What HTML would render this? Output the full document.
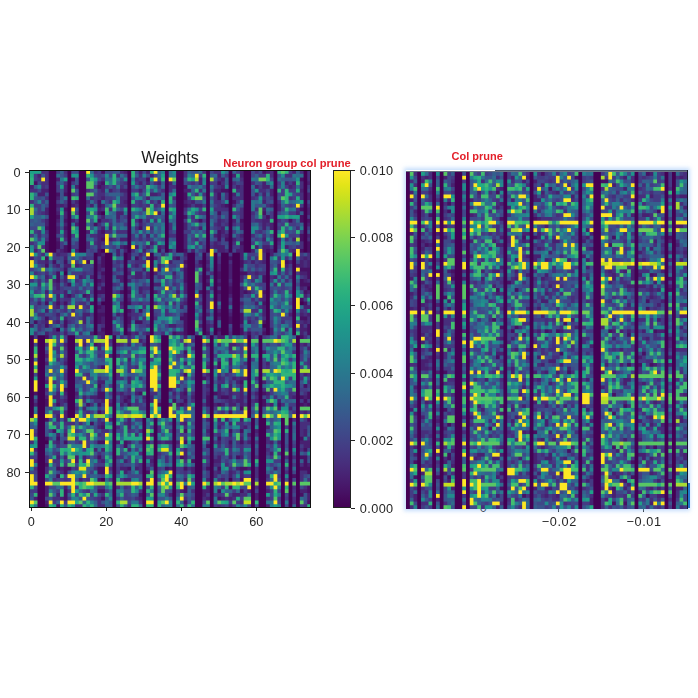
<!DOCTYPE html><html><head><meta charset="utf-8"><title>Weights</title><style>
*{margin:0;padding:0;box-sizing:border-box}
html,body{width:698px;height:698px;background:#fff;overflow:hidden}
body{position:relative;font-family:"Liberation Sans",sans-serif;color:#262626}
.a{position:absolute}
.t{position:absolute;font-size:12.7px;line-height:1;white-space:nowrap}
.tk{position:absolute;background:#262626}
.red{position:absolute;color:#e3202a;font-weight:bold;white-space:nowrap;line-height:1}
</style></head><body>
<div class="a" style="left:29.60px;top:170.40px;width:281.25px;height:337.50px"><svg width="281.25" height="337.50" viewBox="0 0 75 90" preserveAspectRatio="none" shape-rendering="crispEdges" style="display:block"><rect width="75" height="90" fill="#440154"/><path fill="#471164" d="M19 0h1v1h-1zM62 0h1v1h-1zM11 2h1v1h-1zM31 2h1v1h-1zM72 2h1v1h-1zM1 3h1v1h-1zM19 3h1v1h-1zM50 3h1v1h-1zM18 4h1v1h-1zM41 4h1v1h-1zM51 5h2v1h-2zM7 6h1v1h-1zM9 6h1v1h-1zM41 6h1v1h-1zM50 6h1v1h-1zM41 7h1v1h-1zM50 7h1v1h-1zM18 8h1v1h-1zM54 8h1v1h-1zM18 9h1v1h-1zM41 9h1v1h-1zM52 9h1v1h-1zM9 10h1v1h-1zM72 10h1v1h-1zM18 11h1v1h-1zM50 11h1v1h-1zM62 11h1v1h-1zM7 12h1v1h-1zM41 12h1v1h-1zM63 12h1v1h-1zM72 12h1v1h-1zM9 13h1v1h-1zM18 13h1v1h-1zM29 13h1v1h-1zM45 13h1v1h-1zM56 13h1v1h-1zM69 13h1v1h-1zM72 13h1v1h-1zM74 13h1v1h-1zM17 14h1v1h-1zM4 15h1v1h-1zM9 15h1v1h-1zM29 15h1v1h-1zM19 16h1v1h-1zM50 16h1v1h-1zM50 17h1v1h-1zM72 17h1v1h-1zM19 18h1v1h-1zM50 18h1v1h-1zM52 18h1v1h-1zM72 18h1v1h-1zM4 19h1v1h-1zM7 19h1v1h-1zM56 19h1v1h-1zM74 19h1v1h-1zM4 20h1v1h-1zM7 20h1v1h-1zM9 20h1v1h-1zM25 20h1v1h-1zM74 20h1v1h-1zM4 21h1v1h-1zM9 21h1v1h-1zM18 21h1v1h-1zM34 21h1v1h-1zM41 21h1v1h-1zM63 21h1v1h-1zM72 21h1v1h-1zM74 21h1v1h-1zM18 22h1v1h-1zM26 22h1v1h-1zM4 23h1v1h-1zM19 23h1v1h-1zM26 23h1v1h-1zM28 23h1v1h-1zM39 23h1v1h-1zM53 23h1v1h-1zM6 24h1v1h-1zM9 24h1v1h-1zM15 24h1v1h-1zM19 24h1v1h-1zM41 24h1v1h-1zM45 24h1v1h-1zM56 24h1v1h-1zM68 24h1v1h-1zM4 25h1v1h-1zM19 25h1v1h-1zM56 25h1v1h-1zM9 26h1v1h-1zM41 26h1v1h-1zM72 26h3v1h-3zM7 27h1v1h-1zM19 27h1v1h-1zM41 27h1v1h-1zM50 27h1v1h-1zM56 27h2v1h-2zM74 27h1v1h-1zM7 28h1v1h-1zM41 28h1v1h-1zM47 28h1v1h-1zM50 28h1v1h-1zM62 28h1v1h-1zM74 28h1v1h-1zM7 29h1v1h-1zM18 29h1v1h-1zM41 29h1v1h-1zM62 29h1v1h-1zM72 29h1v1h-1zM10 30h1v1h-1zM47 30h1v1h-1zM50 30h1v1h-1zM72 30h3v1h-3zM19 31h1v1h-1zM53 31h1v1h-1zM18 32h2v1h-2zM24 32h1v1h-1zM26 32h1v1h-1zM45 32h1v1h-1zM50 32h1v1h-1zM53 32h1v1h-1zM57 32h1v1h-1zM62 32h1v1h-1zM73 32h1v1h-1zM10 33h1v1h-1zM14 33h1v1h-1zM72 34h1v1h-1zM4 35h1v1h-1zM7 35h1v1h-1zM9 35h1v1h-1zM16 35h1v1h-1zM26 35h1v1h-1zM62 35h1v1h-1zM73 35h1v1h-1zM18 36h1v1h-1zM26 37h1v1h-1zM29 37h1v1h-1zM18 38h2v1h-2zM41 38h1v1h-1zM50 38h1v1h-1zM56 38h1v1h-1zM4 39h1v1h-1zM18 39h1v1h-1zM26 39h1v1h-1zM40 39h2v1h-2zM53 39h1v1h-1zM56 39h1v1h-1zM72 39h2v1h-2zM1 40h1v1h-1zM9 40h1v1h-1zM18 40h1v1h-1zM26 40h1v1h-1zM28 40h2v1h-2zM41 40h1v1h-1zM53 40h1v1h-1zM56 40h1v1h-1zM62 40h1v1h-1zM4 41h1v1h-1zM9 41h1v1h-1zM41 41h1v1h-1zM74 41h1v1h-1zM19 42h1v1h-1zM41 42h1v1h-1zM50 42h1v1h-1zM56 42h1v1h-1zM74 42h1v1h-1zM26 43h1v1h-1zM38 43h1v1h-1zM41 43h1v1h-1zM47 43h1v1h-1zM56 43h1v1h-1zM58 43h1v1h-1zM62 43h1v1h-1zM74 43h1v1h-1zM4 44h1v1h-1zM72 44h1v1h-1zM17 46h1v1h-1zM41 48h1v1h-1zM50 51h1v1h-1zM19 52h1v1h-1zM50 52h1v1h-1zM41 54h1v1h-1zM46 55h1v1h-1zM56 56h1v1h-1zM18 57h1v1h-1zM73 57h1v1h-1zM9 58h1v1h-1zM1 59h1v1h-1zM18 59h2v1h-2zM29 59h1v1h-1zM41 59h1v1h-1zM49 59h1v1h-1zM62 59h1v1h-1zM74 59h1v1h-1zM18 60h2v1h-2zM26 60h1v1h-1zM47 60h1v1h-1zM51 60h2v1h-2zM72 60h1v1h-1zM74 60h1v1h-1zM4 61h1v1h-1zM25 61h1v1h-1zM38 61h1v1h-1zM41 61h1v1h-1zM47 61h1v1h-1zM62 61h1v1h-1zM73 61h1v1h-1zM4 62h1v1h-1zM7 62h1v1h-1zM15 62h1v1h-1zM18 62h1v1h-1zM26 62h1v1h-1zM34 62h1v1h-1zM40 62h1v1h-1zM47 62h1v1h-1zM50 62h1v1h-1zM62 62h1v1h-1zM66 62h1v1h-1zM72 62h1v1h-1zM74 62h1v1h-1zM56 63h1v1h-1zM18 64h1v1h-1zM53 64h1v1h-1zM4 66h1v1h-1zM74 66h1v1h-1zM16 67h1v1h-1zM19 68h1v1h-1zM6 69h1v1h-1zM41 69h1v1h-1zM53 69h1v1h-1zM56 69h1v1h-1zM4 71h1v1h-1zM7 71h1v1h-1zM50 71h1v1h-1zM72 71h1v1h-1zM9 72h1v1h-1zM18 72h2v1h-2zM25 72h1v1h-1zM41 72h1v1h-1zM43 72h1v1h-1zM53 72h1v1h-1zM56 72h1v1h-1zM25 73h1v1h-1zM47 73h1v1h-1zM73 74h1v1h-1zM18 76h1v1h-1zM40 76h1v1h-1zM55 76h1v1h-1zM72 76h2v1h-2zM43 77h1v1h-1zM73 77h1v1h-1zM4 78h1v1h-1zM73 78h1v1h-1zM7 79h1v1h-1zM9 79h2v1h-2zM18 79h2v1h-2zM26 79h1v1h-1zM36 79h1v1h-1zM41 79h1v1h-1zM47 79h1v1h-1zM50 79h1v1h-1zM56 79h2v1h-2zM72 79h3v1h-3zM9 80h1v1h-1zM18 80h2v1h-2zM31 80h1v1h-1zM74 80h1v1h-1zM7 81h1v1h-1zM70 81h1v1h-1zM18 82h1v1h-1zM56 82h1v1h-1zM41 84h1v1h-1zM53 84h1v1h-1zM74 84h1v1h-1zM9 85h1v1h-1zM18 85h2v1h-2zM41 85h1v1h-1zM50 85h1v1h-1zM56 85h1v1h-1zM74 85h1v1h-1zM9 86h1v1h-1zM29 86h1v1h-1zM72 86h1v1h-1zM9 87h1v1h-1zM19 87h1v1h-1zM50 87h1v1h-1zM41 88h1v1h-1zM74 88h1v1h-1zM4 89h1v1h-1zM7 89h1v1h-1z"/><path fill="#482071" d="M25 0h1v1h-1zM29 0h1v1h-1zM31 0h1v1h-1zM56 0h1v1h-1zM63 0h1v1h-1zM70 0h1v1h-1zM2 1h1v1h-1zM32 1h1v1h-1zM50 1h1v1h-1zM54 1h1v1h-1zM56 1h1v1h-1zM7 2h1v1h-1zM45 2h1v1h-1zM51 2h1v1h-1zM18 3h1v1h-1zM29 3h1v1h-1zM31 3h1v1h-1zM34 3h1v1h-1zM37 3h1v1h-1zM45 3h1v1h-1zM62 3h1v1h-1zM68 3h1v1h-1zM70 3h1v1h-1zM74 3h1v1h-1zM0 4h1v1h-1zM9 4h1v1h-1zM12 4h1v1h-1zM19 4h1v1h-1zM51 4h1v1h-1zM55 4h1v1h-1zM60 4h1v1h-1zM62 4h2v1h-2zM69 4h1v1h-1zM3 5h2v1h-2zM9 5h1v1h-1zM19 5h1v1h-1zM21 5h1v1h-1zM24 5h2v1h-2zM29 5h1v1h-1zM41 5h2v1h-2zM49 5h2v1h-2zM64 5h1v1h-1zM72 5h1v1h-1zM2 6h2v1h-2zM32 6h2v1h-2zM54 6h1v1h-1zM60 6h1v1h-1zM62 6h1v1h-1zM64 6h1v1h-1zM74 6h1v1h-1zM7 7h1v1h-1zM19 7h1v1h-1zM31 7h1v1h-1zM74 7h1v1h-1zM12 8h1v1h-1zM25 8h1v1h-1zM34 8h1v1h-1zM41 8h1v1h-1zM43 8h1v1h-1zM62 8h1v1h-1zM7 9h2v1h-2zM11 9h1v1h-1zM16 9h1v1h-1zM19 9h1v1h-1zM42 9h1v1h-1zM44 9h2v1h-2zM51 9h1v1h-1zM64 9h1v1h-1zM66 9h1v1h-1zM4 10h1v1h-1zM18 10h1v1h-1zM62 10h1v1h-1zM66 10h1v1h-1zM74 10h1v1h-1zM4 11h1v1h-1zM7 11h1v1h-1zM9 11h1v1h-1zM23 11h2v1h-2zM34 11h1v1h-1zM71 11h1v1h-1zM74 11h1v1h-1zM9 12h1v1h-1zM19 12h1v1h-1zM23 12h1v1h-1zM4 13h1v1h-1zM7 13h1v1h-1zM11 13h1v1h-1zM50 13h1v1h-1zM54 13h1v1h-1zM62 13h2v1h-2zM4 14h1v1h-1zM9 14h1v1h-1zM12 14h1v1h-1zM29 14h1v1h-1zM41 14h1v1h-1zM50 14h1v1h-1zM56 14h1v1h-1zM62 14h1v1h-1zM64 14h1v1h-1zM74 14h1v1h-1zM7 15h1v1h-1zM19 15h1v1h-1zM21 15h1v1h-1zM41 15h1v1h-1zM45 15h1v1h-1zM51 15h1v1h-1zM56 15h1v1h-1zM62 15h1v1h-1zM64 15h1v1h-1zM7 16h1v1h-1zM9 16h1v1h-1zM15 16h1v1h-1zM18 16h1v1h-1zM51 16h1v1h-1zM9 17h1v1h-1zM18 17h2v1h-2zM31 17h1v1h-1zM41 17h1v1h-1zM49 17h1v1h-1zM52 17h1v1h-1zM56 17h1v1h-1zM74 17h1v1h-1zM7 18h1v1h-1zM18 18h1v1h-1zM21 18h1v1h-1zM24 18h2v1h-2zM41 18h1v1h-1zM54 18h1v1h-1zM62 18h1v1h-1zM66 18h1v1h-1zM70 18h1v1h-1zM18 19h1v1h-1zM32 19h1v1h-1zM41 19h1v1h-1zM49 19h1v1h-1zM18 20h1v1h-1zM24 20h1v1h-1zM28 20h1v1h-1zM31 20h1v1h-1zM34 20h1v1h-1zM41 20h1v1h-1zM49 20h3v1h-3zM56 20h1v1h-1zM60 20h1v1h-1zM62 20h2v1h-2zM68 20h1v1h-1zM1 21h1v1h-1zM8 21h1v1h-1zM12 21h1v1h-1zM23 21h1v1h-1zM25 21h1v1h-1zM30 21h1v1h-1zM37 21h1v1h-1zM43 21h1v1h-1zM50 21h2v1h-2zM55 21h2v1h-2zM59 21h1v1h-1zM62 21h1v1h-1zM64 21h1v1h-1zM70 21h1v1h-1zM7 22h1v1h-1zM19 22h1v1h-1zM23 22h1v1h-1zM29 22h1v1h-1zM41 22h1v1h-1zM56 22h1v1h-1zM64 22h1v1h-1zM0 23h1v1h-1zM9 23h1v1h-1zM31 23h1v1h-1zM33 23h1v1h-1zM38 23h1v1h-1zM56 23h1v1h-1zM73 23h1v1h-1zM4 24h1v1h-1zM37 24h1v1h-1zM47 24h1v1h-1zM59 24h1v1h-1zM62 24h1v1h-1zM69 24h1v1h-1zM72 24h1v1h-1zM74 24h1v1h-1zM7 25h1v1h-1zM9 25h2v1h-2zM12 25h1v1h-1zM18 25h1v1h-1zM28 25h1v1h-1zM34 25h1v1h-1zM41 25h1v1h-1zM45 25h1v1h-1zM50 25h1v1h-1zM53 25h1v1h-1zM66 25h1v1h-1zM68 25h1v1h-1zM71 25h2v1h-2zM74 25h1v1h-1zM18 26h1v1h-1zM30 26h1v1h-1zM34 26h1v1h-1zM47 26h1v1h-1zM50 26h1v1h-1zM53 26h1v1h-1zM66 26h1v1h-1zM26 27h1v1h-1zM28 27h2v1h-2zM31 27h1v1h-1zM33 27h1v1h-1zM38 27h1v1h-1zM53 27h1v1h-1zM60 27h1v1h-1zM72 27h2v1h-2zM4 28h1v1h-1zM9 28h1v1h-1zM13 28h1v1h-1zM16 28h1v1h-1zM19 28h1v1h-1zM23 28h2v1h-2zM28 28h2v1h-2zM31 28h1v1h-1zM53 28h1v1h-1zM56 28h1v1h-1zM65 28h1v1h-1zM6 29h1v1h-1zM9 29h1v1h-1zM19 29h1v1h-1zM24 29h1v1h-1zM26 29h1v1h-1zM47 29h1v1h-1zM50 29h1v1h-1zM56 29h1v1h-1zM73 29h1v1h-1zM7 30h1v1h-1zM18 30h1v1h-1zM33 30h2v1h-2zM41 30h1v1h-1zM53 30h1v1h-1zM7 31h1v1h-1zM26 31h1v1h-1zM29 31h1v1h-1zM41 31h1v1h-1zM56 31h1v1h-1zM72 31h1v1h-1zM4 32h1v1h-1zM9 32h1v1h-1zM29 32h1v1h-1zM33 32h1v1h-1zM39 32h1v1h-1zM41 32h1v1h-1zM47 32h1v1h-1zM56 32h1v1h-1zM58 32h1v1h-1zM74 32h1v1h-1zM7 33h1v1h-1zM9 33h1v1h-1zM15 33h1v1h-1zM50 33h1v1h-1zM53 33h1v1h-1zM56 33h1v1h-1zM62 33h1v1h-1zM73 33h1v1h-1zM7 34h1v1h-1zM26 34h1v1h-1zM50 34h1v1h-1zM62 34h1v1h-1zM2 35h1v1h-1zM24 35h1v1h-1zM41 35h1v1h-1zM56 35h1v1h-1zM60 35h1v1h-1zM7 36h1v1h-1zM19 36h1v1h-1zM40 36h1v1h-1zM62 36h1v1h-1zM73 36h2v1h-2zM4 37h1v1h-1zM18 37h2v1h-2zM50 37h1v1h-1zM62 37h1v1h-1zM7 38h1v1h-1zM14 38h2v1h-2zM23 38h1v1h-1zM26 38h1v1h-1zM47 38h1v1h-1zM53 38h1v1h-1zM62 38h1v1h-1zM69 38h1v1h-1zM72 38h1v1h-1zM74 38h1v1h-1zM9 39h1v1h-1zM14 39h1v1h-1zM19 39h1v1h-1zM50 39h1v1h-1zM4 40h1v1h-1zM7 40h1v1h-1zM14 40h1v1h-1zM19 40h1v1h-1zM58 40h1v1h-1zM73 40h1v1h-1zM0 41h1v1h-1zM26 41h1v1h-1zM37 41h2v1h-2zM45 41h1v1h-1zM47 41h1v1h-1zM72 41h1v1h-1zM47 42h1v1h-1zM62 42h1v1h-1zM64 42h1v1h-1zM72 42h2v1h-2zM4 43h1v1h-1zM9 43h1v1h-1zM16 43h1v1h-1zM18 43h2v1h-2zM28 43h1v1h-1zM31 43h1v1h-1zM39 43h2v1h-2zM50 43h1v1h-1zM64 43h1v1h-1zM72 43h1v1h-1zM19 44h1v1h-1zM26 44h1v1h-1zM41 44h1v1h-1zM50 44h2v1h-2zM29 45h1v1h-1zM9 46h1v1h-1zM14 46h1v1h-1zM18 46h1v1h-1zM23 46h1v1h-1zM26 46h1v1h-1zM30 46h1v1h-1zM47 46h1v1h-1zM53 46h2v1h-2zM73 46h1v1h-1zM18 47h1v1h-1zM53 47h1v1h-1zM74 47h1v1h-1zM62 48h1v1h-1zM4 49h1v1h-1zM21 49h1v1h-1zM23 49h1v1h-1zM41 49h1v1h-1zM26 50h1v1h-1zM53 50h1v1h-1zM4 51h1v1h-1zM9 51h1v1h-1zM41 51h1v1h-1zM53 51h1v1h-1zM63 51h1v1h-1zM47 52h1v1h-1zM53 53h1v1h-1zM47 54h1v1h-1zM73 54h1v1h-1zM26 55h1v1h-1zM50 55h1v1h-1zM54 55h1v1h-1zM56 55h2v1h-2zM4 56h1v1h-1zM18 56h2v1h-2zM26 56h1v1h-1zM55 56h1v1h-1zM62 56h1v1h-1zM47 57h1v1h-1zM50 57h1v1h-1zM53 57h1v1h-1zM56 57h1v1h-1zM18 58h1v1h-1zM37 58h1v1h-1zM41 58h1v1h-1zM50 58h1v1h-1zM53 58h1v1h-1zM56 58h1v1h-1zM7 59h1v1h-1zM9 59h1v1h-1zM12 59h1v1h-1zM24 59h1v1h-1zM28 59h1v1h-1zM38 59h1v1h-1zM40 59h1v1h-1zM47 59h1v1h-1zM50 59h1v1h-1zM53 59h1v1h-1zM56 59h1v1h-1zM60 59h1v1h-1zM63 59h1v1h-1zM4 60h1v1h-1zM6 60h2v1h-2zM14 60h1v1h-1zM16 60h2v1h-2zM25 60h1v1h-1zM30 60h1v1h-1zM32 60h1v1h-1zM40 60h2v1h-2zM43 60h1v1h-1zM50 60h1v1h-1zM53 60h1v1h-1zM56 60h1v1h-1zM70 60h1v1h-1zM73 60h1v1h-1zM7 61h1v1h-1zM9 61h1v1h-1zM19 61h1v1h-1zM26 61h1v1h-1zM32 61h1v1h-1zM53 61h1v1h-1zM55 61h2v1h-2zM60 61h1v1h-1zM66 61h1v1h-1zM1 62h1v1h-1zM21 62h1v1h-1zM24 62h1v1h-1zM37 62h1v1h-1zM39 62h1v1h-1zM41 62h1v1h-1zM49 62h1v1h-1zM51 62h1v1h-1zM53 62h2v1h-2zM56 62h1v1h-1zM64 62h1v1h-1zM73 62h1v1h-1zM14 63h1v1h-1zM66 63h1v1h-1zM69 63h1v1h-1zM9 64h1v1h-1zM73 64h1v1h-1zM7 65h1v1h-1zM9 65h1v1h-1zM7 66h1v1h-1zM9 66h1v1h-1zM21 66h1v1h-1zM26 66h1v1h-1zM47 66h1v1h-1zM50 66h1v1h-1zM52 66h1v1h-1zM56 66h1v1h-1zM19 67h1v1h-1zM26 67h1v1h-1zM41 67h1v1h-1zM53 67h1v1h-1zM18 68h1v1h-1zM26 68h1v1h-1zM50 68h1v1h-1zM57 68h1v1h-1zM63 68h1v1h-1zM47 69h1v1h-1zM60 69h1v1h-1zM73 69h1v1h-1zM7 70h1v1h-1zM9 70h1v1h-1zM32 70h1v1h-1zM53 70h1v1h-1zM58 70h1v1h-1zM73 70h1v1h-1zM56 71h1v1h-1zM7 72h1v1h-1zM23 72h1v1h-1zM26 72h1v1h-1zM31 72h1v1h-1zM34 72h1v1h-1zM36 72h2v1h-2zM39 72h1v1h-1zM50 72h1v1h-1zM58 72h1v1h-1zM64 72h1v1h-1zM66 72h1v1h-1zM72 72h3v1h-3zM53 73h1v1h-1zM73 73h2v1h-2zM1 74h1v1h-1zM17 74h1v1h-1zM19 74h1v1h-1zM26 74h1v1h-1zM41 74h1v1h-1zM41 75h1v1h-1zM64 75h1v1h-1zM7 76h1v1h-1zM9 76h1v1h-1zM12 76h1v1h-1zM14 76h1v1h-1zM41 76h1v1h-1zM50 76h1v1h-1zM53 76h1v1h-1zM56 76h1v1h-1zM12 77h1v1h-1zM19 77h1v1h-1zM25 77h1v1h-1zM32 77h1v1h-1zM49 77h2v1h-2zM74 78h1v1h-1zM8 79h1v1h-1zM24 79h2v1h-2zM28 79h1v1h-1zM37 79h1v1h-1zM43 79h1v1h-1zM55 79h1v1h-1zM58 79h1v1h-1zM65 79h1v1h-1zM25 80h1v1h-1zM43 80h1v1h-1zM50 80h1v1h-1zM53 80h1v1h-1zM56 80h1v1h-1zM53 81h1v1h-1zM56 81h1v1h-1zM13 82h1v1h-1zM25 82h2v1h-2zM41 82h1v1h-1zM47 82h1v1h-1zM51 82h1v1h-1zM4 84h1v1h-1zM9 84h1v1h-1zM47 84h1v1h-1zM4 85h1v1h-1zM40 85h1v1h-1zM46 85h2v1h-2zM58 85h1v1h-1zM63 85h1v1h-1zM72 85h2v1h-2zM4 86h1v1h-1zM7 86h1v1h-1zM37 86h1v1h-1zM46 86h1v1h-1zM54 86h2v1h-2zM60 86h1v1h-1zM74 86h1v1h-1zM1 87h1v1h-1zM8 87h1v1h-1zM29 87h1v1h-1zM47 87h1v1h-1zM51 87h1v1h-1zM53 87h1v1h-1zM60 87h1v1h-1zM74 87h1v1h-1zM4 88h1v1h-1zM53 89h1v1h-1zM63 89h1v1h-1z"/><path fill="#472e7c" d="M3 0h2v1h-2zM9 0h1v1h-1zM17 0h1v1h-1zM24 0h1v1h-1zM41 0h1v1h-1zM46 0h1v1h-1zM49 0h2v1h-2zM60 0h1v1h-1zM64 0h1v1h-1zM72 0h1v1h-1zM74 0h1v1h-1zM4 1h1v1h-1zM23 1h1v1h-1zM29 1h1v1h-1zM41 1h1v1h-1zM64 1h1v1h-1zM68 1h2v1h-2zM74 1h1v1h-1zM2 2h1v1h-1zM4 2h1v1h-1zM19 2h1v1h-1zM28 2h1v1h-1zM50 2h1v1h-1zM56 2h1v1h-1zM74 2h1v1h-1zM3 3h2v1h-2zM9 3h1v1h-1zM25 3h1v1h-1zM33 3h1v1h-1zM43 3h1v1h-1zM51 3h1v1h-1zM54 3h1v1h-1zM59 3h1v1h-1zM72 3h1v1h-1zM3 4h1v1h-1zM24 4h1v1h-1zM37 4h2v1h-2zM50 4h1v1h-1zM56 4h1v1h-1zM70 4h1v1h-1zM72 4h1v1h-1zM0 5h2v1h-2zM15 5h1v1h-1zM18 5h1v1h-1zM35 5h1v1h-1zM37 5h1v1h-1zM45 5h1v1h-1zM55 5h2v1h-2zM61 5h2v1h-2zM18 6h2v1h-2zM25 6h1v1h-1zM34 6h1v1h-1zM44 6h1v1h-1zM46 6h1v1h-1zM49 6h1v1h-1zM52 6h1v1h-1zM56 6h1v1h-1zM72 6h1v1h-1zM4 7h1v1h-1zM16 7h1v1h-1zM18 7h1v1h-1zM24 7h2v1h-2zM38 7h1v1h-1zM49 7h1v1h-1zM52 7h1v1h-1zM54 7h3v1h-3zM59 7h1v1h-1zM62 7h1v1h-1zM69 7h1v1h-1zM72 7h1v1h-1zM0 8h1v1h-1zM15 8h1v1h-1zM21 8h1v1h-1zM24 8h1v1h-1zM29 8h1v1h-1zM32 8h1v1h-1zM42 8h1v1h-1zM49 8h2v1h-2zM66 8h1v1h-1zM9 9h1v1h-1zM12 9h1v1h-1zM24 9h2v1h-2zM29 9h1v1h-1zM31 9h1v1h-1zM33 9h1v1h-1zM50 9h1v1h-1zM54 9h1v1h-1zM63 9h1v1h-1zM74 9h1v1h-1zM7 10h1v1h-1zM19 10h1v1h-1zM21 10h1v1h-1zM30 10h1v1h-1zM41 10h1v1h-1zM49 10h4v1h-4zM56 10h1v1h-1zM60 10h1v1h-1zM71 10h1v1h-1zM3 11h1v1h-1zM45 11h2v1h-2zM56 11h1v1h-1zM59 11h1v1h-1zM43 12h1v1h-1zM50 12h1v1h-1zM56 12h1v1h-1zM62 12h1v1h-1zM19 13h2v1h-2zM23 13h1v1h-1zM28 13h1v1h-1zM31 13h1v1h-1zM33 13h1v1h-1zM44 13h1v1h-1zM51 13h1v1h-1zM60 13h2v1h-2zM66 13h1v1h-1zM7 14h1v1h-1zM18 14h1v1h-1zM21 14h1v1h-1zM37 14h1v1h-1zM49 14h1v1h-1zM52 14h1v1h-1zM54 14h1v1h-1zM63 14h1v1h-1zM28 15h1v1h-1zM32 15h1v1h-1zM37 15h1v1h-1zM50 15h1v1h-1zM71 15h1v1h-1zM2 16h1v1h-1zM4 16h1v1h-1zM20 16h2v1h-2zM23 16h3v1h-3zM61 16h1v1h-1zM2 17h1v1h-1zM16 17h2v1h-2zM29 17h1v1h-1zM37 17h2v1h-2zM51 17h1v1h-1zM59 17h1v1h-1zM62 17h1v1h-1zM4 18h1v1h-1zM9 18h1v1h-1zM22 18h1v1h-1zM29 18h1v1h-1zM31 18h1v1h-1zM44 18h1v1h-1zM56 18h1v1h-1zM68 18h1v1h-1zM74 18h1v1h-1zM0 19h1v1h-1zM15 19h1v1h-1zM17 19h1v1h-1zM19 19h1v1h-1zM45 19h1v1h-1zM50 19h1v1h-1zM54 19h1v1h-1zM66 19h1v1h-1zM72 19h1v1h-1zM3 20h1v1h-1zM15 20h1v1h-1zM35 20h1v1h-1zM48 20h1v1h-1zM71 20h2v1h-2zM7 21h1v1h-1zM27 21h1v1h-1zM46 21h1v1h-1zM52 21h1v1h-1zM69 21h1v1h-1zM3 22h1v1h-1zM8 22h2v1h-2zM35 22h1v1h-1zM62 22h1v1h-1zM74 22h1v1h-1zM14 23h1v1h-1zM29 23h1v1h-1zM41 23h1v1h-1zM47 23h1v1h-1zM50 23h1v1h-1zM58 23h1v1h-1zM60 23h1v1h-1zM62 23h1v1h-1zM66 23h1v1h-1zM68 23h1v1h-1zM72 23h1v1h-1zM74 23h1v1h-1zM2 24h2v1h-2zM18 24h1v1h-1zM23 24h1v1h-1zM28 24h3v1h-3zM50 24h1v1h-1zM53 24h1v1h-1zM57 24h1v1h-1zM61 24h1v1h-1zM73 24h1v1h-1zM6 25h1v1h-1zM13 25h1v1h-1zM27 25h1v1h-1zM44 25h1v1h-1zM47 25h1v1h-1zM60 25h1v1h-1zM73 25h1v1h-1zM19 26h1v1h-1zM23 26h1v1h-1zM26 26h1v1h-1zM56 26h1v1h-1zM68 26h1v1h-1zM1 27h1v1h-1zM4 27h1v1h-1zM14 27h1v1h-1zM18 27h1v1h-1zM48 27h1v1h-1zM58 27h2v1h-2zM61 27h2v1h-2zM66 27h1v1h-1zM68 27h1v1h-1zM14 28h1v1h-1zM27 28h1v1h-1zM34 28h1v1h-1zM38 28h1v1h-1zM45 28h1v1h-1zM60 28h1v1h-1zM64 28h1v1h-1zM69 28h1v1h-1zM73 28h1v1h-1zM0 29h1v1h-1zM2 29h1v1h-1zM4 29h1v1h-1zM12 29h1v1h-1zM45 29h1v1h-1zM53 29h1v1h-1zM59 29h1v1h-1zM68 29h1v1h-1zM74 29h1v1h-1zM2 30h1v1h-1zM6 30h1v1h-1zM9 30h1v1h-1zM22 30h1v1h-1zM38 30h1v1h-1zM65 30h1v1h-1zM30 31h2v1h-2zM48 31h1v1h-1zM50 31h1v1h-1zM73 31h1v1h-1zM6 32h2v1h-2zM12 32h1v1h-1zM23 32h1v1h-1zM11 33h1v1h-1zM18 33h1v1h-1zM26 33h1v1h-1zM30 33h1v1h-1zM47 33h1v1h-1zM4 34h1v1h-1zM9 34h2v1h-2zM15 34h1v1h-1zM19 34h1v1h-1zM41 34h1v1h-1zM47 34h1v1h-1zM59 34h1v1h-1zM61 34h1v1h-1zM6 35h1v1h-1zM8 35h1v1h-1zM13 35h2v1h-2zM18 35h1v1h-1zM29 35h1v1h-1zM33 35h1v1h-1zM36 35h1v1h-1zM38 35h1v1h-1zM40 35h1v1h-1zM45 35h1v1h-1zM47 35h1v1h-1zM53 35h1v1h-1zM6 36h1v1h-1zM9 36h1v1h-1zM12 36h1v1h-1zM15 36h1v1h-1zM24 36h1v1h-1zM30 36h1v1h-1zM47 36h1v1h-1zM56 36h1v1h-1zM61 36h1v1h-1zM9 37h1v1h-1zM11 37h1v1h-1zM27 37h1v1h-1zM36 37h1v1h-1zM53 37h1v1h-1zM59 37h2v1h-2zM72 37h1v1h-1zM2 38h2v1h-2zM24 38h1v1h-1zM27 38h2v1h-2zM36 38h1v1h-1zM40 38h1v1h-1zM73 38h1v1h-1zM7 39h1v1h-1zM22 39h1v1h-1zM28 39h1v1h-1zM30 39h1v1h-1zM33 39h1v1h-1zM45 39h1v1h-1zM58 39h1v1h-1zM60 39h1v1h-1zM62 39h1v1h-1zM74 39h1v1h-1zM3 40h1v1h-1zM6 40h1v1h-1zM10 40h1v1h-1zM47 40h1v1h-1zM67 40h1v1h-1zM72 40h1v1h-1zM74 40h1v1h-1zM2 41h1v1h-1zM19 41h1v1h-1zM31 41h1v1h-1zM48 41h1v1h-1zM56 41h1v1h-1zM2 42h1v1h-1zM6 42h1v1h-1zM9 42h1v1h-1zM68 42h1v1h-1zM1 43h1v1h-1zM6 43h2v1h-2zM13 43h1v1h-1zM22 43h2v1h-2zM27 43h1v1h-1zM30 43h1v1h-1zM35 43h1v1h-1zM53 43h1v1h-1zM57 43h1v1h-1zM60 43h1v1h-1zM24 44h1v1h-1zM66 44h1v1h-1zM73 44h1v1h-1zM14 45h1v1h-1zM21 45h1v1h-1zM26 45h1v1h-1zM43 45h1v1h-1zM4 46h1v1h-1zM24 46h1v1h-1zM41 46h1v1h-1zM50 46h1v1h-1zM55 46h1v1h-1zM72 46h1v1h-1zM7 47h1v1h-1zM9 47h1v1h-1zM43 47h1v1h-1zM7 48h1v1h-1zM53 48h1v1h-1zM70 48h1v1h-1zM72 48h1v1h-1zM18 49h1v1h-1zM7 50h1v1h-1zM9 50h1v1h-1zM50 50h1v1h-1zM74 50h1v1h-1zM26 51h1v1h-1zM47 51h1v1h-1zM57 51h1v1h-1zM74 51h1v1h-1zM18 52h1v1h-1zM26 52h1v1h-1zM28 52h1v1h-1zM53 52h1v1h-1zM63 52h1v1h-1zM26 53h1v1h-1zM9 54h1v1h-1zM15 54h1v1h-1zM23 54h1v1h-1zM50 54h1v1h-1zM52 54h1v1h-1zM74 54h1v1h-1zM9 55h1v1h-1zM18 55h1v1h-1zM23 55h2v1h-2zM29 55h1v1h-1zM41 55h1v1h-1zM47 55h1v1h-1zM51 55h1v1h-1zM55 55h1v1h-1zM60 55h1v1h-1zM72 55h1v1h-1zM6 56h1v1h-1zM50 56h2v1h-2zM53 56h1v1h-1zM74 56h1v1h-1zM39 57h1v1h-1zM4 58h1v1h-1zM26 58h1v1h-1zM47 58h1v1h-1zM62 58h1v1h-1zM23 59h1v1h-1zM26 59h1v1h-1zM32 59h2v1h-2zM43 59h1v1h-1zM51 59h1v1h-1zM54 59h2v1h-2zM69 59h1v1h-1zM73 59h1v1h-1zM9 60h1v1h-1zM12 60h1v1h-1zM24 60h1v1h-1zM38 60h1v1h-1zM55 60h1v1h-1zM60 60h1v1h-1zM63 60h1v1h-1zM65 60h1v1h-1zM69 60h1v1h-1zM8 61h1v1h-1zM14 61h1v1h-1zM17 61h2v1h-2zM21 61h1v1h-1zM24 61h1v1h-1zM28 61h1v1h-1zM30 61h1v1h-1zM43 61h1v1h-1zM52 61h1v1h-1zM54 61h1v1h-1zM59 61h1v1h-1zM8 62h1v1h-1zM16 62h1v1h-1zM28 62h1v1h-1zM46 62h1v1h-1zM57 62h1v1h-1zM63 62h1v1h-1zM67 62h1v1h-1zM12 63h1v1h-1zM6 64h2v1h-2zM15 64h1v1h-1zM19 64h1v1h-1zM51 64h1v1h-1zM70 64h1v1h-1zM72 64h1v1h-1zM18 66h1v1h-1zM70 66h1v1h-1zM9 67h3v1h-3zM13 67h1v1h-1zM18 67h1v1h-1zM25 67h1v1h-1zM40 67h1v1h-1zM50 67h2v1h-2zM56 67h1v1h-1zM72 67h3v1h-3zM23 68h1v1h-1zM34 68h1v1h-1zM41 68h1v1h-1zM56 68h1v1h-1zM72 68h2v1h-2zM9 69h1v1h-1zM19 69h2v1h-2zM26 69h1v1h-1zM29 69h1v1h-1zM34 69h1v1h-1zM72 69h1v1h-1zM1 70h1v1h-1zM18 70h1v1h-1zM28 70h1v1h-1zM47 70h1v1h-1zM50 70h1v1h-1zM56 70h1v1h-1zM60 70h1v1h-1zM72 70h1v1h-1zM41 71h1v1h-1zM53 71h1v1h-1zM63 71h1v1h-1zM74 71h1v1h-1zM0 72h1v1h-1zM6 72h1v1h-1zM13 72h1v1h-1zM29 72h1v1h-1zM35 72h1v1h-1zM55 72h1v1h-1zM63 72h1v1h-1zM7 73h1v1h-1zM50 73h1v1h-1zM56 73h1v1h-1zM53 74h1v1h-1zM56 74h1v1h-1zM63 74h1v1h-1zM72 74h1v1h-1zM7 75h1v1h-1zM18 75h1v1h-1zM29 75h1v1h-1zM34 75h1v1h-1zM53 75h1v1h-1zM56 75h1v1h-1zM66 75h1v1h-1zM4 76h1v1h-1zM23 76h2v1h-2zM31 76h2v1h-2zM36 76h1v1h-1zM47 76h1v1h-1zM60 76h1v1h-1zM68 76h1v1h-1zM70 76h1v1h-1zM1 77h1v1h-1zM4 77h1v1h-1zM6 77h2v1h-2zM14 77h1v1h-1zM18 77h1v1h-1zM36 77h1v1h-1zM41 77h1v1h-1zM7 78h1v1h-1zM9 78h1v1h-1zM29 78h1v1h-1zM32 78h1v1h-1zM47 78h1v1h-1zM49 78h2v1h-2zM52 78h1v1h-1zM72 78h1v1h-1zM1 79h1v1h-1zM4 79h1v1h-1zM12 79h1v1h-1zM17 79h1v1h-1zM21 79h1v1h-1zM29 79h1v1h-1zM31 79h1v1h-1zM42 79h1v1h-1zM53 79h1v1h-1zM60 79h1v1h-1zM4 80h1v1h-1zM8 80h1v1h-1zM29 80h1v1h-1zM41 80h1v1h-1zM49 80h1v1h-1zM54 80h1v1h-1zM60 80h1v1h-1zM68 80h1v1h-1zM72 80h2v1h-2zM49 81h1v1h-1zM60 81h1v1h-1zM63 81h1v1h-1zM72 81h1v1h-1zM6 82h1v1h-1zM9 82h1v1h-1zM15 82h1v1h-1zM50 82h1v1h-1zM72 82h1v1h-1zM74 82h1v1h-1zM18 84h2v1h-2zM23 84h1v1h-1zM25 84h1v1h-1zM60 84h1v1h-1zM70 84h1v1h-1zM73 84h1v1h-1zM10 85h1v1h-1zM15 85h1v1h-1zM29 85h1v1h-1zM43 85h1v1h-1zM19 86h1v1h-1zM50 86h1v1h-1zM56 86h2v1h-2zM6 87h2v1h-2zM18 87h1v1h-1zM28 87h1v1h-1zM41 87h1v1h-1zM46 87h1v1h-1zM52 87h1v1h-1zM54 87h1v1h-1zM63 87h1v1h-1zM70 87h1v1h-1zM18 88h1v1h-1zM29 88h1v1h-1zM56 88h1v1h-1zM70 88h1v1h-1zM12 89h2v1h-2zM18 89h2v1h-2zM26 89h1v1h-1zM41 89h1v1h-1zM50 89h1v1h-1zM73 89h1v1h-1z"/><path fill="#443b84" d="M7 0h1v1h-1zM18 0h1v1h-1zM55 0h1v1h-1zM69 0h1v1h-1zM1 1h1v1h-1zM9 1h1v1h-1zM18 1h1v1h-1zM45 1h1v1h-1zM52 1h1v1h-1zM61 1h2v1h-2zM1 2h1v1h-1zM29 2h2v1h-2zM11 3h1v1h-1zM24 3h1v1h-1zM28 3h1v1h-1zM42 3h1v1h-1zM48 3h2v1h-2zM56 3h1v1h-1zM66 3h1v1h-1zM69 3h1v1h-1zM4 4h1v1h-1zM7 4h1v1h-1zM17 4h1v1h-1zM20 4h1v1h-1zM22 4h1v1h-1zM30 4h1v1h-1zM34 4h1v1h-1zM49 4h1v1h-1zM54 4h1v1h-1zM61 4h1v1h-1zM68 4h1v1h-1zM74 4h1v1h-1zM7 5h1v1h-1zM22 5h1v1h-1zM27 5h2v1h-2zM67 5h1v1h-1zM69 5h2v1h-2zM11 6h1v1h-1zM29 6h1v1h-1zM67 6h1v1h-1zM71 6h1v1h-1zM17 7h1v1h-1zM20 7h2v1h-2zM60 7h1v1h-1zM64 7h1v1h-1zM70 7h1v1h-1zM3 8h1v1h-1zM7 8h1v1h-1zM9 8h1v1h-1zM11 8h1v1h-1zM17 8h1v1h-1zM28 8h1v1h-1zM55 8h1v1h-1zM1 9h2v1h-2zM15 9h1v1h-1zM23 9h1v1h-1zM27 9h2v1h-2zM30 9h1v1h-1zM34 9h1v1h-1zM43 9h1v1h-1zM46 9h1v1h-1zM49 9h1v1h-1zM69 9h1v1h-1zM72 9h1v1h-1zM2 10h1v1h-1zM45 10h1v1h-1zM2 11h1v1h-1zM12 11h1v1h-1zM41 11h1v1h-1zM54 11h2v1h-2zM64 11h1v1h-1zM69 11h2v1h-2zM18 12h1v1h-1zM25 12h1v1h-1zM31 12h2v1h-2zM59 12h1v1h-1zM64 12h1v1h-1zM74 12h1v1h-1zM3 13h1v1h-1zM12 13h1v1h-1zM21 13h1v1h-1zM41 13h1v1h-1zM43 13h1v1h-1zM46 13h1v1h-1zM52 13h1v1h-1zM59 13h1v1h-1zM68 13h1v1h-1zM70 13h1v1h-1zM25 14h1v1h-1zM30 14h1v1h-1zM51 14h1v1h-1zM61 14h1v1h-1zM67 14h1v1h-1zM69 14h2v1h-2zM18 15h1v1h-1zM43 15h1v1h-1zM49 15h1v1h-1zM66 15h1v1h-1zM74 15h1v1h-1zM1 16h1v1h-1zM32 16h1v1h-1zM37 16h1v1h-1zM41 16h2v1h-2zM52 16h1v1h-1zM54 16h1v1h-1zM60 16h1v1h-1zM72 16h1v1h-1zM0 17h1v1h-1zM4 17h1v1h-1zM11 17h1v1h-1zM27 17h1v1h-1zM33 17h1v1h-1zM55 17h1v1h-1zM64 17h1v1h-1zM69 17h2v1h-2zM2 18h1v1h-1zM17 18h1v1h-1zM27 18h1v1h-1zM32 18h1v1h-1zM43 18h1v1h-1zM55 18h1v1h-1zM60 18h1v1h-1zM8 19h1v1h-1zM12 19h1v1h-1zM33 19h1v1h-1zM48 19h1v1h-1zM59 19h1v1h-1zM62 19h2v1h-2zM1 20h1v1h-1zM8 20h1v1h-1zM11 20h2v1h-2zM19 20h1v1h-1zM22 20h1v1h-1zM30 20h1v1h-1zM32 20h1v1h-1zM46 20h1v1h-1zM54 20h2v1h-2zM64 20h1v1h-1zM66 20h1v1h-1zM69 20h1v1h-1zM16 21h1v1h-1zM45 21h1v1h-1zM6 22h1v1h-1zM30 22h1v1h-1zM44 22h1v1h-1zM47 22h1v1h-1zM53 22h1v1h-1zM58 22h2v1h-2zM72 22h1v1h-1zM2 23h1v1h-1zM6 23h2v1h-2zM15 23h2v1h-2zM18 23h1v1h-1zM12 24h1v1h-1zM24 24h1v1h-1zM27 24h1v1h-1zM44 24h1v1h-1zM58 24h1v1h-1zM60 24h1v1h-1zM66 24h1v1h-1zM3 25h1v1h-1zM22 25h2v1h-2zM29 25h1v1h-1zM37 25h2v1h-2zM61 25h2v1h-2zM69 25h1v1h-1zM0 26h1v1h-1zM8 26h1v1h-1zM16 26h1v1h-1zM24 26h1v1h-1zM40 26h1v1h-1zM58 26h1v1h-1zM60 26h1v1h-1zM62 26h1v1h-1zM2 27h1v1h-1zM6 27h1v1h-1zM11 27h3v1h-3zM15 27h2v1h-2zM22 27h1v1h-1zM71 27h1v1h-1zM5 28h1v1h-1zM18 28h1v1h-1zM26 28h1v1h-1zM30 28h1v1h-1zM35 28h1v1h-1zM59 28h1v1h-1zM67 28h1v1h-1zM72 28h1v1h-1zM8 29h1v1h-1zM13 29h1v1h-1zM28 29h1v1h-1zM38 29h1v1h-1zM64 29h1v1h-1zM66 29h1v1h-1zM13 30h1v1h-1zM19 30h1v1h-1zM23 30h1v1h-1zM30 30h1v1h-1zM39 30h1v1h-1zM61 30h2v1h-2zM67 30h1v1h-1zM2 31h1v1h-1zM6 31h1v1h-1zM8 31h1v1h-1zM12 31h1v1h-1zM14 31h1v1h-1zM18 31h1v1h-1zM37 31h1v1h-1zM39 31h1v1h-1zM62 31h1v1h-1zM67 31h1v1h-1zM1 32h1v1h-1zM8 32h1v1h-1zM11 32h1v1h-1zM13 32h1v1h-1zM16 32h1v1h-1zM22 32h1v1h-1zM30 32h1v1h-1zM34 32h1v1h-1zM59 32h1v1h-1zM64 32h1v1h-1zM66 32h1v1h-1zM69 32h1v1h-1zM4 33h1v1h-1zM19 33h1v1h-1zM39 33h1v1h-1zM45 33h1v1h-1zM58 33h1v1h-1zM60 33h1v1h-1zM74 33h1v1h-1zM0 34h1v1h-1zM2 34h1v1h-1zM5 34h1v1h-1zM8 34h1v1h-1zM53 34h1v1h-1zM73 34h1v1h-1zM10 35h1v1h-1zM12 35h1v1h-1zM27 35h2v1h-2zM30 35h2v1h-2zM69 35h1v1h-1zM1 36h1v1h-1zM14 36h1v1h-1zM1 37h1v1h-1zM6 37h1v1h-1zM8 37h1v1h-1zM14 37h1v1h-1zM47 37h1v1h-1zM69 37h1v1h-1zM73 37h1v1h-1zM6 38h1v1h-1zM10 38h1v1h-1zM16 38h1v1h-1zM29 38h1v1h-1zM33 38h1v1h-1zM37 38h1v1h-1zM45 38h1v1h-1zM3 39h1v1h-1zM5 39h1v1h-1zM10 39h2v1h-2zM13 39h1v1h-1zM24 39h1v1h-1zM27 39h1v1h-1zM67 39h3v1h-3zM2 40h1v1h-1zM11 40h1v1h-1zM16 40h1v1h-1zM30 40h1v1h-1zM59 40h1v1h-1zM64 40h1v1h-1zM3 41h1v1h-1zM5 41h1v1h-1zM8 41h1v1h-1zM12 41h1v1h-1zM14 41h1v1h-1zM18 41h1v1h-1zM29 41h2v1h-2zM36 41h1v1h-1zM39 41h2v1h-2zM64 41h1v1h-1zM73 41h1v1h-1zM14 42h1v1h-1zM18 42h1v1h-1zM26 42h1v1h-1zM53 42h1v1h-1zM58 42h1v1h-1zM5 43h1v1h-1zM44 43h1v1h-1zM59 43h1v1h-1zM67 43h1v1h-1zM73 43h1v1h-1zM1 44h1v1h-1zM5 44h1v1h-1zM7 44h1v1h-1zM9 44h1v1h-1zM18 44h1v1h-1zM27 44h1v1h-1zM47 44h1v1h-1zM53 44h1v1h-1zM59 44h1v1h-1zM62 44h1v1h-1zM30 45h1v1h-1zM40 45h1v1h-1zM7 46h1v1h-1zM12 46h1v1h-1zM19 46h1v1h-1zM21 46h1v1h-1zM34 46h1v1h-1zM56 46h1v1h-1zM63 46h1v1h-1zM66 46h1v1h-1zM70 46h1v1h-1zM6 47h1v1h-1zM14 47h1v1h-1zM47 47h1v1h-1zM56 47h1v1h-1zM72 47h1v1h-1zM4 48h1v1h-1zM9 48h1v1h-1zM18 48h2v1h-2zM26 48h1v1h-1zM47 48h1v1h-1zM50 48h1v1h-1zM54 48h1v1h-1zM56 48h1v1h-1zM9 49h1v1h-1zM14 49h1v1h-1zM19 49h1v1h-1zM28 49h1v1h-1zM39 49h2v1h-2zM47 49h1v1h-1zM49 49h1v1h-1zM66 49h1v1h-1zM72 49h1v1h-1zM4 50h1v1h-1zM32 50h1v1h-1zM59 50h1v1h-1zM69 50h1v1h-1zM72 50h1v1h-1zM62 51h1v1h-1zM73 51h1v1h-1zM27 52h1v1h-1zM49 52h1v1h-1zM56 52h1v1h-1zM62 52h1v1h-1zM72 52h1v1h-1zM74 52h1v1h-1zM9 53h1v1h-1zM14 54h1v1h-1zM40 54h1v1h-1zM46 54h1v1h-1zM53 54h1v1h-1zM72 54h1v1h-1zM4 55h1v1h-1zM13 55h1v1h-1zM15 55h1v1h-1zM43 55h1v1h-1zM53 55h1v1h-1zM69 55h1v1h-1zM34 56h1v1h-1zM40 56h1v1h-1zM14 57h1v1h-1zM19 57h1v1h-1zM21 57h1v1h-1zM46 57h1v1h-1zM55 57h1v1h-1zM74 57h1v1h-1zM7 58h1v1h-1zM14 58h1v1h-1zM28 58h3v1h-3zM38 58h1v1h-1zM46 58h1v1h-1zM52 58h1v1h-1zM64 58h1v1h-1zM72 58h2v1h-2zM4 59h1v1h-1zM21 59h1v1h-1zM25 59h1v1h-1zM46 59h1v1h-1zM52 59h1v1h-1zM59 59h1v1h-1zM64 59h1v1h-1zM70 59h1v1h-1zM15 60h1v1h-1zM46 60h1v1h-1zM57 60h1v1h-1zM1 61h1v1h-1zM34 61h1v1h-1zM40 61h1v1h-1zM51 61h1v1h-1zM72 61h1v1h-1zM74 61h1v1h-1zM6 62h1v1h-1zM19 62h1v1h-1zM25 62h1v1h-1zM27 62h1v1h-1zM29 62h1v1h-1zM59 62h1v1h-1zM69 62h2v1h-2zM18 63h1v1h-1zM29 63h2v1h-2zM39 63h1v1h-1zM41 63h1v1h-1zM47 63h1v1h-1zM49 63h1v1h-1zM14 64h1v1h-1zM16 64h1v1h-1zM47 64h1v1h-1zM50 64h1v1h-1zM74 64h1v1h-1zM28 66h2v1h-2zM41 66h1v1h-1zM73 66h1v1h-1zM6 67h1v1h-1zM37 67h1v1h-1zM55 67h1v1h-1zM58 67h1v1h-1zM7 68h1v1h-1zM9 68h1v1h-1zM47 68h1v1h-1zM68 68h1v1h-1zM1 69h1v1h-1zM5 69h1v1h-1zM12 69h1v1h-1zM27 69h1v1h-1zM37 69h1v1h-1zM43 69h1v1h-1zM15 70h1v1h-1zM19 70h1v1h-1zM40 70h2v1h-2zM43 70h1v1h-1zM49 70h1v1h-1zM12 71h1v1h-1zM15 71h1v1h-1zM19 71h1v1h-1zM52 71h1v1h-1zM58 71h1v1h-1zM12 72h1v1h-1zM15 72h1v1h-1zM17 72h1v1h-1zM32 72h1v1h-1zM47 72h1v1h-1zM49 72h1v1h-1zM52 72h1v1h-1zM57 72h1v1h-1zM60 72h1v1h-1zM4 73h1v1h-1zM15 73h1v1h-1zM39 73h1v1h-1zM52 73h1v1h-1zM55 73h1v1h-1zM64 73h1v1h-1zM66 73h1v1h-1zM70 73h1v1h-1zM72 73h1v1h-1zM14 74h1v1h-1zM28 74h1v1h-1zM6 75h1v1h-1zM50 75h2v1h-2zM63 75h1v1h-1zM0 76h2v1h-2zM15 76h1v1h-1zM17 76h1v1h-1zM19 76h1v1h-1zM26 76h1v1h-1zM34 76h1v1h-1zM46 76h1v1h-1zM49 76h1v1h-1zM64 76h1v1h-1zM9 77h1v1h-1zM26 77h1v1h-1zM47 77h1v1h-1zM52 77h1v1h-1zM65 77h2v1h-2zM18 78h2v1h-2zM24 78h1v1h-1zM28 78h1v1h-1zM64 78h1v1h-1zM70 78h1v1h-1zM11 79h1v1h-1zM23 79h1v1h-1zM34 79h1v1h-1zM39 79h2v1h-2zM46 79h1v1h-1zM1 80h1v1h-1zM16 80h1v1h-1zM23 80h1v1h-1zM26 80h1v1h-1zM40 80h1v1h-1zM47 80h1v1h-1zM9 81h1v1h-1zM19 81h1v1h-1zM41 81h1v1h-1zM47 81h1v1h-1zM51 81h1v1h-1zM57 81h2v1h-2zM66 81h1v1h-1zM7 82h2v1h-2zM10 82h1v1h-1zM14 82h1v1h-1zM21 82h1v1h-1zM24 82h1v1h-1zM31 82h1v1h-1zM54 82h1v1h-1zM63 82h1v1h-1zM12 84h1v1h-1zM26 84h1v1h-1zM51 84h1v1h-1zM63 84h1v1h-1zM0 85h2v1h-2zM7 85h1v1h-1zM14 85h1v1h-1zM20 85h1v1h-1zM39 85h1v1h-1zM54 85h1v1h-1zM57 85h1v1h-1zM64 85h1v1h-1zM70 85h1v1h-1zM16 86h1v1h-1zM25 86h1v1h-1zM47 86h1v1h-1zM49 86h1v1h-1zM51 86h1v1h-1zM53 86h1v1h-1zM10 87h1v1h-1zM17 87h1v1h-1zM23 87h1v1h-1zM25 87h2v1h-2zM43 87h1v1h-1zM56 87h1v1h-1zM64 87h1v1h-1zM66 87h1v1h-1zM68 87h1v1h-1zM6 88h1v1h-1zM9 88h1v1h-1zM53 88h1v1h-1zM55 88h1v1h-1zM49 89h1v1h-1zM51 89h1v1h-1zM54 89h1v1h-1zM72 89h1v1h-1z"/><path fill="#3f4889" d="M11 0h2v1h-2zM20 0h2v1h-2zM28 0h1v1h-1zM30 0h1v1h-1zM48 0h1v1h-1zM59 0h1v1h-1zM61 0h1v1h-1zM17 1h1v1h-1zM19 1h1v1h-1zM21 1h1v1h-1zM25 1h1v1h-1zM31 1h1v1h-1zM33 1h1v1h-1zM59 1h1v1h-1zM18 2h1v1h-1zM24 2h1v1h-1zM34 2h1v1h-1zM64 2h1v1h-1zM2 3h1v1h-1zM7 3h1v1h-1zM30 3h1v1h-1zM41 3h1v1h-1zM44 3h1v1h-1zM55 3h1v1h-1zM61 3h1v1h-1zM25 4h1v1h-1zM29 4h1v1h-1zM46 4h1v1h-1zM66 4h1v1h-1zM2 5h1v1h-1zM16 5h1v1h-1zM23 5h1v1h-1zM30 5h1v1h-1zM32 5h1v1h-1zM34 5h1v1h-1zM63 5h1v1h-1zM74 5h1v1h-1zM12 6h1v1h-1zM17 6h1v1h-1zM24 6h1v1h-1zM66 6h1v1h-1zM70 6h1v1h-1zM2 7h1v1h-1zM22 7h1v1h-1zM30 7h1v1h-1zM42 7h1v1h-1zM63 7h1v1h-1zM20 8h1v1h-1zM33 8h1v1h-1zM44 8h2v1h-2zM51 8h1v1h-1zM63 8h1v1h-1zM74 8h1v1h-1zM4 9h1v1h-1zM38 9h1v1h-1zM68 9h1v1h-1zM70 9h1v1h-1zM24 10h1v1h-1zM33 10h1v1h-1zM67 10h1v1h-1zM15 11h1v1h-1zM29 11h1v1h-1zM44 11h1v1h-1zM51 11h2v1h-2zM66 11h1v1h-1zM24 12h1v1h-1zM48 12h1v1h-1zM52 12h1v1h-1zM24 13h1v1h-1zM30 13h1v1h-1zM35 13h1v1h-1zM49 13h1v1h-1zM67 13h1v1h-1zM16 14h1v1h-1zM32 14h1v1h-1zM55 14h1v1h-1zM66 14h1v1h-1zM71 14h1v1h-1zM0 15h2v1h-2zM30 15h1v1h-1zM44 15h1v1h-1zM61 15h1v1h-1zM28 16h1v1h-1zM30 16h1v1h-1zM46 16h1v1h-1zM62 16h1v1h-1zM68 16h1v1h-1zM70 16h1v1h-1zM7 17h1v1h-1zM43 17h1v1h-1zM71 17h1v1h-1zM23 18h1v1h-1zM28 18h1v1h-1zM30 18h1v1h-1zM35 18h1v1h-1zM49 18h1v1h-1zM51 18h1v1h-1zM61 18h1v1h-1zM1 19h1v1h-1zM21 19h1v1h-1zM43 19h1v1h-1zM46 19h1v1h-1zM51 19h2v1h-2zM16 20h1v1h-1zM21 20h1v1h-1zM44 20h1v1h-1zM70 20h1v1h-1zM2 21h1v1h-1zM15 21h1v1h-1zM17 21h1v1h-1zM31 21h1v1h-1zM35 21h1v1h-1zM38 21h1v1h-1zM54 21h1v1h-1zM2 22h1v1h-1zM15 22h2v1h-2zM24 22h1v1h-1zM27 22h2v1h-2zM38 22h1v1h-1zM50 22h1v1h-1zM60 22h1v1h-1zM1 23h1v1h-1zM8 23h1v1h-1zM13 23h1v1h-1zM34 23h1v1h-1zM40 23h1v1h-1zM44 23h2v1h-2zM5 24h1v1h-1zM8 24h1v1h-1zM22 24h1v1h-1zM26 24h1v1h-1zM34 24h1v1h-1zM38 24h3v1h-3zM71 24h1v1h-1zM2 25h1v1h-1zM14 25h3v1h-3zM35 25h1v1h-1zM58 25h2v1h-2zM64 25h1v1h-1zM7 26h1v1h-1zM14 26h2v1h-2zM28 26h2v1h-2zM37 26h1v1h-1zM69 26h1v1h-1zM3 27h1v1h-1zM23 27h1v1h-1zM30 27h1v1h-1zM34 27h1v1h-1zM45 27h1v1h-1zM47 27h1v1h-1zM39 28h1v1h-1zM57 28h1v1h-1zM36 29h1v1h-1zM12 30h1v1h-1zM15 30h1v1h-1zM36 30h1v1h-1zM45 30h1v1h-1zM60 30h1v1h-1zM71 30h1v1h-1zM9 31h3v1h-3zM16 31h1v1h-1zM24 31h1v1h-1zM45 31h1v1h-1zM57 31h1v1h-1zM59 31h1v1h-1zM64 31h1v1h-1zM66 31h1v1h-1zM68 31h1v1h-1zM2 32h1v1h-1zM14 32h1v1h-1zM31 32h1v1h-1zM36 32h1v1h-1zM38 32h1v1h-1zM67 32h1v1h-1zM29 33h1v1h-1zM36 33h1v1h-1zM57 33h1v1h-1zM64 33h1v1h-1zM24 34h1v1h-1zM35 34h1v1h-1zM44 34h2v1h-2zM56 34h1v1h-1zM67 34h1v1h-1zM69 34h1v1h-1zM0 35h2v1h-2zM3 35h1v1h-1zM59 35h1v1h-1zM2 36h1v1h-1zM38 36h1v1h-1zM50 36h1v1h-1zM60 36h1v1h-1zM66 36h1v1h-1zM33 37h2v1h-2zM41 37h1v1h-1zM56 37h1v1h-1zM64 37h1v1h-1zM67 37h1v1h-1zM4 38h2v1h-2zM12 38h1v1h-1zM34 38h1v1h-1zM38 38h1v1h-1zM61 38h1v1h-1zM64 38h1v1h-1zM66 38h1v1h-1zM6 39h1v1h-1zM12 39h1v1h-1zM16 39h1v1h-1zM59 39h1v1h-1zM64 39h1v1h-1zM24 40h1v1h-1zM31 40h1v1h-1zM40 40h1v1h-1zM45 40h1v1h-1zM48 40h1v1h-1zM60 40h1v1h-1zM69 40h1v1h-1zM22 41h1v1h-1zM53 41h1v1h-1zM59 41h2v1h-2zM66 41h1v1h-1zM69 41h1v1h-1zM3 42h1v1h-1zM22 42h1v1h-1zM29 42h1v1h-1zM34 42h1v1h-1zM38 42h1v1h-1zM8 43h1v1h-1zM10 43h2v1h-2zM33 43h2v1h-2zM37 43h1v1h-1zM61 43h1v1h-1zM66 43h1v1h-1zM12 44h1v1h-1zM14 44h3v1h-3zM25 44h1v1h-1zM29 44h1v1h-1zM43 44h1v1h-1zM49 44h1v1h-1zM57 44h1v1h-1zM63 44h1v1h-1zM7 45h1v1h-1zM9 45h1v1h-1zM1 46h1v1h-1zM8 46h1v1h-1zM15 46h1v1h-1zM25 46h1v1h-1zM28 46h1v1h-1zM74 46h1v1h-1zM23 47h1v1h-1zM34 47h1v1h-1zM12 48h1v1h-1zM55 48h1v1h-1zM7 49h1v1h-1zM13 49h1v1h-1zM25 49h2v1h-2zM33 49h1v1h-1zM56 49h1v1h-1zM74 49h1v1h-1zM19 50h1v1h-1zM39 50h1v1h-1zM62 50h1v1h-1zM66 50h1v1h-1zM8 51h1v1h-1zM16 51h1v1h-1zM24 51h1v1h-1zM13 52h1v1h-1zM16 52h1v1h-1zM1 54h1v1h-1zM7 55h1v1h-1zM12 55h1v1h-1zM19 55h2v1h-2zM27 55h1v1h-1zM74 55h1v1h-1zM7 56h1v1h-1zM12 56h1v1h-1zM30 56h1v1h-1zM47 56h1v1h-1zM7 57h1v1h-1zM16 57h1v1h-1zM41 57h1v1h-1zM72 57h1v1h-1zM12 58h1v1h-1zM19 58h1v1h-1zM51 58h1v1h-1zM60 58h1v1h-1zM69 58h1v1h-1zM74 58h1v1h-1zM39 59h1v1h-1zM72 59h1v1h-1zM8 60h1v1h-1zM28 60h1v1h-1zM37 60h1v1h-1zM62 60h1v1h-1zM39 61h1v1h-1zM49 61h2v1h-2zM57 61h1v1h-1zM9 62h1v1h-1zM12 62h1v1h-1zM30 62h1v1h-1zM52 62h1v1h-1zM55 62h1v1h-1zM5 63h1v1h-1zM53 63h1v1h-1zM12 64h1v1h-1zM38 64h1v1h-1zM55 64h2v1h-2zM59 64h1v1h-1zM69 64h1v1h-1zM6 65h1v1h-1zM14 65h1v1h-1zM5 66h1v1h-1zM19 66h1v1h-1zM64 66h1v1h-1zM7 67h1v1h-1zM27 67h1v1h-1zM43 67h1v1h-1zM47 67h1v1h-1zM57 67h1v1h-1zM17 68h1v1h-1zM28 68h1v1h-1zM32 68h1v1h-1zM51 68h1v1h-1zM58 68h1v1h-1zM13 69h1v1h-1zM17 69h1v1h-1zM23 69h2v1h-2zM39 69h1v1h-1zM50 69h1v1h-1zM55 69h1v1h-1zM63 69h1v1h-1zM5 71h1v1h-1zM9 71h1v1h-1zM18 71h1v1h-1zM51 71h1v1h-1zM8 72h1v1h-1zM10 72h1v1h-1zM27 72h1v1h-1zM51 72h1v1h-1zM70 72h1v1h-1zM8 73h2v1h-2zM24 73h1v1h-1zM57 73h2v1h-2zM68 73h1v1h-1zM6 74h1v1h-1zM40 74h1v1h-1zM46 74h2v1h-2zM60 74h1v1h-1zM64 74h1v1h-1zM74 74h1v1h-1zM1 75h1v1h-1zM19 75h1v1h-1zM24 75h1v1h-1zM35 75h1v1h-1zM43 75h1v1h-1zM47 75h1v1h-1zM49 75h1v1h-1zM55 75h1v1h-1zM58 75h1v1h-1zM60 75h1v1h-1zM73 75h1v1h-1zM39 76h1v1h-1zM42 76h1v1h-1zM51 76h1v1h-1zM58 76h1v1h-1zM74 76h1v1h-1zM28 77h1v1h-1zM6 78h1v1h-1zM12 78h1v1h-1zM17 78h1v1h-1zM23 78h1v1h-1zM25 78h2v1h-2zM41 78h1v1h-1zM46 78h1v1h-1zM53 78h1v1h-1zM35 79h1v1h-1zM68 79h1v1h-1zM0 80h1v1h-1zM7 80h1v1h-1zM21 80h1v1h-1zM39 80h1v1h-1zM42 80h1v1h-1zM64 80h1v1h-1zM70 80h1v1h-1zM1 81h1v1h-1zM15 81h1v1h-1zM18 81h1v1h-1zM26 81h4v1h-4zM52 81h1v1h-1zM54 81h1v1h-1zM73 81h1v1h-1zM1 82h1v1h-1zM4 82h1v1h-1zM29 82h1v1h-1zM34 82h1v1h-1zM43 82h1v1h-1zM52 82h1v1h-1zM55 82h1v1h-1zM60 82h1v1h-1zM68 82h1v1h-1zM70 82h1v1h-1zM1 84h1v1h-1zM5 84h2v1h-2zM56 84h2v1h-2zM72 84h1v1h-1zM25 85h2v1h-2zM36 85h2v1h-2zM60 85h1v1h-1zM66 85h1v1h-1zM0 86h1v1h-1zM12 86h1v1h-1zM18 86h1v1h-1zM26 86h1v1h-1zM36 86h1v1h-1zM39 86h1v1h-1zM41 86h1v1h-1zM43 86h1v1h-1zM64 86h1v1h-1zM68 86h1v1h-1zM70 86h1v1h-1zM4 87h1v1h-1zM16 87h1v1h-1zM27 87h1v1h-1zM26 88h1v1h-1zM46 88h1v1h-1zM66 88h1v1h-1zM73 88h1v1h-1zM52 89h1v1h-1zM58 89h1v1h-1zM60 89h1v1h-1zM68 89h1v1h-1z"/><path fill="#3a548c" d="M22 0h2v1h-2zM43 0h2v1h-2zM3 1h1v1h-1zM8 1h1v1h-1zM66 1h1v1h-1zM12 2h1v1h-1zM15 2h1v1h-1zM41 2h1v1h-1zM49 2h1v1h-1zM68 2h2v1h-2zM12 3h1v1h-1zM23 3h1v1h-1zM32 3h1v1h-1zM60 3h1v1h-1zM21 4h1v1h-1zM27 4h1v1h-1zM8 5h1v1h-1zM12 5h1v1h-1zM59 5h1v1h-1zM4 6h1v1h-1zM8 6h1v1h-1zM20 6h1v1h-1zM43 6h1v1h-1zM59 6h1v1h-1zM61 6h1v1h-1zM1 7h1v1h-1zM3 7h1v1h-1zM8 7h1v1h-1zM27 7h1v1h-1zM46 7h1v1h-1zM48 7h1v1h-1zM66 7h1v1h-1zM1 8h1v1h-1zM30 8h1v1h-1zM38 8h1v1h-1zM64 8h1v1h-1zM37 9h1v1h-1zM56 9h1v1h-1zM60 9h2v1h-2zM12 10h1v1h-1zM55 10h1v1h-1zM1 11h1v1h-1zM17 11h1v1h-1zM37 11h1v1h-1zM49 11h1v1h-1zM60 11h1v1h-1zM63 11h1v1h-1zM4 12h1v1h-1zM33 12h1v1h-1zM35 12h1v1h-1zM49 12h1v1h-1zM55 12h1v1h-1zM0 13h1v1h-1zM2 13h1v1h-1zM16 13h1v1h-1zM25 13h1v1h-1zM1 14h3v1h-3zM19 14h1v1h-1zM23 14h1v1h-1zM28 14h1v1h-1zM31 14h1v1h-1zM42 14h1v1h-1zM45 14h1v1h-1zM8 15h1v1h-1zM16 15h1v1h-1zM23 15h1v1h-1zM34 15h1v1h-1zM42 15h1v1h-1zM48 15h1v1h-1zM63 15h1v1h-1zM68 15h1v1h-1zM70 15h1v1h-1zM34 16h1v1h-1zM38 16h1v1h-1zM44 16h1v1h-1zM56 16h1v1h-1zM69 16h1v1h-1zM74 16h1v1h-1zM3 17h1v1h-1zM15 17h1v1h-1zM60 17h1v1h-1zM34 18h1v1h-1zM38 18h1v1h-1zM46 18h1v1h-1zM59 18h1v1h-1zM64 18h1v1h-1zM69 18h1v1h-1zM11 19h1v1h-1zM30 19h1v1h-1zM70 19h1v1h-1zM17 20h1v1h-1zM52 20h1v1h-1zM22 21h1v1h-1zM24 21h1v1h-1zM28 21h1v1h-1zM42 21h1v1h-1zM66 21h1v1h-1zM10 22h1v1h-1zM36 22h1v1h-1zM65 22h1v1h-1zM73 22h1v1h-1zM11 23h1v1h-1zM1 24h1v1h-1zM7 24h1v1h-1zM10 24h1v1h-1zM64 24h2v1h-2zM8 25h1v1h-1zM24 25h1v1h-1zM39 25h1v1h-1zM1 26h1v1h-1zM6 26h1v1h-1zM10 26h1v1h-1zM27 26h1v1h-1zM44 26h1v1h-1zM61 26h1v1h-1zM64 26h1v1h-1zM24 27h1v1h-1zM39 27h1v1h-1zM69 27h1v1h-1zM2 28h1v1h-1zM8 28h1v1h-1zM12 28h1v1h-1zM33 28h1v1h-1zM1 29h1v1h-1zM23 29h1v1h-1zM27 29h1v1h-1zM29 29h2v1h-2zM34 29h1v1h-1zM40 29h1v1h-1zM58 29h1v1h-1zM69 29h1v1h-1zM28 30h1v1h-1zM31 30h1v1h-1zM56 30h1v1h-1zM1 31h1v1h-1zM4 31h1v1h-1zM15 31h1v1h-1zM22 31h1v1h-1zM28 31h1v1h-1zM34 31h1v1h-1zM44 31h1v1h-1zM65 31h1v1h-1zM69 31h1v1h-1zM72 32h1v1h-1zM16 33h1v1h-1zM24 33h1v1h-1zM28 33h1v1h-1zM34 33h1v1h-1zM41 33h1v1h-1zM67 33h1v1h-1zM12 34h2v1h-2zM23 34h1v1h-1zM30 34h1v1h-1zM40 34h1v1h-1zM48 34h1v1h-1zM60 34h1v1h-1zM15 35h1v1h-1zM34 35h1v1h-1zM57 35h2v1h-2zM66 35h1v1h-1zM74 35h1v1h-1zM3 36h2v1h-2zM41 36h1v1h-1zM45 36h1v1h-1zM2 37h1v1h-1zM7 37h1v1h-1zM15 37h1v1h-1zM30 37h1v1h-1zM40 37h1v1h-1zM44 37h1v1h-1zM8 38h1v1h-1zM48 38h1v1h-1zM59 38h1v1h-1zM65 38h1v1h-1zM68 38h1v1h-1zM71 38h1v1h-1zM0 39h1v1h-1zM57 39h1v1h-1zM0 40h1v1h-1zM8 40h1v1h-1zM12 40h1v1h-1zM35 40h1v1h-1zM39 40h1v1h-1zM66 40h1v1h-1zM68 40h1v1h-1zM71 40h1v1h-1zM10 41h1v1h-1zM13 41h1v1h-1zM24 41h1v1h-1zM28 41h1v1h-1zM34 41h1v1h-1zM12 42h1v1h-1zM15 42h1v1h-1zM30 42h1v1h-1zM36 42h1v1h-1zM45 42h1v1h-1zM59 42h3v1h-3zM66 42h1v1h-1zM2 43h1v1h-1zM48 43h1v1h-1zM13 44h1v1h-1zM30 44h1v1h-1zM60 44h1v1h-1zM74 44h1v1h-1zM29 46h1v1h-1zM32 46h2v1h-2zM42 46h1v1h-1zM46 46h1v1h-1zM62 46h1v1h-1zM64 46h2v1h-2zM27 47h2v1h-2zM62 47h1v1h-1zM40 48h1v1h-1zM46 48h1v1h-1zM59 48h1v1h-1zM74 48h1v1h-1zM24 49h1v1h-1zM30 49h1v1h-1zM64 49h1v1h-1zM8 50h1v1h-1zM18 50h1v1h-1zM28 50h1v1h-1zM41 50h1v1h-1zM47 50h1v1h-1zM64 50h1v1h-1zM18 51h2v1h-2zM28 51h1v1h-1zM43 51h1v1h-1zM56 51h1v1h-1zM4 52h1v1h-1zM6 52h2v1h-2zM9 52h1v1h-1zM17 52h1v1h-1zM34 52h1v1h-1zM38 52h1v1h-1zM57 52h1v1h-1zM6 53h1v1h-1zM40 53h1v1h-1zM5 54h1v1h-1zM7 54h1v1h-1zM18 54h1v1h-1zM26 54h2v1h-2zM43 54h1v1h-1zM51 54h1v1h-1zM54 54h1v1h-1zM16 55h1v1h-1zM25 55h1v1h-1zM30 55h1v1h-1zM52 55h1v1h-1zM13 56h2v1h-2zM49 56h1v1h-1zM54 56h1v1h-1zM60 56h1v1h-1zM63 56h1v1h-1zM68 56h1v1h-1zM72 56h1v1h-1zM9 57h1v1h-1zM15 57h1v1h-1zM23 57h1v1h-1zM26 57h1v1h-1zM40 57h1v1h-1zM43 57h1v1h-1zM59 57h1v1h-1zM15 58h1v1h-1zM25 58h1v1h-1zM32 58h1v1h-1zM34 58h1v1h-1zM40 58h1v1h-1zM43 58h1v1h-1zM6 59h1v1h-1zM17 59h1v1h-1zM21 60h1v1h-1zM34 60h1v1h-1zM42 60h1v1h-1zM59 60h1v1h-1zM67 60h1v1h-1zM16 61h1v1h-1zM23 61h1v1h-1zM42 61h1v1h-1zM68 61h1v1h-1zM14 62h1v1h-1zM4 63h1v1h-1zM9 63h1v1h-1zM19 63h1v1h-1zM24 63h1v1h-1zM43 63h1v1h-1zM62 63h1v1h-1zM70 63h1v1h-1zM25 64h2v1h-2zM52 64h1v1h-1zM62 64h1v1h-1zM8 66h1v1h-1zM12 66h1v1h-1zM25 66h1v1h-1zM32 66h1v1h-1zM46 66h1v1h-1zM60 66h1v1h-1zM12 67h1v1h-1zM14 67h1v1h-1zM17 67h1v1h-1zM36 67h1v1h-1zM60 67h1v1h-1zM64 67h1v1h-1zM0 68h1v1h-1zM4 68h1v1h-1zM15 68h1v1h-1zM24 68h1v1h-1zM53 68h1v1h-1zM70 68h1v1h-1zM74 68h1v1h-1zM4 69h1v1h-1zM18 69h1v1h-1zM21 69h1v1h-1zM28 69h1v1h-1zM54 69h1v1h-1zM64 69h1v1h-1zM74 69h1v1h-1zM4 70h1v1h-1zM24 70h1v1h-1zM35 70h1v1h-1zM39 70h1v1h-1zM68 70h1v1h-1zM8 71h1v1h-1zM54 71h1v1h-1zM68 71h1v1h-1zM11 72h1v1h-1zM16 72h1v1h-1zM68 72h1v1h-1zM26 73h1v1h-1zM37 73h1v1h-1zM43 73h1v1h-1zM63 73h1v1h-1zM24 74h1v1h-1zM42 74h2v1h-2zM49 74h2v1h-2zM4 75h1v1h-1zM17 75h1v1h-1zM21 75h1v1h-1zM25 75h1v1h-1zM36 75h1v1h-1zM54 75h1v1h-1zM5 76h1v1h-1zM16 76h1v1h-1zM52 76h1v1h-1zM54 76h1v1h-1zM63 76h1v1h-1zM23 77h1v1h-1zM51 77h1v1h-1zM53 77h1v1h-1zM55 77h2v1h-2zM70 77h1v1h-1zM74 77h1v1h-1zM31 78h1v1h-1zM63 78h1v1h-1zM65 78h1v1h-1zM5 79h1v1h-1zM15 79h2v1h-2zM49 79h1v1h-1zM54 79h1v1h-1zM66 79h1v1h-1zM10 80h1v1h-1zM34 80h1v1h-1zM52 80h1v1h-1zM55 80h1v1h-1zM66 80h1v1h-1zM6 81h1v1h-1zM46 81h1v1h-1zM50 81h1v1h-1zM74 81h1v1h-1zM12 82h1v1h-1zM37 82h1v1h-1zM39 82h1v1h-1zM66 82h1v1h-1zM17 84h1v1h-1zM31 84h1v1h-1zM42 84h1v1h-1zM6 85h1v1h-1zM34 85h1v1h-1zM28 86h1v1h-1zM31 86h1v1h-1zM73 86h1v1h-1zM0 87h1v1h-1zM5 87h1v1h-1zM13 87h1v1h-1zM15 87h1v1h-1zM20 87h1v1h-1zM34 87h2v1h-2zM37 87h1v1h-1zM42 87h1v1h-1zM73 87h1v1h-1zM19 88h1v1h-1zM21 88h1v1h-1zM42 88h1v1h-1zM9 89h1v1h-1zM23 89h1v1h-1z"/><path fill="#34608d" d="M8 0h1v1h-1zM34 0h1v1h-1zM42 0h1v1h-1zM54 0h1v1h-1zM71 0h1v1h-1zM28 1h1v1h-1zM34 1h1v1h-1zM48 1h1v1h-1zM51 1h1v1h-1zM60 1h1v1h-1zM52 2h1v1h-1zM54 2h1v1h-1zM67 2h1v1h-1zM70 2h1v1h-1zM8 3h1v1h-1zM35 3h1v1h-1zM52 3h1v1h-1zM1 4h1v1h-1zM43 4h2v1h-2zM17 5h1v1h-1zM43 5h1v1h-1zM48 5h1v1h-1zM21 6h3v1h-3zM30 6h1v1h-1zM35 6h1v1h-1zM63 6h1v1h-1zM35 7h1v1h-1zM51 7h1v1h-1zM4 8h1v1h-1zM8 8h1v1h-1zM69 8h1v1h-1zM3 9h1v1h-1zM20 9h1v1h-1zM48 9h1v1h-1zM55 9h1v1h-1zM62 9h1v1h-1zM67 9h1v1h-1zM3 10h1v1h-1zM23 10h1v1h-1zM34 10h1v1h-1zM64 10h1v1h-1zM22 11h1v1h-1zM27 11h2v1h-2zM67 11h1v1h-1zM72 11h1v1h-1zM1 12h2v1h-2zM20 12h2v1h-2zM27 12h1v1h-1zM34 12h1v1h-1zM46 12h1v1h-1zM60 12h1v1h-1zM1 13h1v1h-1zM38 13h1v1h-1zM55 13h1v1h-1zM0 14h1v1h-1zM24 14h1v1h-1zM33 14h2v1h-2zM59 14h1v1h-1zM72 14h1v1h-1zM49 16h1v1h-1zM8 17h1v1h-1zM21 17h1v1h-1zM23 17h3v1h-3zM30 17h1v1h-1zM42 17h1v1h-1zM45 17h1v1h-1zM63 17h1v1h-1zM11 18h1v1h-1zM15 18h1v1h-1zM37 18h1v1h-1zM45 18h1v1h-1zM48 18h1v1h-1zM9 19h1v1h-1zM24 19h1v1h-1zM28 19h1v1h-1zM42 19h1v1h-1zM68 19h2v1h-2zM20 20h1v1h-1zM23 20h1v1h-1zM61 20h1v1h-1zM44 21h1v1h-1zM49 21h1v1h-1zM33 22h2v1h-2zM39 22h2v1h-2zM45 22h1v1h-1zM66 22h1v1h-1zM30 23h1v1h-1zM69 23h1v1h-1zM13 24h1v1h-1zM5 25h1v1h-1zM65 25h1v1h-1zM4 26h1v1h-1zM38 26h1v1h-1zM59 26h1v1h-1zM5 27h1v1h-1zM36 27h2v1h-2zM67 27h1v1h-1zM22 28h1v1h-1zM3 29h1v1h-1zM10 29h1v1h-1zM16 29h1v1h-1zM33 29h1v1h-1zM39 29h1v1h-1zM71 29h1v1h-1zM8 30h1v1h-1zM29 30h1v1h-1zM37 30h1v1h-1zM44 30h1v1h-1zM58 30h1v1h-1zM33 31h1v1h-1zM35 31h1v1h-1zM61 31h1v1h-1zM28 32h1v1h-1zM37 32h1v1h-1zM40 32h1v1h-1zM48 32h1v1h-1zM60 32h1v1h-1zM12 33h1v1h-1zM18 34h1v1h-1zM28 34h1v1h-1zM36 34h1v1h-1zM57 34h2v1h-2zM65 34h1v1h-1zM22 35h1v1h-1zM35 35h1v1h-1zM36 36h1v1h-1zM58 36h1v1h-1zM65 36h1v1h-1zM69 36h1v1h-1zM12 37h1v1h-1zM39 37h1v1h-1zM13 38h1v1h-1zM22 38h1v1h-1zM39 38h1v1h-1zM2 39h1v1h-1zM23 39h1v1h-1zM47 39h1v1h-1zM66 39h1v1h-1zM23 40h1v1h-1zM50 40h1v1h-1zM1 41h1v1h-1zM6 41h1v1h-1zM50 41h1v1h-1zM4 42h2v1h-2zM16 42h1v1h-1zM28 42h1v1h-1zM35 42h1v1h-1zM40 42h1v1h-1zM71 42h1v1h-1zM3 43h1v1h-1zM29 43h1v1h-1zM68 43h1v1h-1zM40 44h1v1h-1zM55 44h1v1h-1zM70 44h1v1h-1zM69 45h1v1h-1zM43 46h1v1h-1zM60 46h1v1h-1zM4 47h1v1h-1zM24 47h1v1h-1zM41 47h1v1h-1zM49 47h1v1h-1zM52 47h1v1h-1zM68 47h1v1h-1zM70 47h1v1h-1zM73 47h1v1h-1zM17 48h1v1h-1zM43 48h1v1h-1zM51 48h1v1h-1zM63 48h1v1h-1zM29 49h1v1h-1zM56 50h1v1h-1zM7 51h1v1h-1zM15 51h1v1h-1zM30 51h1v1h-1zM39 51h1v1h-1zM39 52h1v1h-1zM42 52h1v1h-1zM64 52h1v1h-1zM4 53h1v1h-1zM14 53h2v1h-2zM19 54h1v1h-1zM28 54h1v1h-1zM62 54h1v1h-1zM39 55h1v1h-1zM66 55h1v1h-1zM9 56h1v1h-1zM17 56h1v1h-1zM41 56h1v1h-1zM64 56h1v1h-1zM25 57h1v1h-1zM30 57h1v1h-1zM23 58h1v1h-1zM59 58h1v1h-1zM68 58h1v1h-1zM14 59h1v1h-1zM27 59h1v1h-1zM34 59h1v1h-1zM37 59h1v1h-1zM57 59h1v1h-1zM65 59h1v1h-1zM13 60h1v1h-1zM23 60h1v1h-1zM29 60h1v1h-1zM39 60h1v1h-1zM49 60h1v1h-1zM66 60h1v1h-1zM46 61h1v1h-1zM69 61h1v1h-1zM42 62h1v1h-1zM55 63h1v1h-1zM59 63h1v1h-1zM4 64h1v1h-1zM17 64h1v1h-1zM41 64h1v1h-1zM43 64h1v1h-1zM49 64h1v1h-1zM54 64h1v1h-1zM64 64h1v1h-1zM43 65h1v1h-1zM59 65h1v1h-1zM69 65h1v1h-1zM34 66h1v1h-1zM36 66h1v1h-1zM42 66h2v1h-2zM53 66h1v1h-1zM65 66h1v1h-1zM72 66h1v1h-1zM0 67h1v1h-1zM4 67h1v1h-1zM24 67h1v1h-1zM29 67h1v1h-1zM39 67h1v1h-1zM46 67h1v1h-1zM1 68h1v1h-1zM36 68h2v1h-2zM43 68h1v1h-1zM46 68h1v1h-1zM64 68h1v1h-1zM58 69h1v1h-1zM70 69h1v1h-1zM14 70h1v1h-1zM26 70h1v1h-1zM46 70h1v1h-1zM74 70h1v1h-1zM39 71h1v1h-1zM28 72h1v1h-1zM54 72h1v1h-1zM65 72h1v1h-1zM28 73h2v1h-2zM46 73h1v1h-1zM51 73h1v1h-1zM54 73h1v1h-1zM60 73h1v1h-1zM7 74h1v1h-1zM37 74h1v1h-1zM68 74h1v1h-1zM57 75h1v1h-1zM70 75h1v1h-1zM72 75h1v1h-1zM8 76h1v1h-1zM35 76h1v1h-1zM37 76h1v1h-1zM43 76h1v1h-1zM10 77h1v1h-1zM37 77h1v1h-1zM58 77h1v1h-1zM68 77h1v1h-1zM72 77h1v1h-1zM36 78h1v1h-1zM43 78h1v1h-1zM56 78h1v1h-1zM6 79h1v1h-1zM32 79h1v1h-1zM64 79h1v1h-1zM15 80h1v1h-1zM27 80h1v1h-1zM46 80h1v1h-1zM63 80h1v1h-1zM16 81h2v1h-2zM40 82h1v1h-1zM28 84h1v1h-1zM34 84h1v1h-1zM43 84h1v1h-1zM13 85h1v1h-1zM17 85h1v1h-1zM21 85h1v1h-1zM42 85h1v1h-1zM52 85h2v1h-2zM10 86h1v1h-1zM27 86h1v1h-1zM42 86h1v1h-1zM24 87h1v1h-1zM7 88h1v1h-1zM14 88h1v1h-1zM17 88h1v1h-1zM40 88h1v1h-1zM20 89h2v1h-2zM25 89h1v1h-1zM35 89h1v1h-1zM56 89h1v1h-1zM70 89h1v1h-1z"/><path fill="#2f6c8e" d="M16 0h1v1h-1zM37 0h1v1h-1zM45 0h1v1h-1zM52 0h1v1h-1zM7 1h1v1h-1zM24 1h1v1h-1zM43 1h1v1h-1zM49 1h1v1h-1zM71 1h2v1h-2zM21 2h1v1h-1zM23 2h1v1h-1zM55 2h1v1h-1zM60 2h1v1h-1zM66 2h1v1h-1zM17 3h1v1h-1zM38 3h1v1h-1zM63 3h1v1h-1zM35 4h1v1h-1zM59 4h1v1h-1zM64 4h1v1h-1zM71 4h1v1h-1zM38 5h1v1h-1zM51 6h1v1h-1zM15 7h1v1h-1zM32 7h1v1h-1zM16 8h1v1h-1zM60 8h1v1h-1zM70 8h1v1h-1zM17 9h1v1h-1zM1 10h1v1h-1zM42 10h1v1h-1zM63 10h1v1h-1zM69 10h1v1h-1zM21 11h1v1h-1zM30 11h1v1h-1zM35 11h1v1h-1zM8 12h1v1h-1zM22 12h1v1h-1zM29 12h1v1h-1zM38 12h1v1h-1zM42 12h1v1h-1zM51 12h1v1h-1zM8 13h1v1h-1zM22 13h1v1h-1zM48 13h1v1h-1zM71 13h1v1h-1zM15 14h1v1h-1zM22 14h1v1h-1zM38 14h1v1h-1zM46 14h1v1h-1zM60 14h1v1h-1zM25 15h1v1h-1zM27 15h1v1h-1zM54 15h1v1h-1zM17 16h1v1h-1zM27 16h1v1h-1zM33 16h1v1h-1zM43 16h1v1h-1zM45 16h1v1h-1zM55 16h1v1h-1zM63 16h1v1h-1zM1 17h1v1h-1zM48 17h1v1h-1zM54 17h1v1h-1zM61 17h1v1h-1zM12 18h1v1h-1zM33 18h1v1h-1zM42 18h1v1h-1zM29 19h1v1h-1zM61 19h1v1h-1zM71 19h1v1h-1zM29 20h1v1h-1zM21 21h1v1h-1zM32 21h1v1h-1zM60 21h1v1h-1zM22 22h1v1h-1zM10 23h1v1h-1zM12 23h1v1h-1zM23 23h1v1h-1zM27 23h1v1h-1zM59 23h1v1h-1zM71 23h1v1h-1zM2 26h1v1h-1zM11 26h1v1h-1zM22 26h1v1h-1zM48 26h1v1h-1zM10 27h1v1h-1zM35 27h1v1h-1zM40 27h1v1h-1zM3 28h1v1h-1zM40 28h1v1h-1zM48 28h1v1h-1zM68 28h1v1h-1zM22 29h1v1h-1zM37 29h1v1h-1zM61 29h1v1h-1zM4 30h1v1h-1zM24 30h1v1h-1zM0 31h1v1h-1zM13 31h1v1h-1zM23 31h1v1h-1zM71 31h1v1h-1zM35 33h1v1h-1zM1 34h1v1h-1zM31 34h1v1h-1zM37 34h1v1h-1zM66 34h1v1h-1zM39 35h1v1h-1zM50 35h1v1h-1zM67 35h1v1h-1zM8 36h1v1h-1zM27 36h1v1h-1zM39 36h1v1h-1zM53 36h1v1h-1zM57 36h1v1h-1zM59 36h1v1h-1zM72 36h1v1h-1zM10 37h1v1h-1zM13 37h1v1h-1zM30 38h1v1h-1zM15 39h1v1h-1zM61 39h1v1h-1zM15 40h1v1h-1zM27 40h1v1h-1zM36 40h1v1h-1zM38 40h1v1h-1zM11 41h1v1h-1zM15 41h1v1h-1zM35 41h1v1h-1zM65 41h1v1h-1zM1 42h1v1h-1zM10 42h1v1h-1zM13 42h1v1h-1zM14 43h1v1h-1zM65 43h1v1h-1zM23 44h1v1h-1zM64 44h2v1h-2zM16 45h1v1h-1zM57 46h1v1h-1zM67 46h1v1h-1zM19 47h1v1h-1zM25 47h2v1h-2zM55 47h1v1h-1zM59 47h1v1h-1zM64 47h2v1h-2zM14 48h1v1h-1zM23 48h1v1h-1zM49 48h1v1h-1zM64 48h1v1h-1zM66 48h1v1h-1zM15 49h1v1h-1zM34 49h1v1h-1zM38 49h1v1h-1zM73 49h1v1h-1zM1 50h1v1h-1zM17 50h1v1h-1zM38 50h1v1h-1zM43 50h1v1h-1zM49 50h1v1h-1zM52 50h1v1h-1zM14 51h1v1h-1zM17 51h1v1h-1zM59 51h2v1h-2zM64 51h1v1h-1zM5 52h1v1h-1zM23 52h1v1h-1zM41 52h1v1h-1zM55 52h1v1h-1zM60 52h1v1h-1zM65 52h1v1h-1zM67 52h1v1h-1zM69 52h1v1h-1zM7 53h1v1h-1zM13 53h1v1h-1zM30 53h1v1h-1zM34 53h1v1h-1zM56 53h1v1h-1zM64 53h1v1h-1zM6 54h1v1h-1zM56 54h1v1h-1zM8 55h1v1h-1zM42 55h1v1h-1zM49 55h1v1h-1zM63 55h1v1h-1zM52 56h1v1h-1zM69 56h2v1h-2zM12 57h2v1h-2zM54 57h1v1h-1zM62 57h1v1h-1zM70 57h1v1h-1zM20 59h1v1h-1zM66 59h1v1h-1zM1 60h1v1h-1zM54 60h1v1h-1zM67 61h1v1h-1zM70 61h1v1h-1zM17 62h1v1h-1zM15 63h1v1h-1zM46 63h1v1h-1zM30 64h1v1h-1zM21 65h1v1h-1zM65 65h1v1h-1zM16 66h1v1h-1zM63 66h1v1h-1zM31 67h1v1h-1zM12 68h1v1h-1zM16 68h1v1h-1zM14 69h1v1h-1zM51 69h1v1h-1zM8 70h1v1h-1zM64 70h1v1h-1zM70 70h1v1h-1zM6 71h1v1h-1zM24 71h1v1h-1zM37 71h1v1h-1zM49 71h1v1h-1zM60 71h1v1h-1zM70 71h1v1h-1zM6 73h1v1h-1zM18 73h1v1h-1zM23 73h1v1h-1zM42 73h1v1h-1zM4 74h1v1h-1zM18 74h1v1h-1zM51 74h1v1h-1zM55 74h1v1h-1zM5 75h1v1h-1zM9 75h1v1h-1zM25 76h1v1h-1zM28 76h1v1h-1zM16 77h1v1h-1zM35 77h1v1h-1zM21 78h1v1h-1zM27 78h1v1h-1zM66 78h1v1h-1zM70 79h1v1h-1zM6 80h1v1h-1zM35 80h1v1h-1zM51 80h1v1h-1zM5 81h1v1h-1zM13 81h1v1h-1zM23 81h1v1h-1zM40 81h1v1h-1zM20 82h1v1h-1zM64 82h1v1h-1zM73 82h1v1h-1zM7 84h2v1h-2zM10 84h1v1h-1zM24 84h1v1h-1zM50 84h1v1h-1zM16 85h1v1h-1zM55 85h1v1h-1zM6 86h1v1h-1zM21 86h1v1h-1zM23 86h1v1h-1zM58 86h1v1h-1zM72 87h1v1h-1zM20 88h1v1h-1zM49 88h1v1h-1zM17 89h1v1h-1zM29 89h1v1h-1zM39 89h1v1h-1zM43 89h1v1h-1z"/><path fill="#2a768e" d="M37 1h1v1h-1zM70 1h1v1h-1zM8 2h1v1h-1zM20 2h1v1h-1zM59 2h1v1h-1zM21 3h1v1h-1zM23 4h1v1h-1zM28 4h1v1h-1zM33 4h1v1h-1zM45 4h1v1h-1zM48 4h1v1h-1zM20 5h1v1h-1zM46 5h1v1h-1zM1 6h1v1h-1zM55 6h1v1h-1zM9 7h1v1h-1zM33 7h2v1h-2zM19 8h1v1h-1zM46 8h1v1h-1zM48 8h1v1h-1zM56 8h1v1h-1zM59 8h1v1h-1zM67 8h1v1h-1zM21 9h1v1h-1zM59 9h1v1h-1zM29 10h1v1h-1zM59 10h1v1h-1zM70 10h1v1h-1zM25 11h1v1h-1zM68 11h1v1h-1zM3 12h1v1h-1zM11 12h1v1h-1zM15 12h2v1h-2zM45 12h1v1h-1zM37 13h1v1h-1zM8 14h1v1h-1zM11 14h1v1h-1zM35 14h1v1h-1zM48 14h1v1h-1zM24 15h1v1h-1zM22 16h1v1h-1zM31 16h1v1h-1zM35 16h1v1h-1zM28 17h1v1h-1zM32 17h1v1h-1zM34 17h1v1h-1zM16 18h1v1h-1zM25 19h1v1h-1zM37 19h1v1h-1zM38 20h1v1h-1zM45 20h1v1h-1zM68 22h1v1h-1zM24 23h1v1h-1zM64 23h1v1h-1zM36 25h1v1h-1zM57 25h1v1h-1zM57 26h1v1h-1zM15 28h1v1h-1zM61 28h1v1h-1zM66 28h1v1h-1zM15 29h1v1h-1zM67 29h1v1h-1zM26 30h1v1h-1zM40 30h1v1h-1zM59 30h1v1h-1zM64 30h1v1h-1zM68 30h2v1h-2zM38 31h1v1h-1zM47 31h1v1h-1zM3 32h1v1h-1zM10 32h1v1h-1zM44 32h1v1h-1zM65 32h1v1h-1zM0 33h1v1h-1zM31 33h1v1h-1zM66 33h1v1h-1zM69 33h1v1h-1zM14 34h1v1h-1zM27 34h1v1h-1zM68 34h1v1h-1zM64 35h2v1h-2zM26 36h1v1h-1zM44 36h1v1h-1zM68 36h1v1h-1zM5 37h1v1h-1zM23 37h1v1h-1zM28 37h1v1h-1zM45 37h1v1h-1zM48 37h1v1h-1zM1 38h1v1h-1zM9 38h1v1h-1zM58 38h1v1h-1zM38 39h2v1h-2zM44 39h1v1h-1zM48 39h1v1h-1zM33 40h1v1h-1zM7 41h1v1h-1zM68 41h1v1h-1zM8 42h1v1h-1zM23 42h1v1h-1zM24 43h1v1h-1zM42 44h1v1h-1zM56 44h1v1h-1zM39 45h1v1h-1zM39 46h1v1h-1zM51 46h1v1h-1zM50 47h2v1h-2zM8 48h1v1h-1zM69 48h1v1h-1zM17 49h1v1h-1zM24 50h1v1h-1zM70 50h1v1h-1zM73 50h1v1h-1zM6 51h1v1h-1zM25 51h1v1h-1zM27 51h1v1h-1zM54 52h1v1h-1zM59 52h1v1h-1zM25 53h1v1h-1zM43 53h1v1h-1zM51 53h1v1h-1zM4 54h1v1h-1zM20 54h1v1h-1zM25 54h1v1h-1zM30 54h1v1h-1zM39 54h1v1h-1zM34 55h1v1h-1zM16 56h1v1h-1zM21 56h1v1h-1zM23 56h1v1h-1zM25 56h1v1h-1zM20 57h1v1h-1zM17 58h1v1h-1zM16 59h1v1h-1zM42 59h1v1h-1zM68 59h1v1h-1zM20 60h1v1h-1zM33 60h1v1h-1zM29 61h1v1h-1zM68 62h1v1h-1zM13 63h1v1h-1zM32 63h1v1h-1zM51 63h1v1h-1zM1 64h1v1h-1zM34 64h1v1h-1zM42 64h1v1h-1zM63 64h1v1h-1zM65 64h1v1h-1zM39 65h1v1h-1zM17 66h1v1h-1zM23 66h1v1h-1zM66 66h1v1h-1zM21 67h1v1h-1zM28 67h1v1h-1zM70 67h1v1h-1zM10 68h1v1h-1zM14 68h1v1h-1zM27 68h1v1h-1zM31 68h1v1h-1zM39 68h1v1h-1zM52 68h1v1h-1zM46 69h1v1h-1zM57 69h1v1h-1zM6 70h1v1h-1zM12 70h1v1h-1zM42 70h1v1h-1zM51 70h1v1h-1zM57 70h1v1h-1zM17 71h1v1h-1zM34 71h1v1h-1zM21 72h1v1h-1zM17 73h1v1h-1zM19 73h1v1h-1zM27 74h1v1h-1zM20 75h1v1h-1zM26 75h1v1h-1zM42 75h1v1h-1zM21 76h1v1h-1zM29 76h1v1h-1zM57 76h1v1h-1zM66 76h1v1h-1zM16 78h1v1h-1zM37 78h1v1h-1zM55 78h1v1h-1zM27 79h1v1h-1zM65 80h1v1h-1zM12 81h1v1h-1zM25 81h1v1h-1zM39 81h1v1h-1zM41 83h1v1h-1zM20 84h1v1h-1zM32 85h1v1h-1zM66 86h1v1h-1zM36 87h1v1h-1zM39 87h1v1h-1zM49 87h1v1h-1zM27 88h2v1h-2zM63 88h2v1h-2zM68 88h1v1h-1zM1 89h1v1h-1zM36 89h2v1h-2zM46 89h2v1h-2z"/><path fill="#26818e" d="M35 0h1v1h-1zM30 1h1v1h-1zM38 1h1v1h-1zM42 1h1v1h-1zM27 2h1v1h-1zM46 2h1v1h-1zM67 3h1v1h-1zM11 4h1v1h-1zM42 4h1v1h-1zM52 4h1v1h-1zM67 4h1v1h-1zM37 6h1v1h-1zM23 7h1v1h-1zM29 7h1v1h-1zM61 8h1v1h-1zM71 8h1v1h-1zM48 11h1v1h-1zM30 12h1v1h-1zM43 14h1v1h-1zM20 15h1v1h-1zM33 15h1v1h-1zM35 15h1v1h-1zM38 15h1v1h-1zM46 15h1v1h-1zM52 15h1v1h-1zM72 15h1v1h-1zM66 16h1v1h-1zM1 18h1v1h-1zM3 18h1v1h-1zM67 18h1v1h-1zM22 19h1v1h-1zM35 19h1v1h-1zM12 22h3v1h-3zM57 23h1v1h-1zM30 25h1v1h-1zM33 25h1v1h-1zM48 25h1v1h-1zM5 26h1v1h-1zM35 26h1v1h-1zM0 27h1v1h-1zM71 28h1v1h-1zM31 29h1v1h-1zM57 29h1v1h-1zM14 30h1v1h-1zM27 31h1v1h-1zM5 32h1v1h-1zM6 33h1v1h-1zM3 34h1v1h-1zM11 34h1v1h-1zM38 34h1v1h-1zM5 35h1v1h-1zM23 35h1v1h-1zM67 36h1v1h-1zM3 37h1v1h-1zM37 37h1v1h-1zM35 38h1v1h-1zM57 38h1v1h-1zM29 39h1v1h-1zM34 40h1v1h-1zM65 40h1v1h-1zM16 41h1v1h-1zM57 41h2v1h-2zM61 41h1v1h-1zM67 41h1v1h-1zM37 42h1v1h-1zM15 43h1v1h-1zM69 43h1v1h-1zM34 44h1v1h-1zM38 44h1v1h-1zM46 44h1v1h-1zM54 44h1v1h-1zM69 44h1v1h-1zM27 46h1v1h-1zM15 47h1v1h-1zM60 47h1v1h-1zM69 47h1v1h-1zM32 48h1v1h-1zM52 48h1v1h-1zM60 48h1v1h-1zM68 48h1v1h-1zM73 48h1v1h-1zM6 49h1v1h-1zM14 50h1v1h-1zM46 50h1v1h-1zM12 51h1v1h-1zM20 51h1v1h-1zM65 51h2v1h-2zM69 51h1v1h-1zM15 52h1v1h-1zM25 52h1v1h-1zM16 53h1v1h-1zM59 53h1v1h-1zM16 54h1v1h-1zM29 54h1v1h-1zM66 54h1v1h-1zM59 55h1v1h-1zM20 56h1v1h-1zM29 56h1v1h-1zM49 57h1v1h-1zM24 58h1v1h-1zM39 58h1v1h-1zM66 58h1v1h-1zM5 59h1v1h-1zM15 59h1v1h-1zM67 59h1v1h-1zM27 60h1v1h-1zM64 60h1v1h-1zM15 61h1v1h-1zM1 63h1v1h-1zM6 63h1v1h-1zM16 63h1v1h-1zM23 63h1v1h-1zM24 64h1v1h-1zM60 64h1v1h-1zM27 66h1v1h-1zM31 66h1v1h-1zM49 67h1v1h-1zM42 68h1v1h-1zM49 68h1v1h-1zM60 68h1v1h-1zM65 68h1v1h-1zM35 69h1v1h-1zM34 70h1v1h-1zM37 70h1v1h-1zM54 70h1v1h-1zM57 71h1v1h-1zM73 71h1v1h-1zM46 72h1v1h-1zM11 73h3v1h-3zM21 74h1v1h-1zM29 74h1v1h-1zM54 74h1v1h-1zM65 74h1v1h-1zM12 75h1v1h-1zM46 75h1v1h-1zM20 77h1v1h-1zM24 77h1v1h-1zM1 78h1v1h-1zM35 78h1v1h-1zM60 78h1v1h-1zM0 79h1v1h-1zM63 79h1v1h-1zM11 80h1v1h-1zM13 80h1v1h-1zM5 82h1v1h-1zM27 82h1v1h-1zM46 82h1v1h-1zM49 82h1v1h-1zM49 84h1v1h-1zM66 84h1v1h-1zM5 85h1v1h-1zM23 85h2v1h-2zM49 85h1v1h-1zM34 86h1v1h-1zM11 87h2v1h-2zM16 88h1v1h-1zM37 88h1v1h-1zM64 89h1v1h-1zM66 89h1v1h-1z"/><path fill="#228b8d" d="M38 0h1v1h-1zM20 1h1v1h-1zM67 1h1v1h-1zM25 2h1v1h-1zM46 3h1v1h-1zM64 3h1v1h-1zM2 4h1v1h-1zM32 4h1v1h-1zM33 5h1v1h-1zM27 6h1v1h-1zM45 6h1v1h-1zM28 7h1v1h-1zM2 8h1v1h-1zM23 8h1v1h-1zM52 8h1v1h-1zM38 11h1v1h-1zM43 11h1v1h-1zM3 15h1v1h-1zM12 15h1v1h-1zM17 15h1v1h-1zM55 15h1v1h-1zM59 15h2v1h-2zM3 16h1v1h-1zM59 16h1v1h-1zM63 18h1v1h-1zM3 19h1v1h-1zM27 19h1v1h-1zM0 20h1v1h-1zM42 20h1v1h-1zM29 21h1v1h-1zM68 21h1v1h-1zM4 22h1v1h-1zM67 22h1v1h-1zM33 24h1v1h-1zM48 24h1v1h-1zM12 26h2v1h-2zM39 26h1v1h-1zM64 27h1v1h-1zM60 29h1v1h-1zM11 30h1v1h-1zM27 30h1v1h-1zM48 30h1v1h-1zM3 31h1v1h-1zM8 33h1v1h-1zM13 33h1v1h-1zM6 34h1v1h-1zM29 34h1v1h-1zM33 34h1v1h-1zM11 35h1v1h-1zM61 35h1v1h-1zM23 36h1v1h-1zM28 36h1v1h-1zM35 36h1v1h-1zM37 36h1v1h-1zM31 37h1v1h-1zM38 37h1v1h-1zM68 37h1v1h-1zM71 37h1v1h-1zM34 39h2v1h-2zM65 39h1v1h-1zM22 40h1v1h-1zM0 42h1v1h-1zM39 42h1v1h-1zM48 42h1v1h-1zM57 42h1v1h-1zM65 42h1v1h-1zM69 42h1v1h-1zM0 43h1v1h-1zM36 43h1v1h-1zM28 44h1v1h-1zM49 46h1v1h-1zM29 47h1v1h-1zM69 49h1v1h-1zM29 50h2v1h-2zM60 50h1v1h-1zM34 51h1v1h-1zM40 51h1v1h-1zM55 51h1v1h-1zM52 52h1v1h-1zM68 52h1v1h-1zM49 53h1v1h-1zM8 54h1v1h-1zM17 54h1v1h-1zM59 54h1v1h-1zM21 55h1v1h-1zM43 56h1v1h-1zM73 56h1v1h-1zM63 57h1v1h-1zM69 57h1v1h-1zM6 58h1v1h-1zM13 58h1v1h-1zM49 58h1v1h-1zM27 61h1v1h-1zM37 61h1v1h-1zM63 61h1v1h-1zM23 62h1v1h-1zM65 62h1v1h-1zM17 63h1v1h-1zM25 63h1v1h-1zM29 64h1v1h-1zM32 64h1v1h-1zM46 64h1v1h-1zM66 64h1v1h-1zM16 65h1v1h-1zM35 66h1v1h-1zM39 66h1v1h-1zM58 66h1v1h-1zM1 67h1v1h-1zM52 67h1v1h-1zM29 68h1v1h-1zM54 68h2v1h-2zM8 69h1v1h-1zM29 70h1v1h-1zM43 71h1v1h-1zM1 72h1v1h-1zM21 73h1v1h-1zM34 73h1v1h-1zM5 74h1v1h-1zM13 74h1v1h-1zM58 74h1v1h-1zM70 74h1v1h-1zM27 75h1v1h-1zM13 76h1v1h-1zM17 77h1v1h-1zM34 77h1v1h-1zM39 77h1v1h-1zM42 78h1v1h-1zM51 79h1v1h-1zM17 80h1v1h-1zM28 80h1v1h-1zM36 80h1v1h-1zM57 80h1v1h-1zM34 81h1v1h-1zM43 81h1v1h-1zM55 81h1v1h-1zM68 81h1v1h-1zM28 82h1v1h-1zM64 84h1v1h-1zM28 85h1v1h-1zM51 85h1v1h-1zM14 86h1v1h-1zM35 86h1v1h-1zM21 87h1v1h-1zM15 89h1v1h-1zM55 89h1v1h-1zM57 89h1v1h-1z"/><path fill="#1f958b" d="M51 0h1v1h-1zM11 1h2v1h-2zM16 1h1v1h-1zM17 2h1v1h-1zM71 2h1v1h-1zM60 5h1v1h-1zM61 7h1v1h-1zM8 10h1v1h-1zM15 10h1v1h-1zM17 10h1v1h-1zM28 10h1v1h-1zM35 10h1v1h-1zM44 10h1v1h-1zM54 12h1v1h-1zM69 12h1v1h-1zM69 15h1v1h-1zM29 16h1v1h-1zM68 17h1v1h-1zM2 19h1v1h-1zM23 19h1v1h-1zM38 19h1v1h-1zM37 20h1v1h-1zM0 21h1v1h-1zM11 21h1v1h-1zM1 22h1v1h-1zM57 22h1v1h-1zM48 23h1v1h-1zM67 23h1v1h-1zM1 25h1v1h-1zM26 25h1v1h-1zM8 27h1v1h-1zM14 29h1v1h-1zM65 29h1v1h-1zM0 30h2v1h-2zM40 31h1v1h-1zM0 32h1v1h-1zM71 32h1v1h-1zM37 33h1v1h-1zM71 33h1v1h-1zM64 34h1v1h-1zM74 37h1v1h-1zM44 38h1v1h-1zM60 38h1v1h-1zM1 39h1v1h-1zM36 39h1v1h-1zM57 40h1v1h-1zM37 45h1v1h-1zM69 46h1v1h-1zM12 47h1v1h-1zM30 47h1v1h-1zM63 47h1v1h-1zM6 48h1v1h-1zM21 48h1v1h-1zM24 48h1v1h-1zM27 48h2v1h-2zM65 48h1v1h-1zM67 49h1v1h-1zM16 50h1v1h-1zM27 50h1v1h-1zM42 50h1v1h-1zM57 50h1v1h-1zM68 50h1v1h-1zM13 51h1v1h-1zM32 51h1v1h-1zM72 51h1v1h-1zM8 52h1v1h-1zM30 52h1v1h-1zM52 53h1v1h-1zM49 54h1v1h-1zM55 54h1v1h-1zM65 54h1v1h-1zM17 55h1v1h-1zM28 55h1v1h-1zM24 56h1v1h-1zM28 57h1v1h-1zM42 57h1v1h-1zM51 57h1v1h-1zM65 57h2v1h-2zM68 57h1v1h-1zM16 58h1v1h-1zM6 61h1v1h-1zM65 61h1v1h-1zM40 63h1v1h-1zM64 63h1v1h-1zM67 63h2v1h-2zM6 66h1v1h-1zM37 66h1v1h-1zM15 67h1v1h-1zM20 67h1v1h-1zM34 67h1v1h-1zM66 68h1v1h-1zM5 70h1v1h-1zM13 70h1v1h-1zM36 70h1v1h-1zM52 70h1v1h-1zM66 70h1v1h-1zM64 71h1v1h-1zM66 71h1v1h-1zM42 72h1v1h-1zM0 73h1v1h-1zM41 73h1v1h-1zM49 73h1v1h-1zM65 73h1v1h-1zM57 74h1v1h-1zM11 75h1v1h-1zM13 75h2v1h-2zM74 75h1v1h-1zM8 77h1v1h-1zM31 77h1v1h-1zM54 77h1v1h-1zM63 77h2v1h-2zM51 78h1v1h-1zM12 80h1v1h-1zM58 80h1v1h-1zM21 81h1v1h-1zM17 82h1v1h-1zM37 84h1v1h-1zM32 87h1v1h-1zM11 89h1v1h-1z"/><path fill="#1fa088" d="M0 0h3v1h-3zM35 1h1v1h-1zM9 2h1v1h-1zM32 2h1v1h-1zM43 2h1v1h-1zM27 3h1v1h-1zM8 4h1v1h-1zM38 6h1v1h-1zM69 6h1v1h-1zM31 8h1v1h-1zM72 8h1v1h-1zM25 10h1v1h-1zM38 10h1v1h-1zM48 10h1v1h-1zM0 12h1v1h-1zM66 12h2v1h-2zM70 12h2v1h-2zM32 13h1v1h-1zM34 13h1v1h-1zM8 16h1v1h-1zM12 16h1v1h-1zM34 19h1v1h-1zM67 19h1v1h-1zM43 20h1v1h-1zM67 20h1v1h-1zM65 27h1v1h-1zM6 28h1v1h-1zM16 30h1v1h-1zM35 30h1v1h-1zM23 33h1v1h-1zM59 33h1v1h-1zM16 34h1v1h-1zM29 36h1v1h-1zM31 36h1v1h-1zM64 36h1v1h-1zM16 37h1v1h-1zM35 37h1v1h-1zM61 37h1v1h-1zM66 37h1v1h-1zM33 41h1v1h-1zM31 42h1v1h-1zM6 44h1v1h-1zM37 46h1v1h-1zM59 46h1v1h-1zM68 46h1v1h-1zM34 48h1v1h-1zM63 50h1v1h-1zM33 51h1v1h-1zM37 51h1v1h-1zM12 52h1v1h-1zM21 53h1v1h-1zM63 54h1v1h-1zM1 55h1v1h-1zM68 55h1v1h-1zM73 55h1v1h-1zM28 56h1v1h-1zM42 56h1v1h-1zM4 57h1v1h-1zM55 58h1v1h-1zM43 62h1v1h-1zM7 63h1v1h-1zM34 63h1v1h-1zM54 66h1v1h-1zM23 70h1v1h-1zM1 73h1v1h-1zM16 73h1v1h-1zM15 74h1v1h-1zM39 74h1v1h-1zM15 75h1v1h-1zM28 75h1v1h-1zM34 78h1v1h-1zM39 78h1v1h-1zM52 79h1v1h-1zM24 81h1v1h-1zM43 83h1v1h-1zM21 84h1v1h-1zM29 84h1v1h-1zM12 85h1v1h-1zM63 86h1v1h-1zM31 87h1v1h-1zM52 88h1v1h-1zM6 89h1v1h-1zM65 89h1v1h-1z"/><path fill="#24aa83" d="M0 1h1v1h-1zM55 1h1v1h-1zM31 5h1v1h-1zM71 5h1v1h-1zM42 6h1v1h-1zM43 7h1v1h-1zM71 7h1v1h-1zM37 8h1v1h-1zM16 10h1v1h-1zM32 10h1v1h-1zM43 10h1v1h-1zM12 12h1v1h-1zM28 12h1v1h-1zM37 12h1v1h-1zM17 13h1v1h-1zM16 16h1v1h-1zM44 19h1v1h-1zM60 19h1v1h-1zM64 19h1v1h-1zM33 20h1v1h-1zM37 22h1v1h-1zM5 23h1v1h-1zM37 23h1v1h-1zM65 23h1v1h-1zM11 29h1v1h-1zM27 32h1v1h-1zM40 33h1v1h-1zM48 33h1v1h-1zM68 33h1v1h-1zM22 34h1v1h-1zM74 34h1v1h-1zM16 36h1v1h-1zM37 40h1v1h-1zM12 43h1v1h-1zM21 44h1v1h-1zM52 44h1v1h-1zM38 45h1v1h-1zM13 47h1v1h-1zM37 49h1v1h-1zM50 49h4v1h-4zM62 49h2v1h-2zM15 50h1v1h-1zM33 50h1v1h-1zM14 52h1v1h-1zM51 52h1v1h-1zM39 53h1v1h-1zM68 53h1v1h-1zM64 54h1v1h-1zM8 56h1v1h-1zM27 57h1v1h-1zM67 58h1v1h-1zM39 64h1v1h-1zM68 64h1v1h-1zM20 65h1v1h-1zM55 66h1v1h-1zM66 67h1v1h-1zM35 68h1v1h-1zM7 69h1v1h-1zM17 70h1v1h-1zM21 71h1v1h-1zM25 71h5v1h-5zM24 72h1v1h-1zM31 73h1v1h-1zM9 74h1v1h-1zM31 75h1v1h-1zM6 76h1v1h-1zM14 78h1v1h-1zM58 78h1v1h-1zM14 80h1v1h-1zM24 80h1v1h-1zM4 81h1v1h-1zM16 84h1v1h-1zM46 84h1v1h-1zM17 86h1v1h-1zM65 86h1v1h-1zM55 87h1v1h-1zM12 88h1v1h-1zM34 88h1v1h-1zM51 88h1v1h-1zM8 89h1v1h-1z"/><path fill="#2fb47c" d="M27 0h1v1h-1zM32 0h1v1h-1zM66 0h1v1h-1zM68 0h1v1h-1zM15 1h1v1h-1zM22 1h1v1h-1zM27 1h1v1h-1zM46 1h1v1h-1zM63 1h1v1h-1zM0 2h1v1h-1zM16 2h1v1h-1zM22 2h1v1h-1zM35 2h1v1h-1zM42 2h1v1h-1zM63 2h1v1h-1zM0 3h1v1h-1zM20 3h1v1h-1zM22 3h1v1h-1zM71 3h1v1h-1zM44 5h1v1h-1zM54 5h1v1h-1zM66 5h1v1h-1zM68 5h1v1h-1zM0 6h1v1h-1zM28 6h1v1h-1zM48 6h1v1h-1zM68 6h1v1h-1zM0 7h1v1h-1zM12 7h1v1h-1zM37 7h1v1h-1zM68 7h1v1h-1zM22 8h1v1h-1zM27 8h1v1h-1zM35 8h1v1h-1zM68 8h1v1h-1zM0 9h1v1h-1zM32 9h1v1h-1zM22 10h1v1h-1zM27 10h1v1h-1zM37 10h1v1h-1zM46 10h1v1h-1zM54 10h1v1h-1zM68 10h1v1h-1zM8 11h1v1h-1zM20 11h1v1h-1zM32 11h1v1h-1zM42 11h1v1h-1zM17 12h1v1h-1zM44 12h1v1h-1zM61 12h1v1h-1zM68 12h1v1h-1zM27 13h1v1h-1zM42 13h1v1h-1zM64 13h1v1h-1zM20 14h1v1h-1zM27 14h1v1h-1zM44 14h1v1h-1zM68 14h1v1h-1zM22 15h1v1h-1zM67 15h1v1h-1zM0 16h1v1h-1zM11 16h1v1h-1zM48 16h1v1h-1zM64 16h1v1h-1zM67 16h1v1h-1zM71 16h1v1h-1zM12 17h1v1h-1zM35 17h1v1h-1zM44 17h1v1h-1zM46 17h1v1h-1zM66 17h1v1h-1zM8 18h1v1h-1zM16 19h1v1h-1zM31 19h1v1h-1zM55 19h1v1h-1zM59 20h1v1h-1zM33 21h1v1h-1zM69 22h1v1h-1zM3 23h1v1h-1zM22 23h1v1h-1zM36 23h1v1h-1zM31 26h1v1h-1zM45 26h1v1h-1zM65 26h1v1h-1zM67 26h1v1h-1zM27 27h1v1h-1zM1 28h1v1h-1zM36 28h2v1h-2zM35 29h1v1h-1zM48 29h1v1h-1zM3 30h1v1h-1zM57 30h1v1h-1zM66 30h1v1h-1zM60 31h1v1h-1zM15 32h1v1h-1zM35 32h1v1h-1zM68 32h1v1h-1zM1 33h2v1h-2zM27 33h1v1h-1zM33 33h1v1h-1zM65 33h1v1h-1zM72 33h1v1h-1zM34 34h1v1h-1zM39 34h1v1h-1zM37 35h1v1h-1zM44 35h1v1h-1zM68 35h1v1h-1zM0 36h1v1h-1zM22 36h1v1h-1zM34 36h1v1h-1zM22 37h1v1h-1zM24 37h1v1h-1zM65 37h1v1h-1zM8 39h1v1h-1zM31 39h1v1h-1zM37 39h1v1h-1zM71 39h1v1h-1zM23 41h1v1h-1zM27 41h1v1h-1zM11 42h1v1h-1zM24 42h1v1h-1zM27 42h1v1h-1zM33 42h1v1h-1zM44 42h1v1h-1zM67 42h1v1h-1zM45 43h1v1h-1zM71 43h1v1h-1zM8 44h1v1h-1zM17 44h1v1h-1zM33 44h1v1h-1zM39 44h1v1h-1zM67 44h2v1h-2zM34 45h1v1h-1zM49 45h1v1h-1zM68 45h1v1h-1zM6 46h1v1h-1zM16 46h1v1h-1zM38 46h1v1h-1zM40 46h1v1h-1zM52 46h1v1h-1zM1 47h1v1h-1zM17 47h1v1h-1zM21 47h1v1h-1zM39 47h2v1h-2zM42 47h1v1h-1zM46 47h1v1h-1zM66 47h2v1h-2zM1 48h1v1h-1zM13 48h1v1h-1zM15 48h2v1h-2zM20 48h1v1h-1zM25 48h1v1h-1zM29 48h2v1h-2zM37 48h1v1h-1zM39 48h1v1h-1zM42 48h1v1h-1zM57 48h1v1h-1zM12 49h1v1h-1zM16 49h1v1h-1zM43 49h1v1h-1zM55 49h1v1h-1zM59 49h2v1h-2zM65 49h1v1h-1zM68 49h1v1h-1zM70 49h1v1h-1zM6 50h1v1h-1zM12 50h2v1h-2zM20 50h2v1h-2zM23 50h1v1h-1zM25 50h1v1h-1zM34 50h1v1h-1zM40 50h1v1h-1zM51 50h1v1h-1zM54 50h2v1h-2zM67 50h1v1h-1zM5 51h1v1h-1zM21 51h1v1h-1zM23 51h1v1h-1zM29 51h1v1h-1zM42 51h1v1h-1zM46 51h1v1h-1zM49 51h1v1h-1zM51 51h2v1h-2zM54 51h1v1h-1zM68 51h1v1h-1zM70 51h1v1h-1zM1 52h1v1h-1zM21 52h1v1h-1zM24 52h1v1h-1zM29 52h1v1h-1zM32 52h1v1h-1zM40 52h1v1h-1zM43 52h1v1h-1zM46 52h1v1h-1zM66 52h1v1h-1zM70 52h1v1h-1zM73 52h1v1h-1zM37 53h2v1h-2zM67 53h1v1h-1zM69 53h1v1h-1zM12 54h2v1h-2zM21 54h1v1h-1zM24 54h1v1h-1zM34 54h1v1h-1zM37 54h2v1h-2zM42 54h1v1h-1zM60 54h1v1h-1zM67 54h4v1h-4zM6 55h1v1h-1zM65 55h1v1h-1zM70 55h1v1h-1zM27 56h1v1h-1zM39 56h1v1h-1zM46 56h1v1h-1zM57 56h1v1h-1zM59 56h1v1h-1zM65 56h3v1h-3zM6 57h1v1h-1zM17 57h1v1h-1zM24 57h1v1h-1zM29 57h1v1h-1zM34 57h1v1h-1zM52 57h1v1h-1zM57 57h1v1h-1zM64 57h1v1h-1zM67 57h1v1h-1zM21 58h1v1h-1zM8 59h1v1h-1zM13 59h1v1h-1zM30 59h1v1h-1zM68 60h1v1h-1zM12 61h1v1h-1zM32 62h1v1h-1zM60 62h1v1h-1zM21 63h1v1h-1zM52 63h1v1h-1zM5 64h1v1h-1zM8 64h1v1h-1zM13 64h1v1h-1zM21 64h1v1h-1zM23 64h1v1h-1zM27 64h2v1h-2zM40 64h1v1h-1zM67 64h1v1h-1zM13 65h1v1h-1zM1 66h1v1h-1zM10 66h1v1h-1zM15 66h1v1h-1zM24 66h1v1h-1zM49 66h1v1h-1zM51 66h1v1h-1zM57 66h1v1h-1zM8 67h1v1h-1zM23 67h1v1h-1zM32 67h1v1h-1zM42 67h1v1h-1zM54 67h1v1h-1zM63 67h1v1h-1zM65 67h1v1h-1zM5 68h2v1h-2zM8 68h1v1h-1zM13 68h1v1h-1zM20 68h2v1h-2zM25 68h1v1h-1zM40 68h1v1h-1zM10 69h1v1h-1zM25 69h1v1h-1zM32 69h1v1h-1zM42 69h1v1h-1zM49 69h1v1h-1zM52 69h1v1h-1zM66 69h1v1h-1zM68 69h1v1h-1zM11 70h1v1h-1zM21 70h1v1h-1zM25 70h1v1h-1zM27 70h1v1h-1zM31 70h1v1h-1zM63 70h1v1h-1zM65 70h1v1h-1zM1 71h1v1h-1zM13 71h2v1h-2zM20 71h1v1h-1zM23 71h1v1h-1zM32 71h1v1h-1zM35 71h2v1h-2zM42 71h1v1h-1zM5 72h1v1h-1zM5 73h1v1h-1zM20 73h1v1h-1zM27 73h1v1h-1zM35 73h2v1h-2zM8 74h1v1h-1zM10 74h1v1h-1zM12 74h1v1h-1zM16 74h1v1h-1zM20 74h1v1h-1zM23 74h1v1h-1zM25 74h1v1h-1zM32 74h1v1h-1zM34 74h1v1h-1zM52 74h1v1h-1zM66 74h1v1h-1zM0 75h1v1h-1zM8 75h1v1h-1zM10 75h1v1h-1zM23 75h1v1h-1zM32 75h1v1h-1zM37 75h1v1h-1zM39 75h1v1h-1zM52 75h1v1h-1zM65 75h1v1h-1zM20 76h1v1h-1zM27 76h1v1h-1zM13 77h1v1h-1zM21 77h1v1h-1zM27 77h1v1h-1zM29 77h1v1h-1zM42 77h1v1h-1zM46 77h1v1h-1zM60 77h1v1h-1zM5 78h1v1h-1zM8 78h1v1h-1zM13 78h1v1h-1zM20 78h1v1h-1zM40 78h1v1h-1zM68 78h1v1h-1zM8 81h1v1h-1zM20 81h1v1h-1zM31 81h2v1h-2zM35 81h1v1h-1zM37 81h1v1h-1zM42 81h1v1h-1zM64 81h1v1h-1zM23 82h1v1h-1zM13 83h1v1h-1zM20 83h1v1h-1zM36 83h1v1h-1zM65 83h1v1h-1zM0 84h1v1h-1zM13 84h1v1h-1zM15 84h1v1h-1zM27 84h1v1h-1zM32 84h1v1h-1zM39 84h1v1h-1zM52 84h1v1h-1zM54 84h2v1h-2zM68 84h1v1h-1zM8 85h1v1h-1zM27 85h1v1h-1zM31 85h1v1h-1zM65 85h1v1h-1zM1 86h1v1h-1zM8 86h1v1h-1zM11 86h1v1h-1zM13 86h1v1h-1zM20 86h1v1h-1zM24 86h1v1h-1zM15 88h1v1h-1zM23 88h1v1h-1zM39 88h1v1h-1zM43 88h1v1h-1zM60 88h1v1h-1zM0 89h1v1h-1zM5 89h1v1h-1zM10 89h1v1h-1zM14 89h1v1h-1zM16 89h1v1h-1zM24 89h1v1h-1zM27 89h2v1h-2zM31 89h2v1h-2zM34 89h1v1h-1zM40 89h1v1h-1zM42 89h1v1h-1zM74 89h1v1h-1z"/><path fill="#42be71" d="M31 4h1v1h-1zM31 6h1v1h-1zM11 7h1v1h-1zM20 10h1v1h-1zM46 71h2v1h-2z"/><path fill="#58c765" d="M67 0h1v1h-1zM15 3h2v1h-2zM15 4h2v1h-2zM11 5h1v1h-1zM15 6h2v1h-2zM67 7h1v1h-1zM61 10h1v1h-1zM11 11h1v1h-1zM16 11h1v1h-1zM61 11h1v1h-1zM15 13h1v1h-1zM2 15h1v1h-1zM11 15h1v1h-1zM15 15h1v1h-1zM22 17h1v1h-1zM0 18h1v1h-1zM2 20h1v1h-1zM3 21h1v1h-1zM67 21h1v1h-1zM35 23h1v1h-1zM16 24h1v1h-1zM35 24h1v1h-1zM11 25h1v1h-1zM44 27h1v1h-1zM44 28h1v1h-1zM5 29h1v1h-1zM44 29h1v1h-1zM5 30h1v1h-1zM5 31h1v1h-1zM3 33h1v1h-1zM44 40h1v1h-1zM44 41h1v1h-1zM37 44h1v1h-1zM33 45h1v1h-1zM47 45h1v1h-1zM51 45h3v1h-3zM55 45h2v1h-2zM59 45h2v1h-2zM62 45h3v1h-3zM67 45h1v1h-1zM72 45h3v1h-3zM8 47h1v1h-1zM32 47h1v1h-1zM38 47h1v1h-1zM54 47h1v1h-1zM67 48h1v1h-1zM27 49h1v1h-1zM32 49h1v1h-1zM46 49h1v1h-1zM37 50h1v1h-1zM65 50h1v1h-1zM67 51h1v1h-1zM28 53h2v1h-2zM47 53h1v1h-1zM60 53h1v1h-1zM62 55h1v1h-1zM64 55h1v1h-1zM60 57h1v1h-1zM27 58h1v1h-1zM42 58h1v1h-1zM63 58h1v1h-1zM70 58h1v1h-1zM64 61h1v1h-1zM38 62h1v1h-1zM8 63h1v1h-1zM26 63h3v1h-3zM38 63h1v1h-1zM50 63h1v1h-1zM54 63h1v1h-1zM60 63h1v1h-1zM63 63h1v1h-1zM65 63h1v1h-1zM72 63h3v1h-3zM30 65h1v1h-1zM33 65h1v1h-1zM62 65h1v1h-1zM64 65h1v1h-1zM67 65h2v1h-2zM73 65h1v1h-1zM68 66h1v1h-1zM5 67h1v1h-1zM35 67h1v1h-1zM68 67h1v1h-1zM15 69h2v1h-2zM36 69h1v1h-1zM40 69h1v1h-1zM65 69h1v1h-1zM10 70h1v1h-1zM55 70h1v1h-1zM16 71h1v1h-1zM55 71h1v1h-1zM65 71h1v1h-1zM10 73h1v1h-1zM32 73h1v1h-1zM40 73h1v1h-1zM31 74h1v1h-1zM16 75h1v1h-1zM68 75h1v1h-1zM10 76h2v1h-2zM65 76h1v1h-1zM40 77h1v1h-1zM57 77h1v1h-1zM10 78h2v1h-2zM54 78h1v1h-1zM57 78h1v1h-1zM5 80h1v1h-1zM32 80h1v1h-1zM16 82h1v1h-1zM35 82h1v1h-1zM42 82h1v1h-1zM6 83h2v1h-2zM12 83h1v1h-1zM14 83h1v1h-1zM21 83h1v1h-1zM34 83h1v1h-1zM39 83h1v1h-1zM47 83h1v1h-1zM51 83h1v1h-1zM57 83h2v1h-2zM66 83h1v1h-1zM70 83h1v1h-1zM72 83h3v1h-3zM14 84h1v1h-1zM35 84h1v1h-1zM35 85h1v1h-1zM68 85h1v1h-1zM5 86h1v1h-1zM15 86h1v1h-1zM32 86h1v1h-1zM40 86h1v1h-1zM52 86h1v1h-1zM57 87h2v1h-2zM65 87h1v1h-1zM1 88h1v1h-1zM13 88h1v1h-1zM35 88h1v1h-1zM47 88h1v1h-1zM50 88h1v1h-1zM54 88h1v1h-1zM72 88h1v1h-1z"/><path fill="#70cf57" d="M38 2h1v1h-1zM61 2h2v1h-2zM44 7h2v1h-2zM22 9h1v1h-1zM57 63h1v1h-1zM47 65h1v1h-1z"/><path fill="#a8db34" d="M44 2h1v1h-1zM48 2h1v1h-1zM0 10h1v1h-1zM31 10h1v1h-1zM0 11h1v1h-1zM31 11h1v1h-1zM71 18h1v1h-1zM3 26h1v1h-1zM22 33h1v1h-1zM38 33h1v1h-1zM10 36h2v1h-2zM33 36h1v1h-1zM0 37h1v1h-1zM57 37h2v1h-2zM0 38h1v1h-1zM13 40h1v1h-1zM61 40h1v1h-1zM4 45h1v1h-1zM6 45h1v1h-1zM12 45h1v1h-1zM17 45h3v1h-3zM23 45h3v1h-3zM41 45h1v1h-1zM50 45h1v1h-1zM66 45h1v1h-1zM70 45h1v1h-1zM1 49h1v1h-1zM8 49h1v1h-1zM54 49h1v1h-1zM57 49h1v1h-1zM1 53h1v1h-1zM17 53h3v1h-3zM23 53h2v1h-2zM41 53h1v1h-1zM55 53h1v1h-1zM62 53h2v1h-2zM66 53h1v1h-1zM70 53h1v1h-1zM72 53h3v1h-3zM54 58h1v1h-1zM13 61h1v1h-1zM13 62h1v1h-1zM17 65h3v1h-3zM23 65h2v1h-2zM26 65h1v1h-1zM0 66h1v1h-1zM11 68h1v1h-1zM31 69h1v1h-1zM16 70h1v1h-1zM15 78h1v1h-1zM17 83h3v1h-3zM23 83h4v1h-4zM29 83h1v1h-1zM49 83h1v1h-1zM52 83h2v1h-2zM55 83h1v1h-1zM60 83h1v1h-1zM36 84h1v1h-1zM24 88h2v1h-2z"/><path fill="#c5e021" d="M27 45h2v1h-2zM10 71h2v1h-2zM40 71h1v1h-1zM57 88h2v1h-2z"/><path fill="#e2e418" d="M25 65h1v1h-1zM27 65h3v1h-3zM35 74h2v1h-2zM13 79h2v1h-2z"/><path fill="#fde725" d="M15 0h1v1h-1zM33 0h1v1h-1zM44 1h1v1h-1zM3 2h1v1h-1zM33 2h1v1h-1zM37 2h1v1h-1zM35 9h1v1h-1zM71 9h1v1h-1zM11 10h1v1h-1zM33 11h1v1h-1zM31 15h1v1h-1zM20 17h1v1h-1zM67 17h1v1h-1zM20 18h1v1h-1zM20 19h1v1h-1zM27 20h1v1h-1zM20 21h1v1h-1zM48 21h1v1h-1zM61 21h1v1h-1zM71 21h1v1h-1zM0 22h1v1h-1zM5 22h1v1h-1zM11 22h1v1h-1zM31 22h1v1h-1zM48 22h1v1h-1zM61 22h1v1h-1zM71 22h1v1h-1zM61 23h1v1h-1zM0 24h1v1h-1zM11 24h1v1h-1zM14 24h1v1h-1zM31 24h1v1h-1zM36 24h1v1h-1zM67 24h1v1h-1zM0 25h1v1h-1zM31 25h1v1h-1zM40 25h1v1h-1zM67 25h1v1h-1zM33 26h1v1h-1zM36 26h1v1h-1zM71 26h1v1h-1zM0 28h1v1h-1zM10 28h2v1h-2zM58 28h1v1h-1zM36 31h1v1h-1zM58 31h1v1h-1zM61 32h1v1h-1zM5 33h1v1h-1zM44 33h1v1h-1zM61 33h1v1h-1zM71 34h1v1h-1zM48 35h1v1h-1zM71 35h1v1h-1zM5 36h1v1h-1zM13 36h1v1h-1zM48 36h1v1h-1zM71 36h1v1h-1zM11 38h1v1h-1zM31 38h1v1h-1zM67 38h1v1h-1zM5 40h1v1h-1zM71 41h1v1h-1zM20 44h1v1h-1zM32 44h1v1h-1zM1 45h1v1h-1zM5 45h1v1h-1zM8 45h1v1h-1zM13 45h1v1h-1zM15 45h1v1h-1zM20 45h1v1h-1zM32 45h1v1h-1zM42 45h1v1h-1zM46 45h1v1h-1zM54 45h1v1h-1zM57 45h1v1h-1zM65 45h1v1h-1zM5 46h1v1h-1zM13 46h1v1h-1zM20 46h1v1h-1zM5 47h1v1h-1zM16 47h1v1h-1zM20 47h1v1h-1zM33 47h1v1h-1zM37 47h1v1h-1zM57 47h1v1h-1zM5 48h1v1h-1zM33 48h1v1h-1zM38 48h1v1h-1zM5 49h1v1h-1zM20 49h1v1h-1zM42 49h1v1h-1zM5 50h1v1h-1zM1 51h1v1h-1zM38 51h1v1h-1zM20 52h1v1h-1zM33 52h1v1h-1zM37 52h1v1h-1zM5 53h1v1h-1zM8 53h1v1h-1zM12 53h1v1h-1zM20 53h1v1h-1zM27 53h1v1h-1zM32 53h2v1h-2zM42 53h1v1h-1zM46 53h1v1h-1zM50 53h1v1h-1zM54 53h1v1h-1zM57 53h1v1h-1zM65 53h1v1h-1zM32 54h2v1h-2zM57 54h1v1h-1zM5 55h1v1h-1zM14 55h1v1h-1zM32 55h2v1h-2zM37 55h2v1h-2zM40 55h1v1h-1zM67 55h1v1h-1zM1 56h1v1h-1zM5 56h1v1h-1zM15 56h1v1h-1zM32 56h2v1h-2zM37 56h2v1h-2zM1 57h1v1h-1zM5 57h1v1h-1zM8 57h1v1h-1zM32 57h2v1h-2zM37 57h2v1h-2zM1 58h1v1h-1zM5 58h1v1h-1zM8 58h1v1h-1zM20 58h1v1h-1zM33 58h1v1h-1zM57 58h1v1h-1zM65 58h1v1h-1zM5 60h1v1h-1zM5 61h1v1h-1zM20 61h1v1h-1zM33 61h1v1h-1zM5 62h1v1h-1zM20 62h1v1h-1zM33 62h1v1h-1zM20 63h1v1h-1zM33 63h1v1h-1zM37 63h1v1h-1zM42 63h1v1h-1zM20 64h1v1h-1zM33 64h1v1h-1zM37 64h1v1h-1zM57 64h1v1h-1zM1 65h1v1h-1zM4 65h2v1h-2zM8 65h1v1h-1zM12 65h1v1h-1zM15 65h1v1h-1zM32 65h1v1h-1zM34 65h1v1h-1zM37 65h2v1h-2zM40 65h3v1h-3zM46 65h1v1h-1zM49 65h9v1h-9zM60 65h1v1h-1zM63 65h1v1h-1zM66 65h1v1h-1zM70 65h1v1h-1zM72 65h1v1h-1zM74 65h1v1h-1zM11 66h1v1h-1zM13 66h2v1h-2zM20 66h1v1h-1zM40 66h1v1h-1zM0 69h1v1h-1zM11 69h1v1h-1zM0 70h1v1h-1zM20 70h1v1h-1zM0 71h1v1h-1zM31 71h1v1h-1zM14 72h1v1h-1zM20 72h1v1h-1zM40 72h1v1h-1zM14 73h1v1h-1zM0 74h1v1h-1zM11 74h1v1h-1zM40 75h1v1h-1zM0 77h1v1h-1zM5 77h1v1h-1zM11 77h1v1h-1zM15 77h1v1h-1zM0 78h1v1h-1zM20 79h1v1h-1zM20 80h1v1h-1zM37 80h1v1h-1zM0 81h1v1h-1zM10 81h2v1h-2zM14 81h1v1h-1zM36 81h1v1h-1zM65 81h1v1h-1zM0 82h1v1h-1zM11 82h1v1h-1zM32 82h1v1h-1zM36 82h1v1h-1zM57 82h2v1h-2zM65 82h1v1h-1zM0 83h2v1h-2zM4 83h2v1h-2zM8 83h4v1h-4zM15 83h2v1h-2zM27 83h2v1h-2zM31 83h2v1h-2zM35 83h1v1h-1zM37 83h1v1h-1zM40 83h1v1h-1zM42 83h1v1h-1zM46 83h1v1h-1zM50 83h1v1h-1zM54 83h1v1h-1zM56 83h1v1h-1zM63 83h2v1h-2zM68 83h1v1h-1zM11 84h1v1h-1zM40 84h1v1h-1zM58 84h1v1h-1zM65 84h1v1h-1zM11 85h1v1h-1zM14 87h1v1h-1zM40 87h1v1h-1zM0 88h1v1h-1zM5 88h1v1h-1zM8 88h1v1h-1zM10 88h2v1h-2zM31 88h2v1h-2zM36 88h1v1h-1zM65 88h1v1h-1z"/></svg></div>
<canvas id="cl" class="a" width="300" height="360" style="left:29.60px;top:170.40px;width:281.25px;height:337.50px"></canvas>
<div class="a" style="left:29.10px;top:169.90px;width:282.25px;height:338.50px;border:1px solid #111"></div>
<div class="tk" style="left:25.1px;top:171.78px;width:4.5px;height:1px"></div>
<div class="t" style="top:166.99px;letter-spacing:0.00px;right:677.40px;">0</div>
<div class="tk" style="left:25.1px;top:209.28px;width:4.5px;height:1px"></div>
<div class="t" style="top:204.49px;letter-spacing:0.00px;right:677.40px;">10</div>
<div class="tk" style="left:25.1px;top:246.78px;width:4.5px;height:1px"></div>
<div class="t" style="top:241.99px;letter-spacing:0.00px;right:677.40px;">20</div>
<div class="tk" style="left:25.1px;top:284.27px;width:4.5px;height:1px"></div>
<div class="t" style="top:279.49px;letter-spacing:0.00px;right:677.40px;">30</div>
<div class="tk" style="left:25.1px;top:321.77px;width:4.5px;height:1px"></div>
<div class="t" style="top:316.99px;letter-spacing:0.00px;right:677.40px;">40</div>
<div class="tk" style="left:25.1px;top:359.27px;width:4.5px;height:1px"></div>
<div class="t" style="top:354.49px;letter-spacing:0.00px;right:677.40px;">50</div>
<div class="tk" style="left:25.1px;top:396.77px;width:4.5px;height:1px"></div>
<div class="t" style="top:391.99px;letter-spacing:0.00px;right:677.40px;">60</div>
<div class="tk" style="left:25.1px;top:434.27px;width:4.5px;height:1px"></div>
<div class="t" style="top:429.49px;letter-spacing:0.00px;right:677.40px;">70</div>
<div class="tk" style="left:25.1px;top:471.77px;width:4.5px;height:1px"></div>
<div class="t" style="top:466.99px;letter-spacing:0.00px;right:677.40px;">80</div>
<div class="tk" style="left:30.98px;top:507.9px;width:1px;height:3.6px"></div>
<div class="t" style="top:515.76px;letter-spacing:0.00px;left:31.38px;width:80px;margin-left:-40px;text-align:center;">0</div>
<div class="tk" style="left:105.97px;top:507.9px;width:1px;height:3.6px"></div>
<div class="t" style="top:515.76px;letter-spacing:0.00px;left:106.38px;width:80px;margin-left:-40px;text-align:center;">20</div>
<div class="tk" style="left:180.97px;top:507.9px;width:1px;height:3.6px"></div>
<div class="t" style="top:515.76px;letter-spacing:0.00px;left:181.38px;width:80px;margin-left:-40px;text-align:center;">40</div>
<div class="tk" style="left:255.98px;top:507.9px;width:1px;height:3.6px"></div>
<div class="t" style="top:515.76px;letter-spacing:0.00px;left:256.38px;width:80px;margin-left:-40px;text-align:center;">60</div>
<div class="a" style="left:141.3px;top:150.3px;font-size:16px;line-height:1;color:#1a1a1a;white-space:nowrap">Weights</div>
<div class="red" style="left:223.3px;top:157.6px;font-size:11.2px">Neuron group col prune</div>
<div class="red" style="left:451.5px;top:151.2px;font-size:11px">Col prune</div>
<div class="a" style="left:333.40px;top:170.20px;width:17.70px;height:338.30px;border:1px solid #222;background:linear-gradient(to top,#440154 0.0%,#471164 4.3%,#482071 8.7%,#472e7c 13.0%,#443b84 17.4%,#3f4889 21.7%,#3a548c 26.1%,#34608d 30.4%,#2f6c8e 34.8%,#2a768e 39.1%,#26818e 43.5%,#228b8d 47.8%,#1f958b 52.2%,#1fa088 56.5%,#24aa83 60.9%,#2fb47c 65.2%,#42be71 69.6%,#58c765 73.9%,#70cf57 78.3%,#8bd646 82.6%,#a8db34 87.0%,#c5e021 91.3%,#e2e418 95.7%,#fde725 100.0%)"></div>
<div class="tk" style="left:351.10px;top:508.00px;width:3.8px;height:1px"></div>
<div class="t" style="top:502.91px;letter-spacing:0.40px;left:359.80px;">0.000</div>
<div class="tk" style="left:351.10px;top:440.34px;width:3.8px;height:1px"></div>
<div class="t" style="top:435.25px;letter-spacing:0.40px;left:359.80px;">0.002</div>
<div class="tk" style="left:351.10px;top:372.68px;width:3.8px;height:1px"></div>
<div class="t" style="top:367.59px;letter-spacing:0.40px;left:359.80px;">0.004</div>
<div class="tk" style="left:351.10px;top:305.02px;width:3.8px;height:1px"></div>
<div class="t" style="top:299.93px;letter-spacing:0.40px;left:359.80px;">0.006</div>
<div class="tk" style="left:351.10px;top:237.36px;width:3.8px;height:1px"></div>
<div class="t" style="top:232.27px;letter-spacing:0.40px;left:359.80px;">0.008</div>
<div class="tk" style="left:351.10px;top:169.70px;width:3.8px;height:1px"></div>
<div class="t" style="top:164.61px;letter-spacing:0.40px;left:359.80px;">0.010</div>
<div class="t" style="top:501.91px;letter-spacing:0.00px;left:483.20px;width:80px;margin-left:-40px;text-align:center;">0</div>
<div class="tk" style="left:558.20px;top:508.5px;width:1px;height:3.3px"></div>
<div class="t" style="top:516.21px;letter-spacing:0.60px;left:559.40px;width:80px;margin-left:-40px;text-align:center;">−0.02</div>
<div class="tk" style="left:642.90px;top:508.5px;width:1px;height:3.3px"></div>
<div class="t" style="top:516.21px;letter-spacing:0.60px;left:644.10px;width:80px;margin-left:-40px;text-align:center;">−0.01</div>
<div class="a" style="left:406.00px;top:170.00px;width:282.00px;height:338.70px;box-shadow:0 0 4px 2px rgba(150,195,250,.55)"></div>
<div class="a" style="left:406.30px;top:172.00px;width:280.70px;height:336.70px"><svg width="280.70" height="336.70" viewBox="0 0 75 90" preserveAspectRatio="none" shape-rendering="crispEdges" style="display:block"><rect width="75" height="90" fill="#440154"/><path fill="#471164" d="M36 0h1v1h-1zM64 0h1v1h-1zM45 1h1v1h-1zM52 2h2v1h-2zM38 4h1v1h-1zM24 5h1v1h-1zM11 8h1v1h-1zM11 10h1v1h-1zM67 10h1v1h-1zM6 11h1v1h-1zM25 12h1v1h-1zM34 12h1v1h-1zM31 17h1v1h-1zM34 17h1v1h-1zM55 17h1v1h-1zM70 17h1v1h-1zM5 19h1v1h-1zM54 19h1v1h-1zM8 26h1v1h-1zM12 26h1v1h-1zM65 27h1v1h-1zM12 28h1v1h-1zM70 28h1v1h-1zM27 29h1v1h-1zM24 31h1v1h-1zM29 31h1v1h-1zM70 31h1v1h-1zM10 33h1v1h-1zM64 34h1v1h-1zM64 36h1v1h-1zM23 39h1v1h-1zM42 40h1v1h-1zM25 41h1v1h-1zM29 41h1v1h-1zM28 42h1v1h-1zM37 42h1v1h-1zM40 42h1v1h-1zM54 42h1v1h-1zM66 42h1v1h-1zM59 43h1v1h-1zM2 47h1v1h-1zM41 48h1v1h-1zM63 48h1v1h-1zM24 49h1v1h-1zM59 51h1v1h-1zM62 51h1v1h-1zM65 51h1v1h-1zM10 53h1v1h-1zM43 53h1v1h-1zM55 59h1v1h-1zM58 62h1v1h-1zM10 63h1v1h-1zM55 64h1v1h-1zM11 67h1v1h-1zM22 68h1v1h-1zM34 69h1v1h-1zM55 73h1v1h-1zM66 73h1v1h-1zM43 74h1v1h-1zM11 75h1v1h-1zM11 76h1v1h-1zM2 77h1v1h-1zM60 77h1v1h-1zM25 80h1v1h-1zM41 80h1v1h-1zM2 81h1v1h-1zM8 81h1v1h-1zM11 81h1v1h-1zM60 81h1v1h-1zM58 82h1v1h-1zM70 82h1v1h-1zM25 84h1v1h-1zM55 84h1v1h-1zM31 86h1v1h-1zM64 86h1v1h-1zM55 88h1v1h-1zM58 88h1v1h-1z"/><path fill="#482071" d="M65 0h1v1h-1zM5 1h1v1h-1zM10 1h1v1h-1zM28 1h1v1h-1zM32 1h1v1h-1zM58 1h1v1h-1zM73 1h1v1h-1zM4 2h1v1h-1zM31 2h1v1h-1zM34 2h1v1h-1zM12 3h1v1h-1zM36 3h1v1h-1zM55 3h1v1h-1zM25 4h1v1h-1zM58 4h1v1h-1zM1 5h1v1h-1zM6 5h1v1h-1zM19 5h1v1h-1zM36 5h1v1h-1zM40 5h1v1h-1zM34 6h1v1h-1zM44 6h1v1h-1zM65 6h1v1h-1zM73 6h2v1h-2zM1 7h1v1h-1zM17 7h1v1h-1zM28 7h1v1h-1zM34 7h2v1h-2zM25 8h1v1h-1zM24 9h1v1h-1zM27 9h1v1h-1zM74 9h1v1h-1zM2 10h1v1h-1zM17 11h1v1h-1zM60 11h1v1h-1zM63 11h2v1h-2zM35 12h1v1h-1zM10 14h1v1h-1zM37 14h1v1h-1zM72 14h2v1h-2zM48 15h1v1h-1zM1 16h1v1h-1zM8 16h1v1h-1zM31 16h2v1h-2zM35 16h1v1h-1zM49 16h1v1h-1zM10 17h1v1h-1zM25 17h1v1h-1zM35 17h1v1h-1zM48 17h1v1h-1zM4 18h1v1h-1zM17 18h1v1h-1zM23 18h1v1h-1zM31 18h1v1h-1zM39 18h2v1h-2zM47 18h1v1h-1zM66 18h1v1h-1zM70 18h1v1h-1zM6 19h1v1h-1zM24 19h2v1h-2zM72 19h1v1h-1zM4 20h1v1h-1zM35 20h1v1h-1zM49 20h1v1h-1zM65 20h1v1h-1zM38 21h1v1h-1zM62 21h1v1h-1zM74 21h1v1h-1zM17 22h1v1h-1zM32 22h1v1h-1zM34 22h2v1h-2zM47 22h1v1h-1zM4 23h1v1h-1zM6 23h1v1h-1zM29 23h1v1h-1zM34 23h1v1h-1zM37 23h1v1h-1zM43 23h1v1h-1zM48 23h1v1h-1zM63 23h1v1h-1zM73 23h1v1h-1zM25 25h1v1h-1zM48 25h1v1h-1zM11 26h1v1h-1zM20 26h1v1h-1zM23 26h2v1h-2zM29 26h1v1h-1zM54 26h1v1h-1zM58 26h1v1h-1zM60 26h1v1h-1zM68 26h1v1h-1zM12 27h1v1h-1zM32 27h1v1h-1zM37 27h1v1h-1zM55 27h1v1h-1zM60 27h1v1h-1zM62 27h1v1h-1zM66 27h1v1h-1zM1 28h1v1h-1zM6 28h1v1h-1zM15 28h1v1h-1zM20 28h1v1h-1zM29 28h1v1h-1zM36 28h1v1h-1zM48 28h1v1h-1zM55 28h1v1h-1zM60 28h1v1h-1zM4 29h1v1h-1zM54 29h1v1h-1zM66 29h1v1h-1zM5 30h1v1h-1zM23 30h1v1h-1zM38 30h1v1h-1zM59 30h2v1h-2zM62 30h2v1h-2zM65 30h1v1h-1zM70 30h1v1h-1zM6 31h1v1h-1zM65 31h1v1h-1zM67 31h1v1h-1zM1 32h1v1h-1zM24 32h1v1h-1zM37 32h1v1h-1zM58 33h1v1h-1zM65 33h1v1h-1zM5 34h1v1h-1zM11 34h1v1h-1zM36 34h2v1h-2zM68 34h1v1h-1zM4 35h1v1h-1zM8 35h1v1h-1zM59 35h1v1h-1zM67 35h1v1h-1zM1 36h1v1h-1zM5 36h1v1h-1zM11 36h1v1h-1zM32 36h1v1h-1zM35 36h1v1h-1zM36 38h1v1h-1zM73 38h2v1h-2zM44 39h1v1h-1zM55 39h1v1h-1zM67 39h1v1h-1zM45 41h1v1h-1zM52 41h1v1h-1zM73 41h1v1h-1zM15 42h1v1h-1zM35 42h1v1h-1zM38 42h1v1h-1zM41 42h1v1h-1zM55 42h1v1h-1zM57 42h1v1h-1zM59 42h1v1h-1zM63 42h1v1h-1zM67 42h2v1h-2zM4 43h1v1h-1zM31 43h1v1h-1zM25 44h1v1h-1zM28 44h1v1h-1zM55 44h1v1h-1zM64 44h1v1h-1zM70 44h1v1h-1zM73 44h1v1h-1zM4 45h1v1h-1zM25 46h1v1h-1zM49 46h1v1h-1zM6 47h1v1h-1zM11 47h1v1h-1zM29 47h1v1h-1zM32 47h1v1h-1zM57 47h1v1h-1zM24 48h2v1h-2zM6 49h1v1h-1zM35 49h1v1h-1zM62 49h1v1h-1zM70 49h1v1h-1zM4 50h2v1h-2zM38 50h2v1h-2zM4 51h1v1h-1zM36 51h1v1h-1zM41 51h1v1h-1zM53 51h1v1h-1zM57 51h1v1h-1zM66 51h1v1h-1zM70 51h1v1h-1zM4 52h2v1h-2zM28 52h1v1h-1zM43 52h1v1h-1zM8 53h1v1h-1zM28 53h1v1h-1zM34 53h1v1h-1zM37 53h1v1h-1zM40 53h1v1h-1zM52 53h1v1h-1zM55 53h1v1h-1zM21 55h1v1h-1zM35 55h1v1h-1zM48 55h1v1h-1zM58 55h2v1h-2zM38 56h1v1h-1zM58 56h1v1h-1zM63 56h1v1h-1zM2 57h1v1h-1zM31 57h1v1h-1zM52 57h1v1h-1zM30 59h1v1h-1zM74 59h1v1h-1zM5 61h1v1h-1zM34 61h1v1h-1zM66 61h1v1h-1zM19 62h1v1h-1zM25 62h1v1h-1zM31 62h1v1h-1zM37 62h1v1h-1zM42 62h1v1h-1zM74 62h1v1h-1zM1 63h1v1h-1zM20 63h1v1h-1zM28 63h1v1h-1zM48 63h1v1h-1zM54 63h1v1h-1zM2 64h1v1h-1zM25 64h1v1h-1zM39 64h1v1h-1zM4 65h1v1h-1zM17 65h1v1h-1zM29 65h1v1h-1zM36 65h1v1h-1zM65 65h1v1h-1zM73 65h1v1h-1zM8 66h1v1h-1zM28 66h1v1h-1zM37 66h1v1h-1zM49 66h1v1h-1zM62 66h1v1h-1zM73 66h1v1h-1zM37 67h1v1h-1zM65 67h1v1h-1zM68 67h1v1h-1zM10 68h1v1h-1zM31 69h1v1h-1zM38 69h1v1h-1zM36 71h1v1h-1zM39 71h1v1h-1zM58 71h1v1h-1zM62 71h1v1h-1zM2 73h1v1h-1zM25 73h1v1h-1zM36 73h1v1h-1zM44 73h1v1h-1zM64 73h1v1h-1zM12 74h1v1h-1zM56 74h1v1h-1zM2 75h1v1h-1zM19 75h2v1h-2zM25 75h1v1h-1zM34 75h1v1h-1zM38 75h1v1h-1zM62 75h2v1h-2zM74 75h1v1h-1zM18 76h1v1h-1zM23 76h2v1h-2zM30 76h1v1h-1zM34 76h1v1h-1zM37 76h2v1h-2zM42 76h1v1h-1zM63 76h1v1h-1zM65 76h1v1h-1zM74 76h1v1h-1zM10 77h1v1h-1zM34 77h1v1h-1zM12 78h1v1h-1zM4 80h1v1h-1zM10 80h1v1h-1zM35 80h1v1h-1zM55 80h1v1h-1zM65 80h1v1h-1zM24 81h1v1h-1zM34 81h1v1h-1zM49 81h1v1h-1zM56 81h1v1h-1zM11 82h1v1h-1zM25 82h1v1h-1zM48 82h1v1h-1zM57 82h1v1h-1zM67 82h1v1h-1zM59 83h1v1h-1zM12 84h1v1h-1zM34 84h1v1h-1zM37 84h2v1h-2zM58 84h1v1h-1zM65 84h1v1h-1zM67 84h1v1h-1zM72 84h2v1h-2zM55 85h1v1h-1zM62 85h1v1h-1zM2 86h1v1h-1zM24 86h1v1h-1zM37 86h1v1h-1zM40 86h1v1h-1zM55 86h1v1h-1zM67 86h2v1h-2zM2 87h1v1h-1zM8 87h1v1h-1zM49 87h1v1h-1zM53 87h1v1h-1zM49 88h1v1h-1zM65 88h1v1h-1zM24 89h1v1h-1z"/><path fill="#472e7c" d="M2 0h1v1h-1zM6 0h1v1h-1zM32 0h1v1h-1zM35 0h1v1h-1zM40 0h1v1h-1zM68 0h1v1h-1zM74 0h1v1h-1zM4 1h1v1h-1zM6 1h1v1h-1zM24 1h1v1h-1zM60 1h1v1h-1zM63 1h1v1h-1zM72 1h1v1h-1zM74 1h1v1h-1zM1 2h1v1h-1zM12 2h1v1h-1zM20 2h1v1h-1zM28 2h1v1h-1zM38 2h1v1h-1zM60 2h1v1h-1zM2 3h1v1h-1zM32 3h1v1h-1zM43 3h1v1h-1zM63 3h1v1h-1zM6 4h1v1h-1zM24 4h1v1h-1zM34 4h1v1h-1zM52 4h1v1h-1zM62 4h1v1h-1zM70 4h1v1h-1zM12 5h1v1h-1zM22 5h1v1h-1zM39 5h1v1h-1zM56 5h1v1h-1zM65 5h1v1h-1zM6 6h1v1h-1zM19 6h1v1h-1zM36 6h1v1h-1zM55 6h1v1h-1zM62 6h2v1h-2zM70 6h1v1h-1zM72 6h1v1h-1zM6 7h1v1h-1zM8 7h1v1h-1zM11 7h1v1h-1zM24 7h1v1h-1zM44 7h1v1h-1zM57 7h1v1h-1zM60 7h1v1h-1zM10 8h1v1h-1zM24 8h1v1h-1zM39 8h1v1h-1zM58 8h1v1h-1zM63 8h1v1h-1zM73 8h1v1h-1zM17 9h1v1h-1zM41 9h1v1h-1zM4 10h1v1h-1zM10 10h1v1h-1zM22 10h1v1h-1zM31 10h1v1h-1zM35 10h1v1h-1zM42 10h1v1h-1zM55 10h1v1h-1zM2 11h1v1h-1zM4 11h1v1h-1zM18 11h1v1h-1zM27 11h1v1h-1zM34 11h1v1h-1zM40 11h1v1h-1zM55 11h1v1h-1zM65 11h1v1h-1zM10 12h1v1h-1zM36 12h3v1h-3zM45 12h1v1h-1zM65 12h1v1h-1zM4 14h1v1h-1zM24 14h1v1h-1zM68 14h1v1h-1zM5 15h1v1h-1zM24 15h1v1h-1zM4 16h1v1h-1zM22 16h1v1h-1zM24 16h1v1h-1zM58 16h1v1h-1zM60 16h1v1h-1zM18 17h1v1h-1zM27 17h1v1h-1zM37 17h1v1h-1zM39 17h1v1h-1zM47 17h1v1h-1zM68 17h1v1h-1zM2 18h1v1h-1zM5 18h1v1h-1zM12 18h1v1h-1zM27 18h1v1h-1zM32 18h1v1h-1zM36 18h1v1h-1zM49 18h1v1h-1zM58 18h1v1h-1zM60 18h1v1h-1zM72 18h1v1h-1zM2 19h1v1h-1zM4 19h1v1h-1zM34 19h1v1h-1zM39 19h1v1h-1zM66 19h1v1h-1zM68 19h1v1h-1zM22 20h1v1h-1zM31 20h1v1h-1zM36 20h1v1h-1zM39 20h1v1h-1zM48 20h1v1h-1zM55 20h1v1h-1zM58 20h1v1h-1zM63 20h1v1h-1zM74 20h1v1h-1zM4 21h1v1h-1zM55 21h1v1h-1zM68 21h1v1h-1zM70 21h1v1h-1zM72 21h1v1h-1zM31 22h1v1h-1zM41 22h1v1h-1zM74 22h1v1h-1zM8 23h1v1h-1zM10 23h1v1h-1zM20 23h1v1h-1zM38 23h1v1h-1zM62 23h1v1h-1zM70 23h1v1h-1zM19 24h1v1h-1zM6 25h1v1h-1zM39 25h1v1h-1zM59 25h2v1h-2zM74 25h1v1h-1zM15 26h1v1h-1zM17 26h1v1h-1zM34 26h1v1h-1zM39 26h1v1h-1zM44 26h1v1h-1zM53 26h1v1h-1zM55 26h1v1h-1zM57 26h1v1h-1zM62 26h3v1h-3zM2 27h1v1h-1zM29 27h1v1h-1zM48 27h1v1h-1zM54 27h1v1h-1zM8 28h1v1h-1zM24 28h1v1h-1zM28 28h1v1h-1zM34 28h1v1h-1zM37 28h1v1h-1zM41 28h1v1h-1zM57 28h1v1h-1zM63 28h1v1h-1zM74 28h1v1h-1zM18 29h1v1h-1zM20 29h1v1h-1zM25 29h1v1h-1zM28 29h1v1h-1zM31 29h1v1h-1zM38 29h3v1h-3zM57 29h2v1h-2zM68 29h1v1h-1zM6 30h1v1h-1zM36 30h1v1h-1zM41 30h1v1h-1zM58 30h1v1h-1zM5 31h1v1h-1zM10 31h1v1h-1zM37 31h1v1h-1zM39 31h2v1h-2zM59 31h1v1h-1zM64 31h1v1h-1zM66 31h1v1h-1zM73 31h1v1h-1zM17 32h1v1h-1zM25 32h1v1h-1zM38 32h1v1h-1zM41 32h1v1h-1zM65 32h1v1h-1zM1 33h1v1h-1zM21 33h1v1h-1zM36 33h1v1h-1zM38 33h1v1h-1zM44 33h1v1h-1zM55 33h1v1h-1zM66 33h1v1h-1zM6 34h1v1h-1zM22 34h1v1h-1zM34 34h1v1h-1zM44 34h1v1h-1zM48 34h1v1h-1zM54 34h1v1h-1zM5 35h1v1h-1zM73 35h2v1h-2zM2 36h1v1h-1zM25 36h1v1h-1zM28 36h1v1h-1zM40 36h1v1h-1zM58 36h2v1h-2zM66 36h1v1h-1zM8 37h1v1h-1zM11 38h1v1h-1zM30 38h1v1h-1zM52 38h1v1h-1zM10 39h2v1h-2zM19 39h1v1h-1zM22 39h1v1h-1zM37 39h1v1h-1zM39 39h1v1h-1zM41 39h1v1h-1zM59 39h1v1h-1zM62 39h2v1h-2zM65 39h1v1h-1zM10 40h2v1h-2zM31 40h2v1h-2zM37 40h1v1h-1zM65 40h1v1h-1zM4 41h3v1h-3zM30 41h1v1h-1zM41 41h1v1h-1zM47 41h1v1h-1zM65 41h1v1h-1zM2 42h1v1h-1zM4 42h2v1h-2zM10 42h1v1h-1zM34 42h1v1h-1zM74 42h1v1h-1zM2 43h1v1h-1zM6 43h1v1h-1zM29 43h1v1h-1zM66 43h1v1h-1zM2 44h1v1h-1zM5 44h1v1h-1zM12 44h1v1h-1zM24 44h1v1h-1zM37 44h1v1h-1zM39 44h1v1h-1zM41 44h1v1h-1zM47 44h2v1h-2zM63 44h1v1h-1zM66 44h2v1h-2zM6 45h1v1h-1zM27 45h1v1h-1zM34 45h1v1h-1zM39 45h1v1h-1zM47 45h1v1h-1zM70 45h1v1h-1zM39 46h1v1h-1zM44 46h1v1h-1zM70 46h1v1h-1zM4 47h1v1h-1zM28 47h1v1h-1zM34 47h1v1h-1zM36 47h1v1h-1zM38 47h2v1h-2zM44 47h1v1h-1zM55 47h1v1h-1zM72 47h3v1h-3zM10 48h1v1h-1zM22 48h1v1h-1zM36 48h1v1h-1zM48 48h1v1h-1zM5 49h1v1h-1zM8 49h1v1h-1zM10 49h1v1h-1zM32 49h1v1h-1zM39 49h2v1h-2zM6 50h1v1h-1zM64 50h2v1h-2zM1 51h2v1h-2zM5 51h1v1h-1zM20 51h1v1h-1zM35 51h1v1h-1zM6 52h1v1h-1zM24 52h1v1h-1zM62 52h1v1h-1zM23 53h1v1h-1zM25 53h1v1h-1zM36 53h1v1h-1zM44 53h1v1h-1zM62 53h1v1h-1zM73 53h1v1h-1zM11 55h2v1h-2zM18 55h1v1h-1zM25 55h1v1h-1zM31 55h1v1h-1zM34 55h1v1h-1zM42 55h1v1h-1zM67 55h1v1h-1zM72 55h1v1h-1zM74 55h1v1h-1zM10 56h1v1h-1zM62 56h1v1h-1zM67 57h1v1h-1zM30 58h1v1h-1zM35 58h1v1h-1zM12 59h1v1h-1zM20 59h1v1h-1zM35 59h1v1h-1zM44 59h1v1h-1zM67 59h1v1h-1zM73 59h1v1h-1zM31 60h1v1h-1zM6 61h1v1h-1zM36 61h2v1h-2zM58 61h1v1h-1zM67 61h1v1h-1zM2 62h1v1h-1zM28 62h1v1h-1zM40 62h1v1h-1zM44 62h1v1h-1zM47 62h1v1h-1zM59 62h1v1h-1zM34 63h1v1h-1zM62 63h1v1h-1zM11 64h1v1h-1zM36 64h1v1h-1zM63 64h1v1h-1zM8 65h1v1h-1zM15 65h1v1h-1zM64 65h1v1h-1zM22 66h1v1h-1zM65 66h1v1h-1zM17 67h1v1h-1zM20 67h1v1h-1zM23 67h1v1h-1zM28 67h1v1h-1zM48 67h1v1h-1zM55 67h1v1h-1zM63 67h1v1h-1zM70 67h1v1h-1zM49 68h1v1h-1zM64 68h1v1h-1zM67 68h2v1h-2zM4 69h2v1h-2zM8 69h1v1h-1zM15 69h1v1h-1zM27 69h1v1h-1zM32 69h1v1h-1zM45 69h1v1h-1zM68 69h1v1h-1zM70 69h1v1h-1zM2 70h1v1h-1zM4 70h1v1h-1zM6 70h1v1h-1zM10 70h1v1h-1zM22 70h1v1h-1zM28 70h1v1h-1zM41 70h1v1h-1zM49 70h1v1h-1zM62 70h1v1h-1zM66 70h1v1h-1zM74 70h1v1h-1zM8 71h1v1h-1zM29 71h1v1h-1zM35 71h1v1h-1zM66 71h1v1h-1zM70 71h1v1h-1zM48 72h1v1h-1zM10 73h1v1h-1zM24 73h1v1h-1zM31 73h1v1h-1zM49 73h1v1h-1zM57 73h1v1h-1zM70 73h1v1h-1zM73 74h1v1h-1zM8 75h1v1h-1zM36 75h1v1h-1zM44 75h1v1h-1zM48 75h1v1h-1zM58 75h1v1h-1zM67 75h1v1h-1zM73 75h1v1h-1zM10 76h1v1h-1zM19 76h1v1h-1zM41 76h1v1h-1zM5 77h1v1h-1zM8 77h1v1h-1zM12 77h1v1h-1zM28 77h1v1h-1zM31 77h1v1h-1zM35 77h1v1h-1zM38 77h1v1h-1zM44 77h1v1h-1zM47 77h1v1h-1zM49 77h1v1h-1zM64 77h1v1h-1zM73 77h1v1h-1zM4 78h1v1h-1zM6 78h1v1h-1zM39 78h1v1h-1zM48 78h1v1h-1zM64 78h1v1h-1zM70 78h1v1h-1zM34 79h1v1h-1zM48 79h1v1h-1zM12 80h1v1h-1zM30 80h1v1h-1zM32 80h1v1h-1zM47 80h1v1h-1zM52 80h1v1h-1zM56 80h2v1h-2zM59 80h1v1h-1zM66 80h1v1h-1zM20 81h1v1h-1zM39 81h1v1h-1zM41 81h1v1h-1zM54 81h2v1h-2zM35 82h1v1h-1zM40 82h1v1h-1zM42 82h1v1h-1zM2 84h1v1h-1zM4 84h1v1h-1zM32 84h1v1h-1zM45 84h1v1h-1zM47 84h1v1h-1zM52 84h1v1h-1zM54 84h1v1h-1zM64 84h1v1h-1zM5 85h1v1h-1zM37 85h1v1h-1zM59 85h1v1h-1zM72 85h1v1h-1zM32 86h1v1h-1zM36 86h1v1h-1zM39 86h1v1h-1zM45 86h1v1h-1zM49 86h1v1h-1zM58 86h1v1h-1zM72 86h1v1h-1zM27 87h1v1h-1zM29 87h1v1h-1zM39 87h2v1h-2zM58 87h1v1h-1zM65 87h1v1h-1zM67 87h1v1h-1zM70 87h1v1h-1zM4 88h2v1h-2zM10 88h1v1h-1zM25 88h1v1h-1zM42 88h1v1h-1zM1 89h1v1h-1zM20 89h1v1h-1zM30 89h1v1h-1zM52 89h1v1h-1zM54 89h1v1h-1zM58 89h1v1h-1zM64 89h1v1h-1zM67 89h1v1h-1zM73 89h1v1h-1z"/><path fill="#443b84" d="M11 0h1v1h-1zM19 0h1v1h-1zM21 0h1v1h-1zM27 0h1v1h-1zM37 0h1v1h-1zM43 0h1v1h-1zM52 0h1v1h-1zM67 0h1v1h-1zM70 0h1v1h-1zM73 0h1v1h-1zM12 1h1v1h-1zM27 1h1v1h-1zM35 1h2v1h-2zM38 1h2v1h-2zM47 1h1v1h-1zM49 1h1v1h-1zM53 1h1v1h-1zM55 1h1v1h-1zM57 1h1v1h-1zM62 1h1v1h-1zM64 1h1v1h-1zM67 1h1v1h-1zM70 1h1v1h-1zM15 2h1v1h-1zM37 2h1v1h-1zM39 2h1v1h-1zM41 2h1v1h-1zM47 2h1v1h-1zM62 2h1v1h-1zM67 2h1v1h-1zM70 2h1v1h-1zM34 3h1v1h-1zM40 3h1v1h-1zM65 3h1v1h-1zM70 3h1v1h-1zM31 4h1v1h-1zM44 4h1v1h-1zM63 4h1v1h-1zM4 5h2v1h-2zM38 5h1v1h-1zM42 5h1v1h-1zM45 5h1v1h-1zM63 5h1v1h-1zM68 5h1v1h-1zM48 6h1v1h-1zM54 6h1v1h-1zM58 6h2v1h-2zM66 6h2v1h-2zM5 7h1v1h-1zM19 7h1v1h-1zM23 7h1v1h-1zM40 7h1v1h-1zM55 7h1v1h-1zM62 7h1v1h-1zM66 7h2v1h-2zM2 8h1v1h-1zM12 8h1v1h-1zM15 8h1v1h-1zM1 9h1v1h-1zM25 9h1v1h-1zM36 9h1v1h-1zM40 9h1v1h-1zM53 9h2v1h-2zM63 10h1v1h-1zM66 10h1v1h-1zM10 11h1v1h-1zM41 11h1v1h-1zM47 11h1v1h-1zM58 11h1v1h-1zM73 11h1v1h-1zM4 12h1v1h-1zM6 12h1v1h-1zM11 12h1v1h-1zM20 12h1v1h-1zM24 12h1v1h-1zM39 12h2v1h-2zM53 12h1v1h-1zM62 12h2v1h-2zM68 12h1v1h-1zM70 12h1v1h-1zM74 12h1v1h-1zM25 13h1v1h-1zM11 14h2v1h-2zM23 14h1v1h-1zM36 14h1v1h-1zM41 14h1v1h-1zM56 14h1v1h-1zM62 14h1v1h-1zM65 14h1v1h-1zM74 14h1v1h-1zM27 15h1v1h-1zM54 15h1v1h-1zM6 16h1v1h-1zM10 16h1v1h-1zM20 16h1v1h-1zM25 16h1v1h-1zM36 16h1v1h-1zM45 16h1v1h-1zM63 16h1v1h-1zM8 17h1v1h-1zM23 17h1v1h-1zM29 17h1v1h-1zM44 17h1v1h-1zM57 17h2v1h-2zM6 18h1v1h-1zM20 18h1v1h-1zM24 18h1v1h-1zM30 18h1v1h-1zM45 18h1v1h-1zM54 18h1v1h-1zM62 18h1v1h-1zM1 19h1v1h-1zM15 19h1v1h-1zM27 19h1v1h-1zM35 19h2v1h-2zM38 19h1v1h-1zM6 20h1v1h-1zM25 20h1v1h-1zM34 20h1v1h-1zM56 20h1v1h-1zM59 20h1v1h-1zM68 20h1v1h-1zM72 20h1v1h-1zM25 21h1v1h-1zM58 21h1v1h-1zM63 21h1v1h-1zM66 21h1v1h-1zM73 21h1v1h-1zM15 22h1v1h-1zM63 22h1v1h-1zM2 23h1v1h-1zM27 23h1v1h-1zM31 23h2v1h-2zM55 23h2v1h-2zM64 23h1v1h-1zM2 25h1v1h-1zM45 25h1v1h-1zM63 25h1v1h-1zM70 25h1v1h-1zM2 26h1v1h-1zM22 26h1v1h-1zM25 26h1v1h-1zM31 26h1v1h-1zM43 26h1v1h-1zM74 26h1v1h-1zM1 27h1v1h-1zM5 27h1v1h-1zM21 27h1v1h-1zM47 27h1v1h-1zM53 27h1v1h-1zM56 27h1v1h-1zM5 28h1v1h-1zM25 28h1v1h-1zM38 28h1v1h-1zM44 28h1v1h-1zM62 28h1v1h-1zM6 29h1v1h-1zM10 29h1v1h-1zM12 29h1v1h-1zM17 29h1v1h-1zM23 29h1v1h-1zM34 29h1v1h-1zM36 29h1v1h-1zM41 29h1v1h-1zM55 29h1v1h-1zM59 29h1v1h-1zM4 30h1v1h-1zM10 30h1v1h-1zM18 30h1v1h-1zM34 30h1v1h-1zM39 30h1v1h-1zM44 30h1v1h-1zM64 30h1v1h-1zM67 30h1v1h-1zM11 31h1v1h-1zM20 31h1v1h-1zM45 31h1v1h-1zM56 31h1v1h-1zM60 31h1v1h-1zM62 31h2v1h-2zM2 32h1v1h-1zM23 32h1v1h-1zM35 32h1v1h-1zM39 32h1v1h-1zM45 32h1v1h-1zM47 32h1v1h-1zM73 32h2v1h-2zM5 33h1v1h-1zM29 33h1v1h-1zM35 33h1v1h-1zM40 33h1v1h-1zM43 33h1v1h-1zM45 33h1v1h-1zM47 33h1v1h-1zM52 33h1v1h-1zM56 33h1v1h-1zM60 33h1v1h-1zM62 33h1v1h-1zM64 33h1v1h-1zM67 33h1v1h-1zM2 34h1v1h-1zM23 34h1v1h-1zM31 34h2v1h-2zM49 34h1v1h-1zM53 34h1v1h-1zM59 34h1v1h-1zM66 34h2v1h-2zM2 35h1v1h-1zM17 35h1v1h-1zM24 35h2v1h-2zM27 35h1v1h-1zM35 35h1v1h-1zM39 35h1v1h-1zM43 35h1v1h-1zM55 35h1v1h-1zM66 35h1v1h-1zM6 36h1v1h-1zM34 36h1v1h-1zM56 36h1v1h-1zM60 36h1v1h-1zM65 36h1v1h-1zM67 36h1v1h-1zM2 38h1v1h-1zM6 38h1v1h-1zM22 38h1v1h-1zM31 38h2v1h-2zM45 38h1v1h-1zM55 38h1v1h-1zM59 38h1v1h-1zM6 39h1v1h-1zM12 39h1v1h-1zM25 39h1v1h-1zM34 39h3v1h-3zM38 39h1v1h-1zM68 39h1v1h-1zM8 40h1v1h-1zM39 40h1v1h-1zM44 40h1v1h-1zM60 40h1v1h-1zM68 40h1v1h-1zM74 40h1v1h-1zM2 41h1v1h-1zM8 41h1v1h-1zM11 41h1v1h-1zM28 41h1v1h-1zM44 41h1v1h-1zM55 41h1v1h-1zM1 42h1v1h-1zM6 42h1v1h-1zM18 42h1v1h-1zM27 42h1v1h-1zM42 42h3v1h-3zM48 42h2v1h-2zM58 42h1v1h-1zM60 42h1v1h-1zM62 42h1v1h-1zM12 43h1v1h-1zM18 43h1v1h-1zM35 43h1v1h-1zM56 43h1v1h-1zM6 44h1v1h-1zM34 44h1v1h-1zM74 44h1v1h-1zM8 45h1v1h-1zM41 45h1v1h-1zM54 45h1v1h-1zM56 45h1v1h-1zM59 45h1v1h-1zM62 45h1v1h-1zM64 45h1v1h-1zM10 46h3v1h-3zM20 46h1v1h-1zM35 46h1v1h-1zM38 46h1v1h-1zM60 46h1v1h-1zM62 46h1v1h-1zM67 46h1v1h-1zM18 47h2v1h-2zM22 47h1v1h-1zM24 47h1v1h-1zM43 47h1v1h-1zM49 47h1v1h-1zM54 47h1v1h-1zM56 47h1v1h-1zM59 47h2v1h-2zM63 47h1v1h-1zM66 47h1v1h-1zM70 47h1v1h-1zM4 48h1v1h-1zM8 48h1v1h-1zM21 48h1v1h-1zM37 48h1v1h-1zM39 48h2v1h-2zM45 48h1v1h-1zM58 48h1v1h-1zM12 49h1v1h-1zM30 49h1v1h-1zM43 49h1v1h-1zM56 49h1v1h-1zM63 49h1v1h-1zM17 50h1v1h-1zM25 50h1v1h-1zM32 50h1v1h-1zM36 50h1v1h-1zM53 50h1v1h-1zM62 50h2v1h-2zM28 51h1v1h-1zM39 51h1v1h-1zM49 51h1v1h-1zM60 51h1v1h-1zM64 51h1v1h-1zM67 51h1v1h-1zM10 52h2v1h-2zM27 52h1v1h-1zM47 52h1v1h-1zM73 52h1v1h-1zM5 53h1v1h-1zM11 53h2v1h-2zM18 53h1v1h-1zM20 53h1v1h-1zM22 53h1v1h-1zM30 53h1v1h-1zM41 53h1v1h-1zM49 53h1v1h-1zM56 53h1v1h-1zM60 53h1v1h-1zM67 53h1v1h-1zM40 54h1v1h-1zM59 54h1v1h-1zM74 54h1v1h-1zM4 55h1v1h-1zM6 55h1v1h-1zM15 55h1v1h-1zM47 55h1v1h-1zM55 55h1v1h-1zM66 55h1v1h-1zM11 56h2v1h-2zM25 56h1v1h-1zM31 56h1v1h-1zM35 56h1v1h-1zM39 56h1v1h-1zM53 56h1v1h-1zM57 56h1v1h-1zM66 56h1v1h-1zM5 57h1v1h-1zM8 57h1v1h-1zM25 57h1v1h-1zM53 57h1v1h-1zM58 57h2v1h-2zM65 57h1v1h-1zM2 58h1v1h-1zM42 58h1v1h-1zM53 58h1v1h-1zM55 58h1v1h-1zM57 58h1v1h-1zM64 58h1v1h-1zM67 58h1v1h-1zM24 59h1v1h-1zM39 59h1v1h-1zM65 59h1v1h-1zM4 60h1v1h-1zM2 61h1v1h-1zM12 61h1v1h-1zM43 61h2v1h-2zM54 61h1v1h-1zM63 61h1v1h-1zM65 61h1v1h-1zM72 61h1v1h-1zM5 62h1v1h-1zM30 62h1v1h-1zM34 62h3v1h-3zM49 62h1v1h-1zM68 62h1v1h-1zM8 63h1v1h-1zM12 63h1v1h-1zM19 63h1v1h-1zM24 63h1v1h-1zM39 63h1v1h-1zM56 63h1v1h-1zM12 64h1v1h-1zM17 64h1v1h-1zM20 64h1v1h-1zM24 64h1v1h-1zM2 65h1v1h-1zM10 65h1v1h-1zM27 65h1v1h-1zM30 65h1v1h-1zM38 65h1v1h-1zM52 65h1v1h-1zM56 65h1v1h-1zM72 65h1v1h-1zM4 66h1v1h-1zM17 66h1v1h-1zM24 66h1v1h-1zM41 66h1v1h-1zM74 66h1v1h-1zM2 67h1v1h-1zM8 67h1v1h-1zM10 67h1v1h-1zM12 67h1v1h-1zM19 67h1v1h-1zM39 67h1v1h-1zM44 67h1v1h-1zM66 67h1v1h-1zM72 67h1v1h-1zM2 68h1v1h-1zM18 68h1v1h-1zM58 68h1v1h-1zM65 68h1v1h-1zM74 68h1v1h-1zM2 69h1v1h-1zM6 69h1v1h-1zM10 69h1v1h-1zM12 69h1v1h-1zM23 69h1v1h-1zM28 69h1v1h-1zM42 69h1v1h-1zM62 69h1v1h-1zM24 70h1v1h-1zM27 70h1v1h-1zM38 70h2v1h-2zM48 70h1v1h-1zM38 71h1v1h-1zM43 71h1v1h-1zM47 71h1v1h-1zM57 71h1v1h-1zM73 71h1v1h-1zM40 72h1v1h-1zM1 73h1v1h-1zM12 73h1v1h-1zM18 73h1v1h-1zM23 73h1v1h-1zM35 73h1v1h-1zM37 73h1v1h-1zM60 73h1v1h-1zM62 73h1v1h-1zM65 73h1v1h-1zM68 73h1v1h-1zM72 73h1v1h-1zM74 73h1v1h-1zM39 74h1v1h-1zM52 74h1v1h-1zM55 74h1v1h-1zM58 74h1v1h-1zM68 74h1v1h-1zM18 75h1v1h-1zM27 75h1v1h-1zM35 75h1v1h-1zM49 75h1v1h-1zM55 75h1v1h-1zM64 75h1v1h-1zM70 75h1v1h-1zM6 76h1v1h-1zM12 76h1v1h-1zM35 76h2v1h-2zM45 76h1v1h-1zM47 76h1v1h-1zM56 76h1v1h-1zM58 76h1v1h-1zM60 76h1v1h-1zM66 76h2v1h-2zM70 76h1v1h-1zM72 76h1v1h-1zM6 77h1v1h-1zM25 77h1v1h-1zM32 77h1v1h-1zM39 77h1v1h-1zM53 77h2v1h-2zM59 77h1v1h-1zM62 77h1v1h-1zM65 77h1v1h-1zM67 77h1v1h-1zM5 78h1v1h-1zM8 78h1v1h-1zM25 78h1v1h-1zM43 78h1v1h-1zM55 78h1v1h-1zM17 79h1v1h-1zM15 80h1v1h-1zM24 80h1v1h-1zM38 80h2v1h-2zM62 80h1v1h-1zM72 80h1v1h-1zM15 81h1v1h-1zM18 81h1v1h-1zM25 81h1v1h-1zM27 81h1v1h-1zM29 81h2v1h-2zM62 81h1v1h-1zM68 81h1v1h-1zM1 82h1v1h-1zM47 82h1v1h-1zM49 82h1v1h-1zM66 82h1v1h-1zM30 83h1v1h-1zM40 83h1v1h-1zM44 83h1v1h-1zM49 83h1v1h-1zM58 83h1v1h-1zM22 84h2v1h-2zM27 84h1v1h-1zM40 84h1v1h-1zM48 84h1v1h-1zM68 84h1v1h-1zM1 85h1v1h-1zM18 85h1v1h-1zM35 85h2v1h-2zM1 86h1v1h-1zM5 86h1v1h-1zM15 86h1v1h-1zM22 86h1v1h-1zM29 86h1v1h-1zM34 86h1v1h-1zM38 86h1v1h-1zM54 86h1v1h-1zM56 86h2v1h-2zM60 86h1v1h-1zM65 86h2v1h-2zM6 87h1v1h-1zM37 87h1v1h-1zM52 87h1v1h-1zM63 87h1v1h-1zM72 87h1v1h-1zM21 88h1v1h-1zM27 88h1v1h-1zM43 88h1v1h-1zM47 88h2v1h-2zM52 88h1v1h-1zM4 89h1v1h-1zM6 89h1v1h-1zM37 89h1v1h-1zM40 89h1v1h-1zM44 89h1v1h-1zM66 89h1v1h-1zM70 89h1v1h-1zM74 89h1v1h-1z"/><path fill="#3f4889" d="M22 0h1v1h-1zM31 0h1v1h-1zM38 0h1v1h-1zM44 0h1v1h-1zM59 0h1v1h-1zM62 0h1v1h-1zM2 1h1v1h-1zM8 1h1v1h-1zM11 1h1v1h-1zM37 1h1v1h-1zM44 1h1v1h-1zM48 1h1v1h-1zM65 1h1v1h-1zM11 2h1v1h-1zM32 2h1v1h-1zM35 2h2v1h-2zM43 2h1v1h-1zM48 2h1v1h-1zM58 2h1v1h-1zM68 2h1v1h-1zM11 3h1v1h-1zM28 3h1v1h-1zM56 3h1v1h-1zM66 3h1v1h-1zM12 4h1v1h-1zM47 4h1v1h-1zM56 4h2v1h-2zM10 5h2v1h-2zM15 5h1v1h-1zM23 5h1v1h-1zM29 5h1v1h-1zM31 5h1v1h-1zM43 5h1v1h-1zM64 5h1v1h-1zM66 5h2v1h-2zM8 6h1v1h-1zM22 6h2v1h-2zM25 6h1v1h-1zM27 6h1v1h-1zM37 6h1v1h-1zM18 7h1v1h-1zM39 7h1v1h-1zM45 7h1v1h-1zM54 7h1v1h-1zM59 7h1v1h-1zM65 7h1v1h-1zM31 8h1v1h-1zM36 8h1v1h-1zM43 8h1v1h-1zM59 8h1v1h-1zM70 8h1v1h-1zM10 9h1v1h-1zM23 9h1v1h-1zM35 9h1v1h-1zM42 9h1v1h-1zM59 9h1v1h-1zM65 9h1v1h-1zM15 10h1v1h-1zM24 10h1v1h-1zM52 10h2v1h-2zM5 11h1v1h-1zM12 11h1v1h-1zM15 11h1v1h-1zM20 11h1v1h-1zM23 11h1v1h-1zM25 11h1v1h-1zM36 11h1v1h-1zM39 11h1v1h-1zM62 11h1v1h-1zM72 11h1v1h-1zM2 12h1v1h-1zM5 12h1v1h-1zM17 12h2v1h-2zM23 12h1v1h-1zM31 12h2v1h-2zM41 12h1v1h-1zM47 12h1v1h-1zM49 12h1v1h-1zM58 12h2v1h-2zM31 14h1v1h-1zM35 14h1v1h-1zM39 14h1v1h-1zM42 14h1v1h-1zM49 14h1v1h-1zM54 14h2v1h-2zM58 14h1v1h-1zM35 15h1v1h-1zM45 15h1v1h-1zM55 15h1v1h-1zM67 15h1v1h-1zM21 16h1v1h-1zM23 16h1v1h-1zM40 16h1v1h-1zM54 16h1v1h-1zM74 16h1v1h-1zM2 17h1v1h-1zM5 17h1v1h-1zM11 17h1v1h-1zM19 17h1v1h-1zM45 17h1v1h-1zM54 17h1v1h-1zM62 17h1v1h-1zM66 17h1v1h-1zM74 17h1v1h-1zM10 18h2v1h-2zM35 18h1v1h-1zM37 18h1v1h-1zM41 18h1v1h-1zM57 18h1v1h-1zM64 18h1v1h-1zM68 18h1v1h-1zM10 19h1v1h-1zM18 19h1v1h-1zM48 19h1v1h-1zM58 19h1v1h-1zM5 20h1v1h-1zM15 20h1v1h-1zM18 20h1v1h-1zM32 20h1v1h-1zM73 20h1v1h-1zM2 21h1v1h-1zM6 21h1v1h-1zM10 21h1v1h-1zM17 21h1v1h-1zM19 21h1v1h-1zM29 21h1v1h-1zM11 22h2v1h-2zM24 22h2v1h-2zM27 22h1v1h-1zM42 22h1v1h-1zM49 22h1v1h-1zM55 22h1v1h-1zM58 22h1v1h-1zM64 22h1v1h-1zM5 23h1v1h-1zM17 23h1v1h-1zM19 23h1v1h-1zM22 23h1v1h-1zM44 23h1v1h-1zM49 23h1v1h-1zM53 23h1v1h-1zM57 23h1v1h-1zM59 23h1v1h-1zM5 24h1v1h-1zM8 24h1v1h-1zM5 25h1v1h-1zM27 25h1v1h-1zM44 25h1v1h-1zM49 25h1v1h-1zM55 25h1v1h-1zM65 25h1v1h-1zM1 26h1v1h-1zM28 26h1v1h-1zM32 26h1v1h-1zM40 26h2v1h-2zM48 26h1v1h-1zM67 26h1v1h-1zM70 26h1v1h-1zM73 26h1v1h-1zM11 27h1v1h-1zM31 27h1v1h-1zM35 27h1v1h-1zM73 27h1v1h-1zM43 28h1v1h-1zM45 28h1v1h-1zM58 28h1v1h-1zM65 28h1v1h-1zM19 29h1v1h-1zM22 29h1v1h-1zM24 29h1v1h-1zM42 29h1v1h-1zM70 29h1v1h-1zM11 30h1v1h-1zM19 30h1v1h-1zM24 30h2v1h-2zM31 30h2v1h-2zM37 30h1v1h-1zM42 30h1v1h-1zM55 30h1v1h-1zM74 30h1v1h-1zM2 31h1v1h-1zM4 31h1v1h-1zM12 31h1v1h-1zM17 31h1v1h-1zM19 31h1v1h-1zM30 31h1v1h-1zM42 31h2v1h-2zM55 31h1v1h-1zM4 32h1v1h-1zM6 32h1v1h-1zM28 32h1v1h-1zM31 32h2v1h-2zM44 32h1v1h-1zM66 32h1v1h-1zM12 33h1v1h-1zM74 33h1v1h-1zM1 34h1v1h-1zM30 34h1v1h-1zM42 34h2v1h-2zM45 34h1v1h-1zM47 34h1v1h-1zM62 34h1v1h-1zM65 34h1v1h-1zM1 35h1v1h-1zM6 35h1v1h-1zM32 35h1v1h-1zM37 35h1v1h-1zM54 35h1v1h-1zM68 35h1v1h-1zM4 36h1v1h-1zM10 36h1v1h-1zM19 36h1v1h-1zM22 36h1v1h-1zM27 36h1v1h-1zM38 36h1v1h-1zM42 36h1v1h-1zM73 36h1v1h-1zM19 37h2v1h-2zM24 38h1v1h-1zM34 38h1v1h-1zM41 38h1v1h-1zM44 38h1v1h-1zM58 38h1v1h-1zM68 38h1v1h-1zM47 39h2v1h-2zM58 39h1v1h-1zM18 40h1v1h-1zM22 40h1v1h-1zM27 40h1v1h-1zM45 40h1v1h-1zM54 40h1v1h-1zM57 40h1v1h-1zM62 40h1v1h-1zM10 41h1v1h-1zM17 41h1v1h-1zM35 41h1v1h-1zM40 41h1v1h-1zM59 41h1v1h-1zM12 42h1v1h-1zM17 42h1v1h-1zM25 42h1v1h-1zM36 42h1v1h-1zM73 42h1v1h-1zM1 43h1v1h-1zM5 43h1v1h-1zM19 43h1v1h-1zM25 43h1v1h-1zM27 43h2v1h-2zM55 43h1v1h-1zM58 43h1v1h-1zM63 43h2v1h-2zM67 43h1v1h-1zM70 43h1v1h-1zM73 43h1v1h-1zM8 44h1v1h-1zM10 44h1v1h-1zM27 44h1v1h-1zM52 44h1v1h-1zM59 44h1v1h-1zM68 44h1v1h-1zM12 45h1v1h-1zM22 45h1v1h-1zM31 45h1v1h-1zM35 45h1v1h-1zM38 45h1v1h-1zM43 45h1v1h-1zM57 45h1v1h-1zM8 46h1v1h-1zM22 46h1v1h-1zM29 46h1v1h-1zM40 46h1v1h-1zM55 46h1v1h-1zM63 46h1v1h-1zM5 47h1v1h-1zM15 47h1v1h-1zM35 47h1v1h-1zM37 47h1v1h-1zM47 47h2v1h-2zM58 47h1v1h-1zM68 47h1v1h-1zM19 48h1v1h-1zM44 48h1v1h-1zM49 48h1v1h-1zM59 48h1v1h-1zM62 48h1v1h-1zM73 48h2v1h-2zM18 49h1v1h-1zM23 49h1v1h-1zM37 50h1v1h-1zM6 51h1v1h-1zM11 51h2v1h-2zM15 51h1v1h-1zM17 51h1v1h-1zM21 51h1v1h-1zM24 51h1v1h-1zM38 51h1v1h-1zM43 51h1v1h-1zM55 51h1v1h-1zM58 51h1v1h-1zM2 52h1v1h-1zM23 52h1v1h-1zM32 52h1v1h-1zM34 52h2v1h-2zM41 52h1v1h-1zM44 52h1v1h-1zM49 52h1v1h-1zM4 53h1v1h-1zM15 53h1v1h-1zM31 53h1v1h-1zM57 53h1v1h-1zM64 53h1v1h-1zM49 54h1v1h-1zM19 55h2v1h-2zM29 55h1v1h-1zM38 55h1v1h-1zM44 55h1v1h-1zM53 55h1v1h-1zM57 55h1v1h-1zM20 56h1v1h-1zM23 56h1v1h-1zM42 56h1v1h-1zM64 56h1v1h-1zM67 56h1v1h-1zM70 56h1v1h-1zM73 56h1v1h-1zM4 57h1v1h-1zM39 57h1v1h-1zM62 57h1v1h-1zM56 58h1v1h-1zM10 59h2v1h-2zM31 59h1v1h-1zM34 59h1v1h-1zM56 59h1v1h-1zM60 59h1v1h-1zM17 61h1v1h-1zM27 61h1v1h-1zM49 61h1v1h-1zM57 61h1v1h-1zM1 62h1v1h-1zM17 62h1v1h-1zM20 62h1v1h-1zM32 62h1v1h-1zM38 62h1v1h-1zM48 62h1v1h-1zM64 62h1v1h-1zM66 62h1v1h-1zM5 63h1v1h-1zM35 63h2v1h-2zM38 63h1v1h-1zM41 63h1v1h-1zM43 63h1v1h-1zM4 64h1v1h-1zM10 64h1v1h-1zM27 64h1v1h-1zM40 64h1v1h-1zM52 64h1v1h-1zM59 64h1v1h-1zM62 64h1v1h-1zM42 65h1v1h-1zM44 65h2v1h-2zM58 65h1v1h-1zM2 66h1v1h-1zM6 66h1v1h-1zM27 66h1v1h-1zM45 66h1v1h-1zM64 66h1v1h-1zM5 67h1v1h-1zM18 67h1v1h-1zM41 67h1v1h-1zM4 68h3v1h-3zM24 68h1v1h-1zM27 68h1v1h-1zM36 68h1v1h-1zM44 68h1v1h-1zM56 68h1v1h-1zM70 68h1v1h-1zM11 69h1v1h-1zM20 69h1v1h-1zM25 69h1v1h-1zM40 69h1v1h-1zM48 69h2v1h-2zM53 69h1v1h-1zM58 69h1v1h-1zM60 69h1v1h-1zM73 69h1v1h-1zM5 70h1v1h-1zM11 70h1v1h-1zM17 70h2v1h-2zM23 70h1v1h-1zM57 70h1v1h-1zM59 70h1v1h-1zM1 71h1v1h-1zM6 71h1v1h-1zM18 71h1v1h-1zM49 71h1v1h-1zM54 71h1v1h-1zM59 71h2v1h-2zM67 71h1v1h-1zM72 71h1v1h-1zM74 71h1v1h-1zM6 72h1v1h-1zM32 72h1v1h-1zM8 73h1v1h-1zM15 73h1v1h-1zM17 73h1v1h-1zM20 73h1v1h-1zM27 73h1v1h-1zM29 73h2v1h-2zM67 73h1v1h-1zM73 73h1v1h-1zM1 74h1v1h-1zM4 74h1v1h-1zM24 74h1v1h-1zM27 74h1v1h-1zM44 74h1v1h-1zM49 74h1v1h-1zM53 74h2v1h-2zM1 75h1v1h-1zM12 75h1v1h-1zM31 75h1v1h-1zM40 75h1v1h-1zM43 75h1v1h-1zM45 75h1v1h-1zM2 76h1v1h-1zM28 76h2v1h-2zM39 76h1v1h-1zM48 76h1v1h-1zM53 76h1v1h-1zM57 76h1v1h-1zM73 76h1v1h-1zM1 77h1v1h-1zM21 77h1v1h-1zM23 77h1v1h-1zM27 77h1v1h-1zM29 77h1v1h-1zM56 77h1v1h-1zM70 77h1v1h-1zM72 77h1v1h-1zM22 78h1v1h-1zM27 78h1v1h-1zM29 78h1v1h-1zM31 78h1v1h-1zM34 78h1v1h-1zM41 78h1v1h-1zM74 78h1v1h-1zM11 79h1v1h-1zM38 79h1v1h-1zM65 79h1v1h-1zM8 80h1v1h-1zM44 80h1v1h-1zM70 80h1v1h-1zM28 81h1v1h-1zM31 81h2v1h-2zM40 81h1v1h-1zM48 81h1v1h-1zM70 81h1v1h-1zM4 82h1v1h-1zM8 82h1v1h-1zM10 82h1v1h-1zM20 82h1v1h-1zM22 82h1v1h-1zM27 82h1v1h-1zM36 82h1v1h-1zM74 82h1v1h-1zM52 83h1v1h-1zM1 84h1v1h-1zM5 84h1v1h-1zM8 84h1v1h-1zM10 84h1v1h-1zM39 84h1v1h-1zM43 84h1v1h-1zM59 84h1v1h-1zM66 84h1v1h-1zM4 85h1v1h-1zM10 85h1v1h-1zM20 85h1v1h-1zM41 85h1v1h-1zM48 85h1v1h-1zM56 85h2v1h-2zM25 86h1v1h-1zM28 86h1v1h-1zM43 86h1v1h-1zM53 86h1v1h-1zM74 86h1v1h-1zM23 87h1v1h-1zM25 87h1v1h-1zM30 87h1v1h-1zM36 87h1v1h-1zM38 87h1v1h-1zM55 87h1v1h-1zM62 87h1v1h-1zM74 87h1v1h-1zM2 88h1v1h-1zM15 88h1v1h-1zM20 88h1v1h-1zM35 88h2v1h-2zM38 88h1v1h-1zM44 88h2v1h-2zM17 89h2v1h-2zM29 89h1v1h-1zM38 89h1v1h-1zM56 89h1v1h-1zM68 89h1v1h-1z"/><path fill="#3a548c" d="M15 0h1v1h-1zM18 0h1v1h-1zM24 0h1v1h-1zM56 0h1v1h-1zM21 1h2v1h-2zM25 1h1v1h-1zM34 1h1v1h-1zM42 1h1v1h-1zM17 2h1v1h-1zM29 2h2v1h-2zM49 2h1v1h-1zM55 2h1v1h-1zM59 2h1v1h-1zM65 2h1v1h-1zM72 2h1v1h-1zM6 3h1v1h-1zM17 3h1v1h-1zM23 3h1v1h-1zM35 3h1v1h-1zM41 3h1v1h-1zM67 3h1v1h-1zM72 3h1v1h-1zM36 4h1v1h-1zM41 4h1v1h-1zM55 4h1v1h-1zM20 5h1v1h-1zM28 5h1v1h-1zM32 5h1v1h-1zM34 5h1v1h-1zM54 5h1v1h-1zM59 5h1v1h-1zM62 5h1v1h-1zM2 6h1v1h-1zM18 6h1v1h-1zM35 6h1v1h-1zM41 6h1v1h-1zM56 6h2v1h-2zM68 6h1v1h-1zM2 7h1v1h-1zM31 7h1v1h-1zM37 7h1v1h-1zM41 7h1v1h-1zM58 7h1v1h-1zM4 8h1v1h-1zM54 8h1v1h-1zM64 8h1v1h-1zM74 8h1v1h-1zM19 9h1v1h-1zM39 9h1v1h-1zM1 10h1v1h-1zM25 10h1v1h-1zM45 10h1v1h-1zM49 10h1v1h-1zM65 10h1v1h-1zM72 10h1v1h-1zM74 10h1v1h-1zM1 11h1v1h-1zM8 11h1v1h-1zM11 11h1v1h-1zM22 11h1v1h-1zM45 11h1v1h-1zM48 11h1v1h-1zM67 11h2v1h-2zM19 12h1v1h-1zM43 12h2v1h-2zM55 12h1v1h-1zM60 12h1v1h-1zM66 12h1v1h-1zM2 14h1v1h-1zM5 14h1v1h-1zM8 14h1v1h-1zM20 14h1v1h-1zM25 14h1v1h-1zM28 14h1v1h-1zM38 14h1v1h-1zM43 14h1v1h-1zM60 14h1v1h-1zM64 14h1v1h-1zM39 15h1v1h-1zM2 16h1v1h-1zM11 16h1v1h-1zM34 16h1v1h-1zM43 16h1v1h-1zM52 16h1v1h-1zM55 16h1v1h-1zM73 16h1v1h-1zM4 17h1v1h-1zM24 17h1v1h-1zM60 17h1v1h-1zM67 17h1v1h-1zM73 17h1v1h-1zM15 18h1v1h-1zM19 18h1v1h-1zM44 18h1v1h-1zM48 18h1v1h-1zM55 18h2v1h-2zM63 18h1v1h-1zM11 19h1v1h-1zM21 19h1v1h-1zM30 19h1v1h-1zM49 19h1v1h-1zM65 19h1v1h-1zM73 19h1v1h-1zM2 20h1v1h-1zM10 20h1v1h-1zM17 20h1v1h-1zM28 20h1v1h-1zM37 20h1v1h-1zM41 20h1v1h-1zM52 20h1v1h-1zM28 21h1v1h-1zM31 21h1v1h-1zM39 21h1v1h-1zM41 21h1v1h-1zM43 21h1v1h-1zM38 22h3v1h-3zM62 22h1v1h-1zM68 22h1v1h-1zM73 22h1v1h-1zM1 23h1v1h-1zM35 23h1v1h-1zM58 23h1v1h-1zM74 23h1v1h-1zM12 25h1v1h-1zM21 25h1v1h-1zM23 25h1v1h-1zM64 25h1v1h-1zM5 26h1v1h-1zM21 26h1v1h-1zM38 26h1v1h-1zM49 26h1v1h-1zM66 26h1v1h-1zM10 27h1v1h-1zM28 27h1v1h-1zM36 27h1v1h-1zM38 27h1v1h-1zM17 28h1v1h-1zM23 28h1v1h-1zM27 28h1v1h-1zM32 28h1v1h-1zM39 28h1v1h-1zM59 28h1v1h-1zM5 29h1v1h-1zM32 29h1v1h-1zM37 29h1v1h-1zM43 29h2v1h-2zM47 29h1v1h-1zM56 29h1v1h-1zM27 30h1v1h-1zM30 30h1v1h-1zM43 30h1v1h-1zM53 31h2v1h-2zM74 31h1v1h-1zM21 32h1v1h-1zM49 32h1v1h-1zM54 32h1v1h-1zM60 32h1v1h-1zM63 32h1v1h-1zM68 32h1v1h-1zM23 33h1v1h-1zM27 33h1v1h-1zM49 33h1v1h-1zM54 33h1v1h-1zM57 33h1v1h-1zM8 34h1v1h-1zM17 34h1v1h-1zM35 34h1v1h-1zM41 34h1v1h-1zM60 34h1v1h-1zM31 35h1v1h-1zM34 35h1v1h-1zM38 35h1v1h-1zM49 35h1v1h-1zM53 35h1v1h-1zM58 35h1v1h-1zM63 35h2v1h-2zM8 36h1v1h-1zM12 36h1v1h-1zM17 36h1v1h-1zM20 36h1v1h-1zM30 36h1v1h-1zM39 36h1v1h-1zM68 36h1v1h-1zM70 36h1v1h-1zM5 37h1v1h-1zM21 37h1v1h-1zM23 37h1v1h-1zM25 37h1v1h-1zM28 38h1v1h-1zM35 38h1v1h-1zM42 38h1v1h-1zM47 38h1v1h-1zM56 38h1v1h-1zM65 38h1v1h-1zM72 38h1v1h-1zM15 39h1v1h-1zM27 39h1v1h-1zM32 39h1v1h-1zM70 39h1v1h-1zM21 40h1v1h-1zM35 40h1v1h-1zM67 40h1v1h-1zM31 41h1v1h-1zM39 41h1v1h-1zM58 41h1v1h-1zM70 41h1v1h-1zM74 41h1v1h-1zM22 42h1v1h-1zM44 43h1v1h-1zM49 43h1v1h-1zM53 43h1v1h-1zM62 43h1v1h-1zM65 43h1v1h-1zM29 44h1v1h-1zM44 44h1v1h-1zM49 44h1v1h-1zM56 44h1v1h-1zM58 44h1v1h-1zM65 44h1v1h-1zM5 45h1v1h-1zM10 45h1v1h-1zM36 45h1v1h-1zM48 45h1v1h-1zM55 45h1v1h-1zM65 45h1v1h-1zM72 45h1v1h-1zM1 46h1v1h-1zM18 46h1v1h-1zM23 46h2v1h-2zM28 46h1v1h-1zM65 46h2v1h-2zM17 47h1v1h-1zM31 47h1v1h-1zM45 47h1v1h-1zM5 48h1v1h-1zM47 48h1v1h-1zM64 48h1v1h-1zM70 48h1v1h-1zM2 49h1v1h-1zM27 49h1v1h-1zM37 49h2v1h-2zM41 49h1v1h-1zM67 49h2v1h-2zM73 49h1v1h-1zM10 50h1v1h-1zM21 50h1v1h-1zM23 50h2v1h-2zM28 50h1v1h-1zM59 50h1v1h-1zM22 51h1v1h-1zM25 51h1v1h-1zM37 51h1v1h-1zM40 51h1v1h-1zM42 51h1v1h-1zM44 51h2v1h-2zM54 51h1v1h-1zM8 52h1v1h-1zM18 52h1v1h-1zM31 52h1v1h-1zM37 52h1v1h-1zM45 52h1v1h-1zM53 52h1v1h-1zM42 53h1v1h-1zM63 53h1v1h-1zM31 54h1v1h-1zM39 54h1v1h-1zM48 54h1v1h-1zM1 55h1v1h-1zM5 55h1v1h-1zM24 55h1v1h-1zM28 55h1v1h-1zM36 55h1v1h-1zM62 55h1v1h-1zM1 56h1v1h-1zM22 56h1v1h-1zM34 56h1v1h-1zM12 57h1v1h-1zM17 57h1v1h-1zM21 57h1v1h-1zM30 57h1v1h-1zM32 57h1v1h-1zM37 57h1v1h-1zM42 57h1v1h-1zM37 58h1v1h-1zM39 58h1v1h-1zM62 58h1v1h-1zM70 58h1v1h-1zM27 59h1v1h-1zM38 59h1v1h-1zM57 59h1v1h-1zM63 59h1v1h-1zM12 60h1v1h-1zM49 60h1v1h-1zM4 61h1v1h-1zM24 61h1v1h-1zM28 61h1v1h-1zM30 61h1v1h-1zM32 61h1v1h-1zM39 61h1v1h-1zM42 61h1v1h-1zM45 61h1v1h-1zM56 61h1v1h-1zM68 61h1v1h-1zM74 61h1v1h-1zM8 62h1v1h-1zM24 62h1v1h-1zM52 62h2v1h-2zM63 62h1v1h-1zM70 62h1v1h-1zM73 62h1v1h-1zM11 63h1v1h-1zM37 63h1v1h-1zM49 63h1v1h-1zM52 63h1v1h-1zM55 63h1v1h-1zM67 63h1v1h-1zM72 63h1v1h-1zM74 63h1v1h-1zM5 64h1v1h-1zM21 64h1v1h-1zM28 64h2v1h-2zM38 64h1v1h-1zM41 64h1v1h-1zM58 64h1v1h-1zM70 64h1v1h-1zM5 65h1v1h-1zM28 65h1v1h-1zM41 65h1v1h-1zM34 66h1v1h-1zM53 66h1v1h-1zM59 66h1v1h-1zM63 66h1v1h-1zM67 66h1v1h-1zM1 67h1v1h-1zM22 67h1v1h-1zM38 67h1v1h-1zM47 67h1v1h-1zM74 67h1v1h-1zM15 68h1v1h-1zM32 68h1v1h-1zM35 68h1v1h-1zM45 68h1v1h-1zM59 68h1v1h-1zM17 69h1v1h-1zM24 69h1v1h-1zM41 69h1v1h-1zM59 69h1v1h-1zM15 70h1v1h-1zM20 70h1v1h-1zM44 70h1v1h-1zM47 70h1v1h-1zM63 70h1v1h-1zM73 70h1v1h-1zM21 71h1v1h-1zM40 71h2v1h-2zM63 71h1v1h-1zM25 72h1v1h-1zM54 72h1v1h-1zM4 73h1v1h-1zM6 73h1v1h-1zM38 73h1v1h-1zM34 74h1v1h-1zM38 74h1v1h-1zM42 74h1v1h-1zM4 75h1v1h-1zM17 75h1v1h-1zM22 75h1v1h-1zM37 75h1v1h-1zM57 75h1v1h-1zM72 75h1v1h-1zM1 76h1v1h-1zM22 76h1v1h-1zM55 76h1v1h-1zM62 76h1v1h-1zM4 77h1v1h-1zM17 77h1v1h-1zM55 77h1v1h-1zM74 77h1v1h-1zM52 78h1v1h-1zM60 78h1v1h-1zM65 78h2v1h-2zM54 79h1v1h-1zM11 80h1v1h-1zM34 80h1v1h-1zM49 80h1v1h-1zM58 80h1v1h-1zM60 80h1v1h-1zM63 80h2v1h-2zM67 80h1v1h-1zM10 81h1v1h-1zM19 81h1v1h-1zM35 81h1v1h-1zM37 81h2v1h-2zM67 81h1v1h-1zM62 82h1v1h-1zM68 82h1v1h-1zM8 83h1v1h-1zM31 83h1v1h-1zM35 83h1v1h-1zM6 84h1v1h-1zM29 84h1v1h-1zM44 84h1v1h-1zM49 84h1v1h-1zM70 84h1v1h-1zM17 85h1v1h-1zM24 85h1v1h-1zM34 85h1v1h-1zM60 85h1v1h-1zM64 85h1v1h-1zM10 86h1v1h-1zM35 86h1v1h-1zM48 86h1v1h-1zM70 86h1v1h-1zM5 87h1v1h-1zM10 87h1v1h-1zM24 87h1v1h-1zM66 87h1v1h-1zM8 88h1v1h-1zM11 88h1v1h-1zM22 88h1v1h-1zM34 88h1v1h-1zM39 88h1v1h-1zM63 88h1v1h-1zM70 88h1v1h-1zM5 89h1v1h-1zM12 89h1v1h-1zM35 89h2v1h-2zM42 89h1v1h-1zM47 89h1v1h-1zM55 89h1v1h-1zM59 89h1v1h-1z"/><path fill="#34608d" d="M12 0h1v1h-1zM23 0h1v1h-1zM29 0h1v1h-1zM53 0h1v1h-1zM30 1h1v1h-1zM2 2h1v1h-1zM8 2h1v1h-1zM10 2h1v1h-1zM23 2h1v1h-1zM42 2h1v1h-1zM44 2h1v1h-1zM63 2h2v1h-2zM8 3h1v1h-1zM27 3h1v1h-1zM38 3h1v1h-1zM59 3h1v1h-1zM62 3h1v1h-1zM74 3h1v1h-1zM17 4h1v1h-1zM39 4h1v1h-1zM54 4h1v1h-1zM65 4h1v1h-1zM74 4h1v1h-1zM17 5h2v1h-2zM37 5h1v1h-1zM47 5h1v1h-1zM52 5h1v1h-1zM73 5h2v1h-2zM39 6h2v1h-2zM45 6h1v1h-1zM53 6h1v1h-1zM4 7h1v1h-1zM20 7h1v1h-1zM22 7h1v1h-1zM27 7h1v1h-1zM47 7h1v1h-1zM52 7h1v1h-1zM56 7h1v1h-1zM72 7h1v1h-1zM74 7h1v1h-1zM34 8h2v1h-2zM47 8h1v1h-1zM52 8h1v1h-1zM57 8h1v1h-1zM65 8h3v1h-3zM2 9h1v1h-1zM20 9h1v1h-1zM29 9h1v1h-1zM37 9h1v1h-1zM56 9h1v1h-1zM58 9h1v1h-1zM73 9h1v1h-1zM36 10h1v1h-1zM39 10h1v1h-1zM44 10h1v1h-1zM47 10h1v1h-1zM70 10h1v1h-1zM28 11h1v1h-1zM70 11h1v1h-1zM28 12h2v1h-2zM15 14h1v1h-1zM30 14h1v1h-1zM40 14h1v1h-1zM48 14h1v1h-1zM66 14h2v1h-2zM70 14h1v1h-1zM6 15h1v1h-1zM5 16h1v1h-1zM37 16h1v1h-1zM39 16h1v1h-1zM47 16h1v1h-1zM67 16h1v1h-1zM70 16h1v1h-1zM72 16h1v1h-1zM17 17h1v1h-1zM30 17h1v1h-1zM49 17h1v1h-1zM63 17h2v1h-2zM72 17h1v1h-1zM38 18h1v1h-1zM43 18h1v1h-1zM53 18h1v1h-1zM67 18h1v1h-1zM74 18h1v1h-1zM12 19h1v1h-1zM17 19h1v1h-1zM19 19h1v1h-1zM40 19h2v1h-2zM43 19h1v1h-1zM47 19h1v1h-1zM63 19h2v1h-2zM20 20h1v1h-1zM27 20h1v1h-1zM40 20h1v1h-1zM43 20h1v1h-1zM62 20h1v1h-1zM70 20h1v1h-1zM5 21h1v1h-1zM34 21h2v1h-2zM48 21h1v1h-1zM52 21h1v1h-1zM67 21h1v1h-1zM65 22h3v1h-3zM23 23h1v1h-1zM45 23h1v1h-1zM72 23h1v1h-1zM2 24h1v1h-1zM35 25h1v1h-1zM52 25h1v1h-1zM4 26h1v1h-1zM10 26h1v1h-1zM42 26h1v1h-1zM15 27h1v1h-1zM42 27h1v1h-1zM58 27h1v1h-1zM68 27h1v1h-1zM72 27h1v1h-1zM10 28h1v1h-1zM35 28h1v1h-1zM45 29h1v1h-1zM49 29h1v1h-1zM20 30h1v1h-1zM29 30h1v1h-1zM35 30h1v1h-1zM56 30h1v1h-1zM72 30h1v1h-1zM10 32h1v1h-1zM18 32h1v1h-1zM29 32h1v1h-1zM34 32h1v1h-1zM19 33h1v1h-1zM59 33h1v1h-1zM63 33h1v1h-1zM73 33h1v1h-1zM28 34h1v1h-1zM39 34h1v1h-1zM57 34h1v1h-1zM63 34h1v1h-1zM70 34h1v1h-1zM10 35h1v1h-1zM12 35h1v1h-1zM21 35h1v1h-1zM28 35h1v1h-1zM47 35h1v1h-1zM56 35h1v1h-1zM65 35h1v1h-1zM18 36h1v1h-1zM21 36h1v1h-1zM31 36h1v1h-1zM44 36h1v1h-1zM47 36h2v1h-2zM53 36h1v1h-1zM55 36h1v1h-1zM63 36h1v1h-1zM54 37h1v1h-1zM21 38h1v1h-1zM29 38h1v1h-1zM37 38h1v1h-1zM39 38h1v1h-1zM63 38h1v1h-1zM67 38h1v1h-1zM70 38h1v1h-1zM2 39h1v1h-1zM20 39h1v1h-1zM24 39h1v1h-1zM73 39h1v1h-1zM4 40h1v1h-1zM17 40h1v1h-1zM41 40h1v1h-1zM59 40h1v1h-1zM63 40h1v1h-1zM18 41h1v1h-1zM22 41h1v1h-1zM49 41h1v1h-1zM60 41h1v1h-1zM32 42h1v1h-1zM39 42h1v1h-1zM47 42h1v1h-1zM52 42h1v1h-1zM10 43h1v1h-1zM48 43h1v1h-1zM74 43h1v1h-1zM31 44h1v1h-1zM54 44h1v1h-1zM28 45h1v1h-1zM30 45h1v1h-1zM66 45h1v1h-1zM74 45h1v1h-1zM32 46h1v1h-1zM41 46h1v1h-1zM12 47h1v1h-1zM25 47h1v1h-1zM42 47h1v1h-1zM64 47h1v1h-1zM2 48h1v1h-1zM6 48h1v1h-1zM18 48h1v1h-1zM32 48h1v1h-1zM35 48h1v1h-1zM43 48h1v1h-1zM52 48h1v1h-1zM54 48h1v1h-1zM68 48h1v1h-1zM4 49h1v1h-1zM20 49h1v1h-1zM25 49h1v1h-1zM58 49h1v1h-1zM65 49h1v1h-1zM30 50h1v1h-1zM44 50h1v1h-1zM48 50h1v1h-1zM55 50h1v1h-1zM72 50h1v1h-1zM10 51h1v1h-1zM30 51h1v1h-1zM68 51h1v1h-1zM72 51h1v1h-1zM12 52h1v1h-1zM15 52h1v1h-1zM22 52h1v1h-1zM55 52h1v1h-1zM67 52h1v1h-1zM70 52h1v1h-1zM2 53h1v1h-1zM32 53h1v1h-1zM35 53h1v1h-1zM6 54h1v1h-1zM8 55h1v1h-1zM23 55h1v1h-1zM45 55h1v1h-1zM60 55h1v1h-1zM64 55h1v1h-1zM68 55h1v1h-1zM2 56h1v1h-1zM5 56h1v1h-1zM49 56h1v1h-1zM52 56h1v1h-1zM59 56h1v1h-1zM20 57h1v1h-1zM22 57h1v1h-1zM24 57h1v1h-1zM41 57h1v1h-1zM47 57h1v1h-1zM49 57h1v1h-1zM72 57h1v1h-1zM11 58h1v1h-1zM25 58h1v1h-1zM74 58h1v1h-1zM2 59h1v1h-1zM15 59h1v1h-1zM25 59h1v1h-1zM62 59h1v1h-1zM10 61h1v1h-1zM31 61h1v1h-1zM62 61h1v1h-1zM11 62h1v1h-1zM41 62h1v1h-1zM43 62h1v1h-1zM56 62h1v1h-1zM6 63h1v1h-1zM21 63h1v1h-1zM30 63h1v1h-1zM40 63h1v1h-1zM68 63h1v1h-1zM34 64h1v1h-1zM43 64h2v1h-2zM65 64h1v1h-1zM18 65h1v1h-1zM22 65h2v1h-2zM32 65h1v1h-1zM49 65h1v1h-1zM57 65h1v1h-1zM59 65h1v1h-1zM63 65h1v1h-1zM70 65h1v1h-1zM38 66h1v1h-1zM47 66h1v1h-1zM52 66h1v1h-1zM54 66h1v1h-1zM58 66h1v1h-1zM66 66h1v1h-1zM4 67h1v1h-1zM6 67h1v1h-1zM34 67h1v1h-1zM62 67h1v1h-1zM73 67h1v1h-1zM12 68h1v1h-1zM21 68h1v1h-1zM30 68h1v1h-1zM39 68h1v1h-1zM19 69h1v1h-1zM22 69h1v1h-1zM52 69h1v1h-1zM55 69h2v1h-2zM65 69h1v1h-1zM67 69h1v1h-1zM72 69h1v1h-1zM74 69h1v1h-1zM1 70h1v1h-1zM35 70h1v1h-1zM45 70h1v1h-1zM55 70h1v1h-1zM4 71h1v1h-1zM17 71h1v1h-1zM31 71h1v1h-1zM34 71h1v1h-1zM64 71h1v1h-1zM68 71h1v1h-1zM37 72h1v1h-1zM49 72h1v1h-1zM5 73h1v1h-1zM39 73h1v1h-1zM48 73h1v1h-1zM52 73h1v1h-1zM63 73h1v1h-1zM10 74h2v1h-2zM19 74h1v1h-1zM21 74h1v1h-1zM28 74h1v1h-1zM48 74h1v1h-1zM60 74h1v1h-1zM4 76h1v1h-1zM15 76h1v1h-1zM20 76h1v1h-1zM64 76h1v1h-1zM68 76h1v1h-1zM11 77h1v1h-1zM15 77h1v1h-1zM18 77h1v1h-1zM58 77h1v1h-1zM36 78h1v1h-1zM54 78h1v1h-1zM63 78h1v1h-1zM72 78h1v1h-1zM35 79h1v1h-1zM39 79h1v1h-1zM21 80h2v1h-2zM31 80h1v1h-1zM17 81h1v1h-1zM52 81h1v1h-1zM59 81h1v1h-1zM63 81h1v1h-1zM39 82h1v1h-1zM41 82h1v1h-1zM44 82h2v1h-2zM27 83h1v1h-1zM43 83h1v1h-1zM24 84h1v1h-1zM35 84h1v1h-1zM63 84h1v1h-1zM74 84h1v1h-1zM12 85h1v1h-1zM22 85h1v1h-1zM29 85h1v1h-1zM42 85h1v1h-1zM47 85h1v1h-1zM58 85h1v1h-1zM4 86h1v1h-1zM63 86h1v1h-1zM1 87h1v1h-1zM11 87h2v1h-2zM19 87h1v1h-1zM32 87h1v1h-1zM34 87h1v1h-1zM41 87h1v1h-1zM44 87h1v1h-1zM59 87h1v1h-1zM68 87h1v1h-1zM19 88h1v1h-1zM30 88h1v1h-1zM72 88h1v1h-1zM23 89h1v1h-1zM25 89h1v1h-1zM27 89h1v1h-1zM32 89h1v1h-1zM34 89h1v1h-1zM53 89h1v1h-1zM57 89h1v1h-1zM60 89h1v1h-1zM62 89h1v1h-1z"/><path fill="#2f6c8e" d="M5 0h1v1h-1zM25 0h1v1h-1zM28 0h1v1h-1zM41 0h1v1h-1zM48 0h1v1h-1zM63 0h1v1h-1zM72 0h1v1h-1zM23 1h1v1h-1zM18 2h1v1h-1zM21 2h1v1h-1zM54 2h1v1h-1zM39 3h1v1h-1zM44 3h1v1h-1zM4 4h2v1h-2zM64 4h1v1h-1zM27 5h1v1h-1zM30 5h1v1h-1zM44 5h1v1h-1zM55 5h1v1h-1zM5 6h1v1h-1zM15 7h1v1h-1zM38 7h1v1h-1zM8 8h1v1h-1zM21 8h2v1h-2zM32 8h1v1h-1zM15 9h1v1h-1zM47 9h1v1h-1zM49 9h1v1h-1zM19 10h1v1h-1zM32 10h1v1h-1zM64 10h1v1h-1zM24 11h1v1h-1zM35 11h1v1h-1zM12 12h1v1h-1zM27 12h1v1h-1zM72 12h1v1h-1zM22 14h1v1h-1zM44 14h1v1h-1zM63 14h1v1h-1zM25 15h1v1h-1zM41 15h1v1h-1zM44 15h1v1h-1zM52 15h1v1h-1zM56 15h1v1h-1zM59 15h1v1h-1zM28 16h2v1h-2zM42 16h1v1h-1zM53 16h1v1h-1zM6 17h1v1h-1zM20 17h1v1h-1zM22 17h1v1h-1zM42 17h1v1h-1zM65 17h1v1h-1zM25 18h1v1h-1zM73 18h1v1h-1zM8 19h1v1h-1zM52 19h1v1h-1zM62 19h1v1h-1zM67 19h1v1h-1zM74 19h1v1h-1zM12 20h1v1h-1zM53 20h1v1h-1zM66 20h2v1h-2zM12 21h1v1h-1zM20 21h1v1h-1zM24 21h1v1h-1zM47 21h1v1h-1zM64 21h1v1h-1zM37 22h1v1h-1zM52 22h3v1h-3zM57 22h1v1h-1zM15 23h1v1h-1zM66 23h1v1h-1zM24 24h1v1h-1zM68 24h1v1h-1zM70 24h1v1h-1zM52 26h1v1h-1zM65 26h1v1h-1zM4 27h1v1h-1zM20 27h1v1h-1zM25 27h1v1h-1zM27 27h1v1h-1zM34 27h1v1h-1zM44 27h1v1h-1zM49 27h1v1h-1zM67 27h1v1h-1zM70 27h1v1h-1zM18 28h1v1h-1zM2 29h1v1h-1zM8 29h1v1h-1zM21 29h1v1h-1zM53 29h1v1h-1zM65 29h1v1h-1zM74 29h1v1h-1zM66 30h1v1h-1zM68 30h1v1h-1zM1 31h1v1h-1zM27 31h1v1h-1zM31 31h1v1h-1zM35 31h1v1h-1zM38 31h1v1h-1zM47 31h1v1h-1zM58 31h1v1h-1zM5 32h1v1h-1zM12 32h1v1h-1zM22 32h1v1h-1zM56 32h1v1h-1zM2 33h1v1h-1zM25 33h1v1h-1zM34 33h1v1h-1zM37 33h1v1h-1zM39 33h1v1h-1zM41 33h1v1h-1zM68 33h1v1h-1zM70 33h1v1h-1zM15 34h1v1h-1zM38 34h1v1h-1zM73 34h1v1h-1zM42 35h1v1h-1zM44 35h1v1h-1zM62 35h1v1h-1zM23 36h1v1h-1zM36 36h1v1h-1zM43 36h1v1h-1zM45 36h1v1h-1zM52 36h1v1h-1zM57 36h1v1h-1zM17 37h1v1h-1zM49 37h1v1h-1zM72 37h1v1h-1zM62 38h1v1h-1zM21 39h1v1h-1zM56 39h1v1h-1zM19 40h1v1h-1zM36 40h1v1h-1zM43 40h1v1h-1zM70 40h1v1h-1zM19 41h2v1h-2zM27 41h1v1h-1zM34 41h1v1h-1zM56 41h1v1h-1zM62 41h2v1h-2zM11 42h1v1h-1zM24 42h1v1h-1zM30 42h1v1h-1zM53 42h1v1h-1zM17 43h1v1h-1zM21 43h1v1h-1zM23 43h1v1h-1zM32 43h1v1h-1zM38 43h2v1h-2zM41 43h1v1h-1zM15 44h1v1h-1zM17 44h1v1h-1zM38 44h1v1h-1zM62 44h1v1h-1zM2 45h1v1h-1zM25 45h1v1h-1zM45 46h1v1h-1zM57 46h1v1h-1zM1 47h1v1h-1zM67 47h1v1h-1zM11 48h1v1h-1zM20 48h1v1h-1zM38 48h1v1h-1zM72 48h1v1h-1zM11 49h1v1h-1zM17 49h1v1h-1zM22 49h1v1h-1zM34 49h1v1h-1zM60 49h1v1h-1zM64 49h1v1h-1zM8 50h1v1h-1zM11 50h1v1h-1zM31 50h1v1h-1zM34 50h2v1h-2zM40 50h1v1h-1zM45 50h1v1h-1zM52 50h1v1h-1zM58 50h1v1h-1zM32 51h1v1h-1zM56 51h1v1h-1zM29 52h1v1h-1zM36 52h1v1h-1zM57 52h1v1h-1zM72 52h1v1h-1zM1 53h1v1h-1zM6 53h1v1h-1zM27 53h1v1h-1zM58 53h1v1h-1zM70 53h1v1h-1zM74 53h1v1h-1zM17 54h1v1h-1zM42 54h1v1h-1zM17 55h1v1h-1zM27 55h1v1h-1zM8 56h1v1h-1zM19 56h1v1h-1zM40 56h1v1h-1zM55 56h1v1h-1zM6 57h1v1h-1zM11 57h1v1h-1zM34 57h1v1h-1zM44 57h1v1h-1zM70 57h1v1h-1zM41 58h1v1h-1zM49 58h1v1h-1zM17 59h1v1h-1zM41 59h1v1h-1zM40 60h1v1h-1zM27 62h1v1h-1zM39 62h1v1h-1zM55 62h1v1h-1zM57 62h1v1h-1zM4 63h1v1h-1zM65 63h1v1h-1zM22 64h1v1h-1zM37 64h1v1h-1zM56 64h1v1h-1zM20 65h2v1h-2zM15 66h1v1h-1zM55 66h1v1h-1zM25 67h1v1h-1zM52 67h1v1h-1zM17 68h1v1h-1zM25 68h1v1h-1zM29 68h1v1h-1zM31 68h1v1h-1zM40 68h1v1h-1zM29 69h1v1h-1zM35 69h2v1h-2zM44 69h1v1h-1zM47 69h1v1h-1zM8 70h1v1h-1zM21 70h1v1h-1zM29 70h1v1h-1zM37 70h1v1h-1zM42 70h1v1h-1zM58 70h1v1h-1zM64 70h1v1h-1zM70 70h1v1h-1zM2 71h1v1h-1zM15 71h1v1h-1zM19 71h1v1h-1zM25 71h1v1h-1zM44 71h2v1h-2zM56 71h1v1h-1zM65 71h1v1h-1zM5 72h1v1h-1zM60 72h1v1h-1zM21 73h1v1h-1zM34 73h1v1h-1zM31 74h1v1h-1zM40 74h2v1h-2zM62 74h1v1h-1zM21 75h1v1h-1zM28 75h1v1h-1zM32 75h1v1h-1zM42 75h1v1h-1zM65 75h1v1h-1zM25 76h1v1h-1zM31 76h1v1h-1zM43 76h1v1h-1zM11 78h1v1h-1zM32 78h1v1h-1zM37 78h1v1h-1zM47 78h1v1h-1zM49 78h1v1h-1zM57 78h1v1h-1zM5 79h1v1h-1zM8 79h1v1h-1zM24 79h1v1h-1zM40 79h1v1h-1zM68 79h1v1h-1zM20 80h1v1h-1zM54 80h1v1h-1zM1 81h1v1h-1zM4 81h1v1h-1zM22 81h1v1h-1zM64 81h1v1h-1zM73 81h2v1h-2zM37 82h1v1h-1zM55 82h2v1h-2zM63 82h1v1h-1zM25 83h1v1h-1zM38 83h1v1h-1zM48 83h1v1h-1zM36 84h1v1h-1zM62 84h1v1h-1zM2 85h1v1h-1zM8 85h1v1h-1zM11 85h1v1h-1zM31 85h1v1h-1zM39 85h1v1h-1zM23 86h1v1h-1zM27 86h1v1h-1zM41 86h2v1h-2zM47 86h1v1h-1zM15 87h1v1h-1zM18 87h1v1h-1zM31 87h1v1h-1zM35 87h1v1h-1zM60 87h1v1h-1zM12 88h1v1h-1zM32 88h1v1h-1zM56 88h1v1h-1zM59 88h1v1h-1zM8 89h1v1h-1zM48 89h1v1h-1zM63 89h1v1h-1zM65 89h1v1h-1z"/><path fill="#2a768e" d="M49 0h1v1h-1zM20 1h1v1h-1zM56 1h1v1h-1zM66 1h1v1h-1zM68 1h1v1h-1zM45 2h1v1h-1zM74 2h1v1h-1zM58 3h1v1h-1zM64 3h1v1h-1zM10 4h1v1h-1zM37 4h1v1h-1zM59 4h1v1h-1zM73 4h1v1h-1zM2 5h1v1h-1zM41 5h1v1h-1zM53 5h1v1h-1zM57 5h1v1h-1zM25 7h1v1h-1zM29 7h2v1h-2zM64 7h1v1h-1zM70 7h1v1h-1zM73 7h1v1h-1zM6 8h1v1h-1zM18 9h1v1h-1zM43 9h1v1h-1zM66 9h1v1h-1zM6 10h1v1h-1zM20 10h1v1h-1zM34 10h1v1h-1zM43 10h1v1h-1zM56 10h1v1h-1zM62 10h1v1h-1zM73 10h1v1h-1zM29 11h1v1h-1zM37 11h1v1h-1zM49 11h1v1h-1zM74 11h1v1h-1zM42 12h1v1h-1zM57 12h1v1h-1zM73 12h1v1h-1zM24 13h1v1h-1zM47 14h1v1h-1zM57 14h1v1h-1zM20 15h1v1h-1zM31 15h1v1h-1zM60 15h1v1h-1zM66 15h1v1h-1zM18 16h1v1h-1zM30 16h1v1h-1zM57 16h1v1h-1zM62 16h1v1h-1zM41 17h1v1h-1zM43 17h1v1h-1zM34 18h1v1h-1zM31 19h1v1h-1zM59 19h1v1h-1zM70 19h1v1h-1zM42 20h1v1h-1zM54 20h1v1h-1zM36 21h1v1h-1zM49 21h1v1h-1zM56 22h1v1h-1zM60 22h1v1h-1zM72 22h1v1h-1zM25 23h1v1h-1zM65 23h1v1h-1zM28 24h1v1h-1zM47 24h1v1h-1zM32 25h1v1h-1zM41 25h1v1h-1zM6 26h1v1h-1zM30 26h1v1h-1zM47 26h1v1h-1zM72 26h1v1h-1zM39 27h1v1h-1zM30 29h1v1h-1zM63 29h1v1h-1zM1 30h1v1h-1zM21 30h1v1h-1zM47 30h1v1h-1zM54 30h1v1h-1zM57 30h1v1h-1zM28 31h1v1h-1zM44 31h1v1h-1zM48 31h1v1h-1zM36 32h1v1h-1zM59 32h1v1h-1zM64 32h1v1h-1zM6 33h1v1h-1zM20 33h1v1h-1zM22 33h1v1h-1zM42 33h1v1h-1zM53 33h1v1h-1zM72 33h1v1h-1zM18 34h2v1h-2zM18 35h1v1h-1zM36 35h1v1h-1zM60 35h1v1h-1zM37 36h1v1h-1zM41 36h1v1h-1zM49 36h1v1h-1zM40 37h1v1h-1zM17 38h2v1h-2zM25 38h1v1h-1zM49 38h1v1h-1zM18 39h1v1h-1zM54 39h1v1h-1zM2 40h1v1h-1zM24 40h1v1h-1zM34 40h1v1h-1zM1 41h1v1h-1zM37 41h1v1h-1zM48 41h1v1h-1zM54 41h1v1h-1zM72 41h1v1h-1zM20 42h1v1h-1zM45 42h1v1h-1zM64 42h1v1h-1zM34 43h1v1h-1zM52 43h1v1h-1zM60 43h1v1h-1zM57 44h1v1h-1zM19 45h1v1h-1zM45 45h1v1h-1zM53 45h1v1h-1zM6 46h1v1h-1zM42 46h1v1h-1zM23 47h1v1h-1zM27 47h1v1h-1zM30 47h1v1h-1zM41 47h1v1h-1zM53 47h1v1h-1zM30 48h1v1h-1zM66 48h1v1h-1zM44 49h1v1h-1zM52 49h1v1h-1zM18 50h1v1h-1zM73 50h1v1h-1zM8 51h1v1h-1zM19 51h1v1h-1zM27 51h1v1h-1zM47 51h1v1h-1zM19 52h1v1h-1zM38 52h1v1h-1zM54 52h1v1h-1zM65 52h1v1h-1zM74 52h1v1h-1zM38 53h1v1h-1zM59 53h1v1h-1zM10 54h1v1h-1zM18 54h1v1h-1zM56 54h1v1h-1zM49 55h1v1h-1zM63 55h1v1h-1zM30 56h1v1h-1zM36 56h2v1h-2zM28 57h1v1h-1zM1 58h1v1h-1zM47 58h1v1h-1zM52 58h1v1h-1zM59 58h2v1h-2zM65 58h1v1h-1zM1 59h1v1h-1zM28 59h2v1h-2zM37 59h1v1h-1zM2 60h1v1h-1zM32 60h1v1h-1zM35 60h1v1h-1zM44 60h1v1h-1zM1 61h1v1h-1zM29 61h1v1h-1zM59 61h1v1h-1zM10 62h1v1h-1zM22 62h1v1h-1zM62 62h1v1h-1zM22 63h2v1h-2zM29 63h1v1h-1zM42 64h1v1h-1zM48 64h1v1h-1zM72 64h1v1h-1zM34 65h1v1h-1zM53 65h1v1h-1zM74 65h1v1h-1zM10 66h1v1h-1zM21 66h1v1h-1zM25 66h1v1h-1zM29 66h1v1h-1zM31 66h1v1h-1zM35 66h1v1h-1zM43 66h1v1h-1zM70 66h1v1h-1zM58 67h1v1h-1zM11 68h1v1h-1zM20 68h1v1h-1zM52 68h1v1h-1zM54 68h1v1h-1zM73 68h1v1h-1zM1 69h1v1h-1zM39 69h1v1h-1zM57 69h1v1h-1zM66 69h1v1h-1zM25 70h1v1h-1zM36 70h1v1h-1zM53 70h1v1h-1zM72 70h1v1h-1zM55 71h1v1h-1zM28 73h1v1h-1zM45 73h1v1h-1zM59 73h1v1h-1zM20 74h1v1h-1zM23 74h1v1h-1zM6 75h1v1h-1zM27 76h1v1h-1zM40 77h1v1h-1zM68 77h1v1h-1zM28 78h1v1h-1zM32 79h1v1h-1zM1 80h1v1h-1zM19 80h1v1h-1zM37 80h1v1h-1zM45 80h1v1h-1zM48 80h1v1h-1zM47 81h1v1h-1zM29 82h1v1h-1zM52 82h1v1h-1zM64 82h2v1h-2zM57 84h1v1h-1zM25 85h1v1h-1zM45 85h1v1h-1zM30 86h1v1h-1zM22 87h1v1h-1zM56 87h1v1h-1zM64 87h1v1h-1zM64 88h1v1h-1zM67 88h1v1h-1zM73 88h1v1h-1zM72 89h1v1h-1z"/><path fill="#26818e" d="M39 0h1v1h-1zM47 0h1v1h-1zM58 0h1v1h-1zM17 1h1v1h-1zM41 1h1v1h-1zM59 1h1v1h-1zM6 2h1v1h-1zM25 2h1v1h-1zM22 3h1v1h-1zM31 3h1v1h-1zM1 4h1v1h-1zM11 4h1v1h-1zM40 4h1v1h-1zM48 4h1v1h-1zM60 4h1v1h-1zM8 5h1v1h-1zM49 5h1v1h-1zM15 6h1v1h-1zM29 6h1v1h-1zM32 6h1v1h-1zM47 6h1v1h-1zM10 7h1v1h-1zM21 7h1v1h-1zM68 7h1v1h-1zM17 8h1v1h-1zM55 8h2v1h-2zM11 9h1v1h-1zM32 9h1v1h-1zM44 9h1v1h-1zM55 9h1v1h-1zM60 9h1v1h-1zM48 10h1v1h-1zM58 10h2v1h-2zM19 11h1v1h-1zM30 11h2v1h-2zM38 11h1v1h-1zM59 11h1v1h-1zM15 12h1v1h-1zM39 13h1v1h-1zM6 14h1v1h-1zM17 14h1v1h-1zM34 14h1v1h-1zM27 16h1v1h-1zM21 17h1v1h-1zM52 18h1v1h-1zM59 18h1v1h-1zM29 19h1v1h-1zM45 19h1v1h-1zM24 20h1v1h-1zM38 20h1v1h-1zM45 20h1v1h-1zM8 21h1v1h-1zM40 21h1v1h-1zM36 22h1v1h-1zM43 22h1v1h-1zM48 22h1v1h-1zM59 22h1v1h-1zM70 22h1v1h-1zM47 23h1v1h-1zM6 24h1v1h-1zM25 24h1v1h-1zM29 24h1v1h-1zM32 24h1v1h-1zM40 24h1v1h-1zM10 25h1v1h-1zM40 25h1v1h-1zM47 25h1v1h-1zM72 25h1v1h-1zM18 26h1v1h-1zM37 26h1v1h-1zM17 27h1v1h-1zM40 27h2v1h-2zM63 27h1v1h-1zM2 28h1v1h-1zM19 28h1v1h-1zM49 28h1v1h-1zM56 28h1v1h-1zM15 29h1v1h-1zM28 30h1v1h-1zM45 30h1v1h-1zM53 30h1v1h-1zM22 31h1v1h-1zM19 32h1v1h-1zM40 32h1v1h-1zM53 32h1v1h-1zM67 32h1v1h-1zM17 33h2v1h-2zM31 33h1v1h-1zM21 34h1v1h-1zM24 34h1v1h-1zM55 34h1v1h-1zM72 34h1v1h-1zM74 34h1v1h-1zM11 35h1v1h-1zM19 35h1v1h-1zM74 36h1v1h-1zM12 38h1v1h-1zM27 38h1v1h-1zM53 38h1v1h-1zM66 39h1v1h-1zM1 40h1v1h-1zM6 40h1v1h-1zM20 40h1v1h-1zM25 40h1v1h-1zM15 41h1v1h-1zM64 41h1v1h-1zM19 42h1v1h-1zM29 42h1v1h-1zM70 42h1v1h-1zM11 43h1v1h-1zM45 43h1v1h-1zM72 43h1v1h-1zM1 44h1v1h-1zM32 45h1v1h-1zM58 45h1v1h-1zM67 45h1v1h-1zM73 45h1v1h-1zM15 46h1v1h-1zM19 46h1v1h-1zM48 46h1v1h-1zM58 46h2v1h-2zM64 46h1v1h-1zM34 48h1v1h-1zM49 49h1v1h-1zM66 49h1v1h-1zM2 50h1v1h-1zM12 50h1v1h-1zM18 51h1v1h-1zM34 51h1v1h-1zM74 51h1v1h-1zM42 52h1v1h-1zM58 52h1v1h-1zM39 53h1v1h-1zM25 54h1v1h-1zM27 54h1v1h-1zM36 54h1v1h-1zM22 55h1v1h-1zM32 55h1v1h-1zM37 55h1v1h-1zM24 56h1v1h-1zM60 56h1v1h-1zM1 57h1v1h-1zM29 57h1v1h-1zM38 57h1v1h-1zM43 57h1v1h-1zM66 57h1v1h-1zM68 57h1v1h-1zM27 58h1v1h-1zM38 58h1v1h-1zM58 58h1v1h-1zM22 59h1v1h-1zM32 59h1v1h-1zM54 59h1v1h-1zM58 59h1v1h-1zM38 61h1v1h-1zM15 62h1v1h-1zM45 62h1v1h-1zM44 63h2v1h-2zM53 63h1v1h-1zM60 63h1v1h-1zM70 63h1v1h-1zM8 64h1v1h-1zM45 64h1v1h-1zM64 64h1v1h-1zM62 65h1v1h-1zM56 66h1v1h-1zM30 67h1v1h-1zM36 67h1v1h-1zM49 67h1v1h-1zM59 67h1v1h-1zM34 68h1v1h-1zM37 68h1v1h-1zM64 69h1v1h-1zM34 70h1v1h-1zM56 70h1v1h-1zM11 71h1v1h-1zM53 71h1v1h-1zM28 72h1v1h-1zM19 73h1v1h-1zM40 73h2v1h-2zM47 73h1v1h-1zM54 73h1v1h-1zM5 74h1v1h-1zM30 74h1v1h-1zM32 74h1v1h-1zM36 74h1v1h-1zM41 75h1v1h-1zM8 76h1v1h-1zM44 76h1v1h-1zM49 76h1v1h-1zM19 77h1v1h-1zM36 77h1v1h-1zM41 77h1v1h-1zM38 78h1v1h-1zM40 78h1v1h-1zM62 78h1v1h-1zM25 79h1v1h-1zM49 79h1v1h-1zM56 79h1v1h-1zM23 80h1v1h-1zM74 80h1v1h-1zM45 83h1v1h-1zM28 85h1v1h-1zM53 85h1v1h-1zM73 85h1v1h-1zM52 86h1v1h-1zM20 87h2v1h-2zM29 88h1v1h-1zM2 89h1v1h-1zM39 89h1v1h-1zM43 89h1v1h-1z"/><path fill="#228b8d" d="M8 0h1v1h-1zM34 0h1v1h-1zM42 0h1v1h-1zM66 0h1v1h-1zM24 2h1v1h-1zM57 2h1v1h-1zM15 3h1v1h-1zM25 3h1v1h-1zM15 4h1v1h-1zM42 4h1v1h-1zM45 4h1v1h-1zM25 5h1v1h-1zM58 5h1v1h-1zM42 6h2v1h-2zM27 8h2v1h-2zM37 8h1v1h-1zM48 8h2v1h-2zM62 8h1v1h-1zM12 9h1v1h-1zM12 10h1v1h-1zM37 10h2v1h-2zM57 10h1v1h-1zM32 11h1v1h-1zM44 11h1v1h-1zM56 11h1v1h-1zM1 12h1v1h-1zM48 12h1v1h-1zM64 12h1v1h-1zM6 13h1v1h-1zM47 13h1v1h-1zM18 14h1v1h-1zM52 14h1v1h-1zM59 14h1v1h-1zM41 16h1v1h-1zM56 16h1v1h-1zM68 16h1v1h-1zM32 17h1v1h-1zM19 20h1v1h-1zM29 20h1v1h-1zM18 21h1v1h-1zM21 21h1v1h-1zM37 21h1v1h-1zM54 21h1v1h-1zM59 21h1v1h-1zM65 21h1v1h-1zM2 22h1v1h-1zM8 22h1v1h-1zM29 22h1v1h-1zM36 23h1v1h-1zM39 23h1v1h-1zM38 24h1v1h-1zM8 25h1v1h-1zM17 25h1v1h-1zM38 25h1v1h-1zM67 25h1v1h-1zM36 26h1v1h-1zM45 26h1v1h-1zM23 27h1v1h-1zM45 27h1v1h-1zM21 28h1v1h-1zM72 28h1v1h-1zM49 30h1v1h-1zM25 31h1v1h-1zM36 31h1v1h-1zM72 31h1v1h-1zM27 32h1v1h-1zM30 32h1v1h-1zM48 32h1v1h-1zM58 32h1v1h-1zM4 33h1v1h-1zM32 33h1v1h-1zM20 34h1v1h-1zM58 34h1v1h-1zM45 35h1v1h-1zM29 36h1v1h-1zM74 39h1v1h-1zM28 40h1v1h-1zM38 40h1v1h-1zM66 41h1v1h-1zM68 41h1v1h-1zM20 43h1v1h-1zM11 45h1v1h-1zM24 45h1v1h-1zM29 45h1v1h-1zM37 45h1v1h-1zM37 46h1v1h-1zM54 46h1v1h-1zM56 46h1v1h-1zM62 47h1v1h-1zM12 48h1v1h-1zM23 48h1v1h-1zM27 48h1v1h-1zM29 49h1v1h-1zM42 49h1v1h-1zM72 49h1v1h-1zM56 50h1v1h-1zM67 50h1v1h-1zM31 51h1v1h-1zM17 52h1v1h-1zM20 52h1v1h-1zM39 52h1v1h-1zM29 53h1v1h-1zM20 54h1v1h-1zM43 54h1v1h-1zM57 54h1v1h-1zM2 55h1v1h-1zM41 55h1v1h-1zM54 55h1v1h-1zM65 55h1v1h-1zM73 55h1v1h-1zM4 56h1v1h-1zM28 56h1v1h-1zM43 56h1v1h-1zM48 56h1v1h-1zM27 57h1v1h-1zM36 57h1v1h-1zM57 57h1v1h-1zM21 58h1v1h-1zM48 58h1v1h-1zM23 59h1v1h-1zM45 59h1v1h-1zM73 61h1v1h-1zM31 63h1v1h-1zM1 64h1v1h-1zM15 64h1v1h-1zM73 64h1v1h-1zM37 65h1v1h-1zM5 66h1v1h-1zM57 66h1v1h-1zM27 67h1v1h-1zM56 67h1v1h-1zM67 67h1v1h-1zM8 68h1v1h-1zM62 68h1v1h-1zM12 70h1v1h-1zM19 70h1v1h-1zM31 70h1v1h-1zM67 70h1v1h-1zM5 71h1v1h-1zM10 71h1v1h-1zM37 71h1v1h-1zM42 73h1v1h-1zM17 74h1v1h-1zM29 74h1v1h-1zM63 74h1v1h-1zM65 74h1v1h-1zM39 75h1v1h-1zM56 75h1v1h-1zM5 76h1v1h-1zM20 77h1v1h-1zM24 77h1v1h-1zM30 77h1v1h-1zM1 78h1v1h-1zM42 78h1v1h-1zM55 79h1v1h-1zM29 80h1v1h-1zM36 80h1v1h-1zM23 81h1v1h-1zM36 81h1v1h-1zM57 81h1v1h-1zM65 81h2v1h-2zM21 82h1v1h-1zM23 82h2v1h-2zM73 82h1v1h-1zM6 83h1v1h-1zM6 85h1v1h-1zM32 85h1v1h-1zM38 85h1v1h-1zM74 85h1v1h-1zM6 86h1v1h-1zM11 86h2v1h-2zM17 86h1v1h-1zM73 86h1v1h-1zM4 87h1v1h-1zM45 87h1v1h-1zM37 88h1v1h-1zM41 88h1v1h-1zM28 89h1v1h-1zM45 89h1v1h-1z"/><path fill="#1f958b" d="M60 0h1v1h-1zM1 1h1v1h-1zM29 1h1v1h-1zM27 2h1v1h-1zM73 2h1v1h-1zM1 3h1v1h-1zM45 3h1v1h-1zM47 3h1v1h-1zM22 4h1v1h-1zM48 5h1v1h-1zM72 5h1v1h-1zM12 6h1v1h-1zM36 7h1v1h-1zM45 9h1v1h-1zM54 10h1v1h-1zM30 12h1v1h-1zM52 12h1v1h-1zM54 12h1v1h-1zM11 13h1v1h-1zM20 13h1v1h-1zM42 15h1v1h-1zM44 16h1v1h-1zM56 17h1v1h-1zM11 20h1v1h-1zM60 20h1v1h-1zM64 20h1v1h-1zM22 22h1v1h-1zM44 22h1v1h-1zM28 23h1v1h-1zM67 23h1v1h-1zM44 24h1v1h-1zM24 25h1v1h-1zM73 25h1v1h-1zM59 27h1v1h-1zM74 27h1v1h-1zM31 28h1v1h-1zM47 28h1v1h-1zM53 28h1v1h-1zM35 29h1v1h-1zM67 29h1v1h-1zM12 30h1v1h-1zM11 32h1v1h-1zM70 32h1v1h-1zM10 34h1v1h-1zM27 34h1v1h-1zM20 35h1v1h-1zM41 35h1v1h-1zM10 38h1v1h-1zM66 38h1v1h-1zM28 39h1v1h-1zM45 39h1v1h-1zM5 40h1v1h-1zM73 40h1v1h-1zM32 41h1v1h-1zM36 41h1v1h-1zM38 41h1v1h-1zM67 41h1v1h-1zM31 42h1v1h-1zM72 42h1v1h-1zM68 43h1v1h-1zM45 44h1v1h-1zM1 45h1v1h-1zM23 45h1v1h-1zM42 45h1v1h-1zM5 46h1v1h-1zM36 46h1v1h-1zM47 46h1v1h-1zM53 46h1v1h-1zM20 47h1v1h-1zM65 47h1v1h-1zM15 48h1v1h-1zM42 48h1v1h-1zM55 48h1v1h-1zM47 49h1v1h-1zM55 49h1v1h-1zM74 49h1v1h-1zM19 50h1v1h-1zM27 50h1v1h-1zM48 51h1v1h-1zM63 51h1v1h-1zM73 51h1v1h-1zM63 52h1v1h-1zM45 53h1v1h-1zM2 54h1v1h-1zM37 54h1v1h-1zM39 55h1v1h-1zM21 56h1v1h-1zM60 57h1v1h-1zM4 58h1v1h-1zM15 58h1v1h-1zM36 58h1v1h-1zM43 58h1v1h-1zM8 61h1v1h-1zM23 61h1v1h-1zM4 62h1v1h-1zM67 62h1v1h-1zM2 63h1v1h-1zM36 66h1v1h-1zM39 66h2v1h-2zM48 66h1v1h-1zM21 67h1v1h-1zM60 67h1v1h-1zM64 67h1v1h-1zM43 68h1v1h-1zM43 69h1v1h-1zM54 69h1v1h-1zM63 69h1v1h-1zM53 72h1v1h-1zM32 73h1v1h-1zM2 74h1v1h-1zM18 74h1v1h-1zM25 74h1v1h-1zM59 74h1v1h-1zM40 76h1v1h-1zM37 77h1v1h-1zM45 77h1v1h-1zM20 78h1v1h-1zM31 79h1v1h-1zM73 80h1v1h-1zM12 81h1v1h-1zM72 81h1v1h-1zM2 82h1v1h-1zM34 82h1v1h-1zM60 83h1v1h-1zM11 84h1v1h-1zM15 84h1v1h-1zM17 84h1v1h-1zM20 84h1v1h-1zM21 85h1v1h-1zM44 85h1v1h-1zM47 87h1v1h-1zM21 89h2v1h-2zM41 89h1v1h-1z"/><path fill="#1fa088" d="M4 0h1v1h-1zM4 3h1v1h-1zM20 4h1v1h-1zM21 5h1v1h-1zM35 5h1v1h-1zM64 6h1v1h-1zM48 7h1v1h-1zM29 8h1v1h-1zM41 8h1v1h-1zM45 8h1v1h-1zM68 8h1v1h-1zM28 9h1v1h-1zM38 9h1v1h-1zM70 9h1v1h-1zM45 14h1v1h-1zM11 15h1v1h-1zM21 15h1v1h-1zM32 15h1v1h-1zM47 15h1v1h-1zM12 16h1v1h-1zM15 16h1v1h-1zM48 16h1v1h-1zM59 16h1v1h-1zM12 17h1v1h-1zM36 17h1v1h-1zM38 17h1v1h-1zM59 17h1v1h-1zM22 19h1v1h-1zM21 20h1v1h-1zM11 21h1v1h-1zM10 22h1v1h-1zM28 22h1v1h-1zM23 24h1v1h-1zM27 26h1v1h-1zM35 26h1v1h-1zM52 27h1v1h-1zM64 29h1v1h-1zM48 30h1v1h-1zM41 31h1v1h-1zM49 31h1v1h-1zM24 33h1v1h-1zM15 35h1v1h-1zM15 36h1v1h-1zM62 36h1v1h-1zM28 37h1v1h-1zM57 38h1v1h-1zM49 39h1v1h-1zM60 39h1v1h-1zM15 40h1v1h-1zM58 40h1v1h-1zM37 43h1v1h-1zM18 45h1v1h-1zM49 45h1v1h-1zM63 45h1v1h-1zM2 46h1v1h-1zM1 48h1v1h-1zM56 48h1v1h-1zM45 49h1v1h-1zM48 49h1v1h-1zM49 50h1v1h-1zM70 50h1v1h-1zM52 51h1v1h-1zM21 52h1v1h-1zM68 52h1v1h-1zM47 53h1v1h-1zM8 54h1v1h-1zM45 54h1v1h-1zM58 54h1v1h-1zM56 55h1v1h-1zM70 55h1v1h-1zM29 56h1v1h-1zM32 56h1v1h-1zM68 56h1v1h-1zM72 56h1v1h-1zM23 57h1v1h-1zM40 57h1v1h-1zM55 57h1v1h-1zM63 57h1v1h-1zM24 58h1v1h-1zM4 59h1v1h-1zM64 61h1v1h-1zM6 62h1v1h-1zM72 62h1v1h-1zM58 63h1v1h-1zM47 65h1v1h-1zM23 66h1v1h-1zM32 66h1v1h-1zM28 68h1v1h-1zM38 68h1v1h-1zM60 68h1v1h-1zM65 70h1v1h-1zM68 70h1v1h-1zM28 71h1v1h-1zM22 73h1v1h-1zM66 74h1v1h-1zM57 77h1v1h-1zM17 78h1v1h-1zM45 78h1v1h-1zM73 78h1v1h-1zM45 81h1v1h-1zM28 82h1v1h-1zM38 82h1v1h-1zM43 82h1v1h-1zM59 82h1v1h-1zM24 83h1v1h-1zM21 84h1v1h-1zM27 85h1v1h-1zM49 85h1v1h-1zM65 85h1v1h-1zM20 86h1v1h-1zM43 87h1v1h-1zM48 87h1v1h-1zM62 88h1v1h-1z"/><path fill="#24aa83" d="M18 1h1v1h-1zM19 2h1v1h-1zM19 3h2v1h-2zM30 3h1v1h-1zM37 3h1v1h-1zM57 3h1v1h-1zM29 4h1v1h-1zM32 4h1v1h-1zM38 6h1v1h-1zM5 8h1v1h-1zM22 9h1v1h-1zM30 9h1v1h-1zM64 9h1v1h-1zM67 9h1v1h-1zM21 10h1v1h-1zM27 10h1v1h-1zM41 10h1v1h-1zM67 12h1v1h-1zM18 13h1v1h-1zM18 15h1v1h-1zM42 18h1v1h-1zM37 19h1v1h-1zM23 20h1v1h-1zM27 21h1v1h-1zM5 22h1v1h-1zM18 23h1v1h-1zM21 23h1v1h-1zM41 24h1v1h-1zM62 25h1v1h-1zM64 27h1v1h-1zM67 28h1v1h-1zM29 29h1v1h-1zM68 31h1v1h-1zM25 34h1v1h-1zM72 36h1v1h-1zM22 37h1v1h-1zM40 38h1v1h-1zM43 38h1v1h-1zM64 38h1v1h-1zM21 41h1v1h-1zM65 42h1v1h-1zM22 43h1v1h-1zM21 45h1v1h-1zM21 46h1v1h-1zM72 46h1v1h-1zM74 46h1v1h-1zM41 50h1v1h-1zM74 50h1v1h-1zM25 52h1v1h-1zM15 54h1v1h-1zM19 54h1v1h-1zM23 54h1v1h-1zM47 54h1v1h-1zM10 57h1v1h-1zM34 58h1v1h-1zM8 59h1v1h-1zM17 63h1v1h-1zM47 63h1v1h-1zM59 63h1v1h-1zM64 63h1v1h-1zM55 65h1v1h-1zM60 65h1v1h-1zM42 66h1v1h-1zM32 67h1v1h-1zM63 68h1v1h-1zM66 68h1v1h-1zM24 71h1v1h-1zM27 71h1v1h-1zM32 71h1v1h-1zM11 73h1v1h-1zM53 73h1v1h-1zM6 74h1v1h-1zM66 77h1v1h-1zM10 78h1v1h-1zM18 78h1v1h-1zM67 78h1v1h-1zM2 80h1v1h-1zM54 83h1v1h-1zM67 83h1v1h-1zM18 86h1v1h-1zM54 87h1v1h-1zM54 88h1v1h-1zM49 89h1v1h-1z"/><path fill="#2fb47c" d="M57 0h1v1h-1zM19 1h1v1h-1zM10 3h1v1h-1zM53 3h1v1h-1zM21 4h1v1h-1zM70 5h1v1h-1zM12 7h1v1h-1zM63 7h1v1h-1zM1 8h1v1h-1zM40 8h1v1h-1zM53 8h1v1h-1zM48 9h1v1h-1zM57 11h1v1h-1zM31 13h1v1h-1zM48 13h1v1h-1zM64 16h1v1h-1zM20 19h1v1h-1zM1 22h1v1h-1zM20 22h2v1h-2zM45 22h1v1h-1zM22 24h1v1h-1zM11 25h1v1h-1zM56 26h1v1h-1zM52 29h1v1h-1zM72 29h1v1h-1zM22 30h1v1h-1zM20 32h1v1h-1zM12 34h1v1h-1zM23 35h1v1h-1zM24 36h1v1h-1zM19 38h1v1h-1zM38 38h1v1h-1zM48 38h1v1h-1zM64 39h1v1h-1zM48 40h2v1h-2zM56 40h1v1h-1zM40 43h1v1h-1zM32 44h1v1h-1zM72 44h1v1h-1zM21 47h1v1h-1zM60 48h1v1h-1zM19 49h1v1h-1zM23 51h1v1h-1zM60 52h1v1h-1zM21 53h1v1h-1zM53 53h1v1h-1zM12 54h1v1h-1zM38 54h1v1h-1zM44 56h1v1h-1zM47 56h1v1h-1zM54 56h1v1h-1zM35 57h1v1h-1zM10 58h1v1h-1zM68 58h1v1h-1zM20 61h1v1h-1zM35 61h1v1h-1zM23 62h1v1h-1zM19 64h1v1h-1zM49 64h1v1h-1zM67 64h1v1h-1zM74 64h1v1h-1zM6 65h1v1h-1zM35 67h1v1h-1zM45 67h1v1h-1zM72 68h1v1h-1zM21 69h1v1h-1zM8 72h1v1h-1zM18 72h1v1h-1zM15 74h1v1h-1zM37 74h1v1h-1zM47 75h1v1h-1zM32 76h1v1h-1zM59 76h1v1h-1zM22 77h1v1h-1zM2 78h1v1h-1zM17 80h1v1h-1zM21 81h1v1h-1zM56 84h1v1h-1zM6 88h1v1h-1z"/><path fill="#42be71" d="M20 0h1v1h-1zM30 0h1v1h-1zM45 0h1v1h-1zM55 0h1v1h-1zM5 2h1v1h-1zM22 2h1v1h-1zM56 2h1v1h-1zM21 3h1v1h-1zM29 3h1v1h-1zM52 3h1v1h-1zM68 3h1v1h-1zM73 3h1v1h-1zM2 4h1v1h-1zM8 4h1v1h-1zM18 4h1v1h-1zM23 4h1v1h-1zM27 4h2v1h-2zM30 4h1v1h-1zM49 4h1v1h-1zM66 4h2v1h-2zM72 4h1v1h-1zM60 5h1v1h-1zM17 6h1v1h-1zM20 6h2v1h-2zM24 6h1v1h-1zM28 6h1v1h-1zM52 6h1v1h-1zM32 7h1v1h-1zM49 7h1v1h-1zM20 8h1v1h-1zM23 8h1v1h-1zM38 8h1v1h-1zM42 8h1v1h-1zM44 8h1v1h-1zM21 9h1v1h-1zM31 9h1v1h-1zM62 9h2v1h-2zM5 10h1v1h-1zM8 10h1v1h-1zM17 10h2v1h-2zM23 10h1v1h-1zM29 10h1v1h-1zM40 10h1v1h-1zM60 10h1v1h-1zM21 11h1v1h-1zM8 12h1v1h-1zM21 12h2v1h-2zM56 12h1v1h-1zM4 13h1v1h-1zM19 13h1v1h-1zM21 13h1v1h-1zM29 13h2v1h-2zM32 13h1v1h-1zM40 13h1v1h-1zM52 13h1v1h-1zM60 13h1v1h-1zM66 13h1v1h-1zM1 14h1v1h-1zM21 14h1v1h-1zM27 14h1v1h-1zM29 14h1v1h-1zM53 14h1v1h-1zM4 15h1v1h-1zM19 15h1v1h-1zM36 15h1v1h-1zM38 15h1v1h-1zM17 16h1v1h-1zM38 16h1v1h-1zM65 16h2v1h-2zM1 18h1v1h-1zM18 18h1v1h-1zM21 18h2v1h-2zM29 18h1v1h-1zM65 18h1v1h-1zM23 19h1v1h-1zM32 19h1v1h-1zM55 19h3v1h-3zM60 19h1v1h-1zM1 20h1v1h-1zM47 20h1v1h-1zM1 21h1v1h-1zM22 21h2v1h-2zM32 21h1v1h-1zM42 21h1v1h-1zM45 21h1v1h-1zM53 21h1v1h-1zM56 21h1v1h-1zM60 21h1v1h-1zM18 22h1v1h-1zM23 22h1v1h-1zM42 23h1v1h-1zM60 23h1v1h-1zM18 24h1v1h-1zM20 24h2v1h-2zM27 24h1v1h-1zM30 24h1v1h-1zM35 24h1v1h-1zM39 24h1v1h-1zM45 24h1v1h-1zM48 24h2v1h-2zM18 25h3v1h-3zM22 25h1v1h-1zM28 25h1v1h-1zM30 25h1v1h-1zM34 25h1v1h-1zM19 26h1v1h-1zM59 26h1v1h-1zM18 27h2v1h-2zM22 27h1v1h-1zM43 27h1v1h-1zM22 28h1v1h-1zM64 28h1v1h-1zM73 28h1v1h-1zM1 29h1v1h-1zM11 29h1v1h-1zM48 29h1v1h-1zM60 29h1v1h-1zM62 29h1v1h-1zM73 29h1v1h-1zM2 30h1v1h-1zM17 30h1v1h-1zM73 30h1v1h-1zM18 31h1v1h-1zM21 31h1v1h-1zM23 31h1v1h-1zM32 31h1v1h-1zM34 31h1v1h-1zM55 32h1v1h-1zM62 32h1v1h-1zM72 32h1v1h-1zM11 33h1v1h-1zM28 33h1v1h-1zM30 33h1v1h-1zM48 33h1v1h-1zM4 34h1v1h-1zM29 34h1v1h-1zM56 34h1v1h-1zM22 35h1v1h-1zM29 35h2v1h-2zM40 35h1v1h-1zM48 35h1v1h-1zM52 35h1v1h-1zM70 35h1v1h-1zM72 35h1v1h-1zM54 36h1v1h-1zM18 37h1v1h-1zM32 37h1v1h-1zM45 37h1v1h-1zM53 37h1v1h-1zM15 38h1v1h-1zM20 38h1v1h-1zM23 38h1v1h-1zM60 38h1v1h-1zM17 39h1v1h-1zM29 39h1v1h-1zM12 40h1v1h-1zM23 40h1v1h-1zM29 40h2v1h-2zM40 40h1v1h-1zM47 40h1v1h-1zM55 40h1v1h-1zM64 40h1v1h-1zM12 41h1v1h-1zM23 41h2v1h-2zM42 41h1v1h-1zM53 41h1v1h-1zM57 41h1v1h-1zM21 42h1v1h-1zM23 42h1v1h-1zM56 42h1v1h-1zM15 43h1v1h-1zM24 43h1v1h-1zM30 43h1v1h-1zM36 43h1v1h-1zM42 43h1v1h-1zM47 43h1v1h-1zM54 43h1v1h-1zM35 44h2v1h-2zM43 44h1v1h-1zM53 44h1v1h-1zM20 45h1v1h-1zM60 45h1v1h-1zM68 45h1v1h-1zM4 46h1v1h-1zM27 46h1v1h-1zM30 46h2v1h-2zM43 46h1v1h-1zM68 46h1v1h-1zM73 46h1v1h-1zM17 48h1v1h-1zM29 48h1v1h-1zM53 48h1v1h-1zM65 48h1v1h-1zM67 48h1v1h-1zM21 49h1v1h-1zM53 49h1v1h-1zM59 49h1v1h-1zM20 50h1v1h-1zM22 50h1v1h-1zM29 50h1v1h-1zM47 50h1v1h-1zM54 50h1v1h-1zM60 50h1v1h-1zM68 50h1v1h-1zM29 51h1v1h-1zM1 52h1v1h-1zM30 52h1v1h-1zM48 52h1v1h-1zM56 52h1v1h-1zM59 52h1v1h-1zM64 52h1v1h-1zM66 52h1v1h-1zM48 53h1v1h-1zM65 53h1v1h-1zM72 53h1v1h-1zM21 54h2v1h-2zM24 54h1v1h-1zM29 54h1v1h-1zM32 54h1v1h-1zM34 54h2v1h-2zM41 54h1v1h-1zM44 54h1v1h-1zM10 55h1v1h-1zM6 56h1v1h-1zM15 56h1v1h-1zM18 56h1v1h-1zM27 56h1v1h-1zM41 56h1v1h-1zM45 56h1v1h-1zM56 56h1v1h-1zM65 56h1v1h-1zM74 56h1v1h-1zM18 57h2v1h-2zM45 57h1v1h-1zM48 57h1v1h-1zM56 57h1v1h-1zM64 57h1v1h-1zM73 57h2v1h-2zM8 58h1v1h-1zM12 58h1v1h-1zM17 58h4v1h-4zM22 58h2v1h-2zM28 58h2v1h-2zM32 58h1v1h-1zM44 58h2v1h-2zM54 58h1v1h-1zM63 58h1v1h-1zM66 58h1v1h-1zM72 58h2v1h-2zM19 59h1v1h-1zM21 59h1v1h-1zM36 59h1v1h-1zM40 59h1v1h-1zM49 59h1v1h-1zM59 59h1v1h-1zM64 59h1v1h-1zM70 59h1v1h-1zM72 59h1v1h-1zM6 60h1v1h-1zM15 60h1v1h-1zM23 60h1v1h-1zM25 60h1v1h-1zM28 60h2v1h-2zM11 61h1v1h-1zM15 61h1v1h-1zM19 61h1v1h-1zM21 61h2v1h-2zM25 61h1v1h-1zM41 61h1v1h-1zM55 61h1v1h-1zM60 61h1v1h-1zM70 61h1v1h-1zM12 62h1v1h-1zM18 62h1v1h-1zM21 62h1v1h-1zM29 62h1v1h-1zM54 62h1v1h-1zM60 62h1v1h-1zM65 62h1v1h-1zM15 63h1v1h-1zM18 63h1v1h-1zM25 63h1v1h-1zM27 63h1v1h-1zM32 63h1v1h-1zM42 63h1v1h-1zM63 63h1v1h-1zM66 63h1v1h-1zM73 63h1v1h-1zM6 64h1v1h-1zM23 64h1v1h-1zM31 64h2v1h-2zM35 64h1v1h-1zM47 64h1v1h-1zM54 64h1v1h-1zM57 64h1v1h-1zM68 64h1v1h-1zM25 65h1v1h-1zM39 65h1v1h-1zM67 65h1v1h-1zM18 66h3v1h-3zM44 66h1v1h-1zM29 67h1v1h-1zM43 67h1v1h-1zM1 68h1v1h-1zM23 68h1v1h-1zM47 68h2v1h-2zM53 68h1v1h-1zM55 68h1v1h-1zM57 68h1v1h-1zM18 69h1v1h-1zM37 69h1v1h-1zM32 70h1v1h-1zM54 70h1v1h-1zM60 70h1v1h-1zM12 71h1v1h-1zM20 71h1v1h-1zM22 71h2v1h-2zM42 71h1v1h-1zM48 71h1v1h-1zM52 71h1v1h-1zM11 72h1v1h-1zM29 72h2v1h-2zM34 72h1v1h-1zM45 72h1v1h-1zM47 72h1v1h-1zM52 72h1v1h-1zM43 73h1v1h-1zM56 73h1v1h-1zM58 73h1v1h-1zM22 74h1v1h-1zM35 74h1v1h-1zM45 74h1v1h-1zM47 74h1v1h-1zM64 74h1v1h-1zM67 74h1v1h-1zM70 74h1v1h-1zM72 74h1v1h-1zM74 74h1v1h-1zM10 75h1v1h-1zM53 75h1v1h-1zM59 75h1v1h-1zM21 76h1v1h-1zM54 76h1v1h-1zM48 77h1v1h-1zM63 77h1v1h-1zM15 78h1v1h-1zM21 78h1v1h-1zM23 78h2v1h-2zM30 78h1v1h-1zM35 78h1v1h-1zM44 78h1v1h-1zM53 78h1v1h-1zM56 78h1v1h-1zM58 78h2v1h-2zM6 79h1v1h-1zM18 79h2v1h-2zM29 79h2v1h-2zM41 79h1v1h-1zM44 79h2v1h-2zM47 79h1v1h-1zM60 79h1v1h-1zM68 80h1v1h-1zM58 81h1v1h-1zM12 82h1v1h-1zM17 82h2v1h-2zM32 82h1v1h-1zM60 82h1v1h-1zM72 82h1v1h-1zM18 83h1v1h-1zM28 83h2v1h-2zM32 83h1v1h-1zM39 83h1v1h-1zM47 83h1v1h-1zM18 84h1v1h-1zM30 84h1v1h-1zM23 85h1v1h-1zM63 85h1v1h-1zM67 85h1v1h-1zM70 85h1v1h-1zM21 86h1v1h-1zM44 86h1v1h-1zM59 86h1v1h-1zM62 86h1v1h-1zM28 87h1v1h-1zM42 87h1v1h-1zM57 87h1v1h-1zM73 87h1v1h-1zM1 88h1v1h-1zM18 88h1v1h-1zM28 88h1v1h-1zM53 88h1v1h-1zM74 88h1v1h-1zM11 89h1v1h-1zM19 89h1v1h-1z"/><path fill="#58c765" d="M1 0h1v1h-1zM10 0h1v1h-1zM17 0h1v1h-1zM66 2h1v1h-1zM60 8h1v1h-1zM4 9h3v1h-3zM30 10h1v1h-1zM66 11h1v1h-1zM15 13h1v1h-1zM38 13h1v1h-1zM70 13h1v1h-1zM2 15h1v1h-1zM12 15h1v1h-1zM15 15h1v1h-1zM40 15h1v1h-1zM70 15h1v1h-1zM73 15h2v1h-2zM19 16h1v1h-1zM1 17h1v1h-1zM15 17h1v1h-1zM53 17h1v1h-1zM44 20h1v1h-1zM15 21h1v1h-1zM44 21h1v1h-1zM11 23h2v1h-2zM41 23h1v1h-1zM11 24h2v1h-2zM17 24h1v1h-1zM67 24h1v1h-1zM56 25h3v1h-3zM57 27h1v1h-1zM4 28h1v1h-1zM8 30h1v1h-1zM15 30h1v1h-1zM8 31h1v1h-1zM15 31h1v1h-1zM57 31h1v1h-1zM8 32h1v1h-1zM15 32h1v1h-1zM42 32h2v1h-2zM57 32h1v1h-1zM8 33h1v1h-1zM15 33h1v1h-1zM57 35h1v1h-1zM52 37h1v1h-1zM67 37h2v1h-2zM1 38h1v1h-1zM4 38h2v1h-2zM8 38h1v1h-1zM1 39h1v1h-1zM4 39h2v1h-2zM8 39h1v1h-1zM72 39h1v1h-1zM66 40h1v1h-1zM72 40h1v1h-1zM57 43h1v1h-1zM20 44h4v1h-4zM52 45h1v1h-1zM52 46h1v1h-1zM10 47h1v1h-1zM28 48h1v1h-1zM57 48h1v1h-1zM1 49h1v1h-1zM15 49h1v1h-1zM28 49h1v1h-1zM54 49h1v1h-1zM57 49h1v1h-1zM1 50h1v1h-1zM15 50h1v1h-1zM57 50h1v1h-1zM66 50h1v1h-1zM68 53h1v1h-1zM1 54h1v1h-1zM4 54h2v1h-2zM11 54h1v1h-1zM52 54h4v1h-4zM62 54h7v1h-7zM70 54h1v1h-1zM72 54h2v1h-2zM54 57h1v1h-1zM5 58h2v1h-2zM5 59h2v1h-2zM66 59h1v1h-1zM11 60h1v1h-1zM18 60h5v1h-5zM24 60h1v1h-1zM27 60h1v1h-1zM38 60h2v1h-2zM41 60h3v1h-3zM45 60h1v1h-1zM54 60h6v1h-6zM62 60h1v1h-1zM64 60h3v1h-3zM68 60h1v1h-1zM70 60h1v1h-1zM72 60h3v1h-3zM57 63h1v1h-1zM60 64h1v1h-1zM66 64h1v1h-1zM1 65h1v1h-1zM11 65h2v1h-2zM40 65h1v1h-1zM1 66h1v1h-1zM11 66h2v1h-2zM68 66h1v1h-1zM53 67h1v1h-1zM57 67h1v1h-1zM41 68h2v1h-2zM2 72h1v1h-1zM12 72h1v1h-1zM17 72h1v1h-1zM20 72h5v1h-5zM27 72h1v1h-1zM31 72h1v1h-1zM38 72h2v1h-2zM44 72h1v1h-1zM55 72h2v1h-2zM58 72h2v1h-2zM62 72h7v1h-7zM70 72h1v1h-1zM72 72h3v1h-3zM57 74h1v1h-1zM29 75h2v1h-2zM60 75h1v1h-1zM66 75h1v1h-1zM68 75h1v1h-1zM68 78h1v1h-1zM2 79h1v1h-1zM12 79h1v1h-1zM15 79h1v1h-1zM20 79h4v1h-4zM52 79h2v1h-2zM58 79h2v1h-2zM66 79h2v1h-2zM70 79h1v1h-1zM5 81h2v1h-2zM5 82h2v1h-2zM2 83h1v1h-1zM5 83h1v1h-1zM20 83h4v1h-4zM55 83h2v1h-2zM62 83h5v1h-5zM68 83h1v1h-1zM70 83h1v1h-1zM52 85h1v1h-1zM66 85h1v1h-1zM57 88h1v1h-1zM60 88h1v1h-1zM10 89h1v1h-1z"/><path fill="#70cf57" d="M62 15h4v1h-4zM52 31h1v1h-1zM52 32h1v1h-1zM24 37h1v1h-1zM38 37h2v1h-2zM44 37h1v1h-1zM47 37h2v1h-2z"/><path fill="#a8db34" d="M52 1h1v1h-1zM24 3h1v1h-1zM53 4h1v1h-1zM72 8h1v1h-1zM72 9h1v1h-1zM22 15h2v1h-2zM28 15h2v1h-2zM53 15h1v1h-1zM29 25h1v1h-1zM70 37h1v1h-1zM40 39h1v1h-1zM52 39h2v1h-2zM52 40h2v1h-2zM43 43h1v1h-1zM44 45h1v1h-1zM60 54h1v1h-1zM40 61h1v1h-1zM52 61h2v1h-2zM72 66h1v1h-1zM15 67h1v1h-1zM43 70h1v1h-1zM10 72h1v1h-1zM57 72h1v1h-1zM10 79h1v1h-1zM5 80h2v1h-2zM53 81h1v1h-1zM53 82h1v1h-1zM72 83h3v1h-3z"/><path fill="#c5e021" d="M52 24h2v1h-2zM55 24h2v1h-2zM58 24h2v1h-2zM62 24h1v1h-1zM65 24h2v1h-2zM72 24h3v1h-3zM52 60h2v1h-2zM10 83h3v1h-3z"/><path fill="#fde725" d="M54 0h1v1h-1zM15 1h1v1h-1zM31 1h1v1h-1zM40 1h1v1h-1zM43 1h1v1h-1zM54 1h1v1h-1zM40 2h1v1h-1zM5 3h1v1h-1zM18 3h1v1h-1zM42 3h1v1h-1zM48 3h2v1h-2zM54 3h1v1h-1zM60 3h1v1h-1zM19 4h1v1h-1zM35 4h1v1h-1zM43 4h1v1h-1zM68 4h1v1h-1zM1 6h1v1h-1zM4 6h1v1h-1zM10 6h2v1h-2zM30 6h2v1h-2zM49 6h1v1h-1zM60 6h1v1h-1zM42 7h2v1h-2zM53 7h1v1h-1zM18 8h2v1h-2zM30 8h1v1h-1zM8 9h1v1h-1zM34 9h1v1h-1zM52 9h1v1h-1zM57 9h1v1h-1zM68 9h1v1h-1zM28 10h1v1h-1zM68 10h1v1h-1zM42 11h2v1h-2zM52 11h3v1h-3zM1 13h2v1h-2zM5 13h1v1h-1zM8 13h1v1h-1zM10 13h1v1h-1zM12 13h1v1h-1zM17 13h1v1h-1zM22 13h2v1h-2zM27 13h2v1h-2zM34 13h4v1h-4zM41 13h5v1h-5zM49 13h1v1h-1zM53 13h7v1h-7zM62 13h4v1h-4zM67 13h2v1h-2zM72 13h3v1h-3zM19 14h1v1h-1zM32 14h1v1h-1zM1 15h1v1h-1zM8 15h1v1h-1zM10 15h1v1h-1zM17 15h1v1h-1zM30 15h1v1h-1zM34 15h1v1h-1zM37 15h1v1h-1zM43 15h1v1h-1zM49 15h1v1h-1zM57 15h2v1h-2zM68 15h1v1h-1zM72 15h1v1h-1zM28 17h1v1h-1zM40 17h1v1h-1zM52 17h1v1h-1zM8 18h1v1h-1zM28 18h1v1h-1zM28 19h1v1h-1zM42 19h1v1h-1zM44 19h1v1h-1zM53 19h1v1h-1zM8 20h1v1h-1zM30 20h1v1h-1zM57 20h1v1h-1zM30 21h1v1h-1zM57 21h1v1h-1zM4 22h1v1h-1zM6 22h1v1h-1zM19 22h1v1h-1zM30 22h1v1h-1zM24 23h1v1h-1zM30 23h1v1h-1zM40 23h1v1h-1zM52 23h1v1h-1zM54 23h1v1h-1zM68 23h1v1h-1zM1 24h1v1h-1zM4 24h1v1h-1zM10 24h1v1h-1zM15 24h1v1h-1zM31 24h1v1h-1zM34 24h1v1h-1zM36 24h2v1h-2zM42 24h2v1h-2zM54 24h1v1h-1zM57 24h1v1h-1zM60 24h1v1h-1zM63 24h2v1h-2zM1 25h1v1h-1zM4 25h1v1h-1zM15 25h1v1h-1zM31 25h1v1h-1zM36 25h2v1h-2zM42 25h2v1h-2zM53 25h2v1h-2zM66 25h1v1h-1zM68 25h1v1h-1zM6 27h1v1h-1zM8 27h1v1h-1zM24 27h1v1h-1zM30 27h1v1h-1zM11 28h1v1h-1zM30 28h1v1h-1zM40 28h1v1h-1zM42 28h1v1h-1zM52 28h1v1h-1zM54 28h1v1h-1zM66 28h1v1h-1zM68 28h1v1h-1zM40 30h1v1h-1zM52 30h1v1h-1zM40 34h1v1h-1zM52 34h1v1h-1zM1 37h2v1h-2zM4 37h1v1h-1zM6 37h1v1h-1zM10 37h3v1h-3zM15 37h1v1h-1zM27 37h1v1h-1zM29 37h3v1h-3zM34 37h4v1h-4zM41 37h3v1h-3zM55 37h6v1h-6zM62 37h5v1h-5zM73 37h2v1h-2zM54 38h1v1h-1zM30 39h2v1h-2zM42 39h2v1h-2zM57 39h1v1h-1zM43 41h1v1h-1zM8 42h1v1h-1zM8 43h1v1h-1zM4 44h1v1h-1zM11 44h1v1h-1zM18 44h2v1h-2zM30 44h1v1h-1zM40 44h1v1h-1zM42 44h1v1h-1zM60 44h1v1h-1zM15 45h1v1h-1zM17 45h1v1h-1zM40 45h1v1h-1zM17 46h1v1h-1zM34 46h1v1h-1zM8 47h1v1h-1zM40 47h1v1h-1zM52 47h1v1h-1zM31 48h1v1h-1zM31 49h1v1h-1zM36 49h1v1h-1zM42 50h2v1h-2zM40 52h1v1h-1zM52 52h1v1h-1zM17 53h1v1h-1zM19 53h1v1h-1zM24 53h1v1h-1zM54 53h1v1h-1zM66 53h1v1h-1zM28 54h1v1h-1zM30 54h1v1h-1zM30 55h1v1h-1zM40 55h1v1h-1zM43 55h1v1h-1zM52 55h1v1h-1zM17 56h1v1h-1zM15 57h1v1h-1zM31 58h1v1h-1zM40 58h1v1h-1zM18 59h1v1h-1zM42 59h2v1h-2zM47 59h2v1h-2zM52 59h2v1h-2zM68 59h1v1h-1zM1 60h1v1h-1zM5 60h1v1h-1zM8 60h1v1h-1zM10 60h1v1h-1zM17 60h1v1h-1zM30 60h1v1h-1zM34 60h1v1h-1zM36 60h2v1h-2zM47 60h2v1h-2zM60 60h1v1h-1zM63 60h1v1h-1zM67 60h1v1h-1zM18 61h1v1h-1zM47 61h2v1h-2zM18 64h1v1h-1zM30 64h1v1h-1zM53 64h1v1h-1zM19 65h1v1h-1zM24 65h1v1h-1zM31 65h1v1h-1zM35 65h1v1h-1zM43 65h1v1h-1zM48 65h1v1h-1zM54 65h1v1h-1zM66 65h1v1h-1zM68 65h1v1h-1zM30 66h1v1h-1zM60 66h1v1h-1zM24 67h1v1h-1zM31 67h1v1h-1zM40 67h1v1h-1zM42 67h1v1h-1zM54 67h1v1h-1zM19 68h1v1h-1zM30 69h1v1h-1zM30 70h1v1h-1zM40 70h1v1h-1zM52 70h1v1h-1zM30 71h1v1h-1zM1 72h1v1h-1zM4 72h1v1h-1zM15 72h1v1h-1zM19 72h1v1h-1zM35 72h2v1h-2zM41 72h3v1h-3zM8 74h1v1h-1zM5 75h1v1h-1zM15 75h1v1h-1zM23 75h2v1h-2zM52 75h1v1h-1zM54 75h1v1h-1zM17 76h1v1h-1zM52 76h1v1h-1zM42 77h2v1h-2zM52 77h1v1h-1zM19 78h1v1h-1zM1 79h1v1h-1zM4 79h1v1h-1zM27 79h2v1h-2zM36 79h2v1h-2zM42 79h2v1h-2zM57 79h1v1h-1zM62 79h3v1h-3zM72 79h3v1h-3zM18 80h1v1h-1zM27 80h2v1h-2zM40 80h1v1h-1zM42 80h2v1h-2zM53 80h1v1h-1zM42 81h3v1h-3zM15 82h1v1h-1zM19 82h1v1h-1zM30 82h2v1h-2zM54 82h1v1h-1zM1 83h1v1h-1zM4 83h1v1h-1zM15 83h1v1h-1zM17 83h1v1h-1zM19 83h1v1h-1zM34 83h1v1h-1zM36 83h2v1h-2zM41 83h2v1h-2zM53 83h1v1h-1zM57 83h1v1h-1zM19 84h1v1h-1zM28 84h1v1h-1zM31 84h1v1h-1zM41 84h2v1h-2zM53 84h1v1h-1zM60 84h1v1h-1zM15 85h1v1h-1zM19 85h1v1h-1zM30 85h1v1h-1zM40 85h1v1h-1zM43 85h1v1h-1zM54 85h1v1h-1zM68 85h1v1h-1zM8 86h1v1h-1zM19 86h1v1h-1zM17 87h1v1h-1zM17 88h1v1h-1zM23 88h2v1h-2zM31 88h1v1h-1zM40 88h1v1h-1zM66 88h1v1h-1zM68 88h1v1h-1zM15 89h1v1h-1zM31 89h1v1h-1z"/></svg></div>
<canvas id="cr" class="a" width="300" height="360" style="left:406.30px;top:172.00px;width:280.70px;height:336.70px"></canvas>
<div class="a" style="left:495.2px;top:170.0px;width:192.8px;height:0.95px;background:#46546a"></div>
<div class="a" style="left:406.00px;top:171.0px;width:282.00px;height:1.0px;background:#6a7282"></div>
<div class="a" style="left:687.0px;top:170.0px;width:1.0px;height:338.70px;background:#14142a"></div>
<div class="a" style="left:688.0px;top:482.9px;width:1.8px;height:25.3px;background:#2277cc"></div>
<script>(function(){var P=["#440154", "#471164", "#482071", "#472e7c", "#443b84", "#3f4889", "#3a548c", "#34608d", "#2f6c8e", "#2a768e", "#26818e", "#228b8d", "#1f958b", "#1fa088", "#24aa83", "#2fb47c", "#42be71", "#58c765", "#70cf57", "#8bd646", "#a8db34", "#c5e021", "#e2e418", "#fde725"];var S=4;function d(id,s){var c=document.getElementById(id);if(!c||!c.getContext)return;var x=c.getContext("2d");var R=s.split("|");for(var r=0;r<R.length;r++){var w=R[r];for(var k=0;k<w.length;k++){x.fillStyle=P[w.charCodeAt(k)-65];x.fillRect(k*S,r*S,S,S);}}}d("cl","NNNDDAAEHDAFFAAXIDEBFFGGDCAPFCFCPXHKAILAADHGGIDAFDDMIAHECAAFDFBCDAPRPECHDAD|OECGDAAIGEAMMAAPMFEFLFPDIFAPHDKFCFHNAJKAADKIXEPAHICHEACOCAAFHEEPDAGLDDJIIAD|PEDXDAACJNABGAAGPMFDJIPIFLAKDEEBNXFPAXSAAGPNUCKAUGDCHAHIDAAJISSPFAIHGGHMBAD|PBFDDAAFHDAEGAARRICBPJPGEDANECFCGDCHACIAAFEDFCLAEEBDHADFEAADGFCILAEKCECPDAC|CHLDEAAENCAKCAARREBCEGEJDFAGJFEQLJEIADDAABKHHJFAJEDCKAECDAAICECCIAFKECDIDAE|DDFCCAAEGCARGAADFHDCJCEFCCAEECFOFLFDADIAACCHPDJAHCCBBAPDDAAGMDDFCAPEPEEOCAF|PJCCGAABGBAEFAARRFDDGHHHFDALPEHQCCDHAKNAABOGDLDAPDBIDACJDAAGCGCHCAFEPNFEDAC|PGFGDAACGJAQPAAIDEDCEEFKDDAGLKFCIJJHAPDAABFOSSGAGDBHDADDDAADEMDFEAGRPDEODAC|DGLEHAAEHEAECAADIEBJFDPLDCAPEDGNDFCPAOGAACDCFFJAJDDFLABEJAAJIKCFGADJPHIKNAF|PEEHFAACCDACDAAECIBCHJSEDDAEEDEDPDEXAGFAABCECCEAHEDCBADHGAAJGGHDCACHFEFXEAD|UIEHCAADMBAXGAAMOMCDQDPHFNAPMJDUOFHMAPNAADIOMEPANDDDDAPGDAAJDRCIHACFPIJDBAC|UGEDCAACPCAREAAFRGBAPIHCCJAHHFIUPXCIAGLAAEPLFDDAKGBFFAEEDAADGRBGEAFHJEECHAC|NHHJGAABICAJOAAJJPECHHICFEAHOIKEEGHGAOIAABIDPJHAFGDIFAMGDAAEHPDBEANNPMNNBAE|GHGECAACIBACEAARGOBDDEIDFGAPDBFDNDNFAJHAAEPEDBEAIFCDEACHBAAEDDCCPADFEBEIBAB|HGGGCAADJCAJCAAIFBDGPDIGHEAPGCEGFHHJADIAACGKPGIAJDCEDADFCAAHIECDCAFEPEEFHAC|FFRLBAACGBARLAARGLECKCPGJIAIDBFXDKGKADKAACGEFCKAGEDCKAILCAALLFCGCAEPGMGDKAE|PEDLDAACNCAPNAACOICBDDJDDDAIFMFJEIGJAEGAAEEIGIFAPHBCEAEIGAALEDFIPAKPFGFPEAG|EIDGEAAFHCAEPAAGDDCCXHRHHHAEJDHCJEJPADDAACHFPHPAICBDCAIECAADGIDHEAPXMEEFBAC|RKEKDAACPDAHIAAHJECBXCDFCCAEFDFDEIGFAHGAACIEDHGAHFBFBACEDAAGEFCLGACKDGCUBAD|DFMLBAABEHAGEAADPDCDXFKMHJALHIGPCENKAJMAACHFODFAECDFFADPBAAEOIEEOADNHHGIDAB|LERDBAABEBAEEAADFGCEHFEHCBAXCIECEOCDAMJAACLNFJEADCCCGAEECAAPCHCCEAENCEFDDAB|MCFRBAADCBAMCAAFEFBAXIGCGCADGLCFIPBFACFAABGCHEDAXHCCDAFCCAACIXCBCAGRLDCXBAB|XMFDLXECDDGXKKKFFABCAAICFABFFCEXAHHDGOFHHCAAEHAEXAFAAEAACMEEFXDACGHLJPAXEGD|CFEPBOEEFCIGIFDEEAEBAAPIJABIBDHCACFRPOCBFDAAFFADMADAABAACKDIDXDAJODMDHAIDCD|XGDDCFBGFBGXEHXBRADBAAFDEAFEDDDXALFRXCFFFBAAEBACLADAADAABDECEDCAGGEXBCAFCDC|XMFEBHDCGCCRCDFFFACBAAEEGAMDCEKXAKCFJEEGXCAADCADKACAACAABJFFDEEAFHCXCEACCDC|EGIUHKGFEBGILLFFEACDAAIDEADGFFCPAXCKXFHLEBAAGPACIACAACAADJEHEGEAGPCPDFAXBBB|KDEFDHEBMAIEEEDEEADBAAEFGACPCCFCACFIHHCGIBAARFAFDABAACAABBDDCDDALNDHDGAECCB|XPGICENBGCXXGCDJCAECAAHCCAEDCCECAGDEPPDFIBAARDABIABAACAACFXEDJBADCJEIDAKEDB|DGDHDRCBECHODEMJHABCAAIGCACGEGGKAHGPFIEHGBAARDACPACAADAACKGDLIBAEMEJDGAHBCD|MMDPIRDCHDBLFEKFNACEAADEIAJLGHEGACCNFHDEJCAAHFABLABAACAAGPHJFEEAJDPEJJAFBBB|IGELGRECEFFFEIEGFAEBAAGIFACKGCDDAHGHXEJEMCAAGFAJDADAABAACFXFPHEAFGFEFGAICDA|MEFJCKDDECJEDEFPEABBAAEDBABOHCEFACEPFHFCHCAAJBACHABAABAACBCEHXBAEJEFPEAMGBC|JPPREXKCLCBDHLBCGADEAAUNGADPGFDJAPGIFMUEOGAAXEADOACAACAACFENEXCAFPJGOJAMPCE|EIEKDELCEDDKGGJDNAHDAAOGFACJHLGIALPFHIKPGDAAFFADGACAAEAAFHHDGDCAMHIFJFAXBEO|FFCFBKDBDBELEDDGBADAAAHKCABEEDEEADGHDPDIDCAAPDADXAIAADAACGGFCLBAJJGIPEAXABG|PEFGGXDCIDUUDXEDOABCAAPLDAJILNDNAUPLHLFICGAAJGADXAFAAIAADIHIFDCANHFKJHAXICC|UEGKCJEGEDIDHIEGNACCAAPJPABDJBGLAFFNDKLHGFAAGJAEJACAADAAFUUDDNCAFPNFLEALDEM|UJDDFFECGJEXFHCCEABBAAHCDACDDEIXAEFKDEFHDBAAMEACGABAACAABKJGMFCAFGFXGCAGCDC|GMHEBEFDPCEEFECIFABCAADHEABEDKDPADLLMPJJBBAAJDAHJACAABAABGDFDIDAFLHEEEAPBBD|GBEDCXDCGBDEGUCIEABCAALHFABIBBEFAJKGIOIGFBAARFADFAHAABAABMCEFUBAEKGDGFAGDCD|CHDEBEHJEBGIEGEIKAEDAAFPGACPGEEDANGIECCEEBAARCACDAHAAFAADKKFFKAAEIFKJFAXCEB|LIDFHHDAJDIPGIEGHAEBAAFJPAEPHFGNAPFHGKFLHBAAPGACLABAAEAABLEGGGCACLGPDLAHCCB|LDGHCEDDFCFFODIKCACCAADDJABDCHDCAFFDLFBCCBAAEPABGACAADAABDBEDFBACIFEHKAPCEB|AEAABENEPEAAFGFFFPECXOAIDFCELFGAXPKAARKPHCJFAAKEAFCCOEKHJFAEGAEFIIDPPKHABDG|AXAAUXUFXFAAUXDXIUUUXDAUUUDVVCEAXRPAAMOJEUXDAAXRAPURRRXRRXARRARRRXURPHUARRR|AFAADXPEFCAAEXCFPBCEXEACDFCKFGCAGGEAANPJPDGHAAGCALDJPCCDEIANHAGEGGEINMEADCF|APAAHXEDRDAAMOEKXPCIXPAFHIIGGLMARXFAAXRPPHPDAAPEAHJJHCRIEXAIKAGMIIPPHKHAEHC|APAAEXMDJEAAFPIPPHEEPMAIMPEMMPPAKXNAAPXPGBPHAAGEAIEHKDEFEPAGKACHIMIRKJDADKG|AUAACXKFUEAAPFEIPJDEXCACGFFREHGARFIAAOIEECXPAAREAEOOOOUPFUAPPAOOGPEMPLPAEIF|AIAAEXPDGDAAPPKOMIGFPPAPJPCMGLLAEOPAARIFPGMIAAKGAIDPICPPHMAELAFNGRFPMEJAEJD|AXAACPJHFCAAKMIHFIGGKPAPFJDJGPHAMNLAANXHLCPGAAPDAPBPPCPLGDAIIAECIKKRPKPAMED|APAAGIGGMGAANFOKFGDBXPAIPKDEDPMAPXGAAXGHPIHPAAPCAEBOLDJIEGAJIAEDHIPILIPAEPE|AUAAHXGIXEAAXIHHKUUUXNAUUJDXRRIAXXIAAPPOGUXJAAXRALXJMCXUIXAKRAUUIXUPOPUAUUU|AFAAJGIGLDAAPPEDKLGHJPADPJGGHKJAXXPAAPPJEBPGAAECAMDGDEGMIXALPAHNOMKPPPPAECD|ANAAEXPFIDAAFEXEGMDFFLADDGCFMDGAXXJAAXXHXDIEAABDAICDGECDCCAKDARIRPHXNEPADNF|AXAACXDFOHAAFGGXJHCCKJAJMJCPNKFAXXEAAXXPEHNLAAPFAGDDIDGCBPAPGACGHPPPGIIAGLD|AXAANXPFXGAAIIEGFPBEJEAGPHGOMPHAXXPAAXXDGFMGAAECAKCMPCIECPAGRAILPMMPMLIAFBE|AXAADXLEXBAAFLEGMJCFXPAHKGDREEEAGXGAACEKGCRGAAEDALCFECUNCXAHFADREXKOHFRAEEF|ABAAEKGCPCAACPHKJGBBIEADCEDHCBPADDHAAHCFCBJDAAECABCDECDDCHAECABCEHIKJDEAFDB|AIAACXCCFDAADHCECCBBJGAHDCBKFHCACJGAAFDHCCGCAAEBAHCBBCIDCEAGDAFDKDHGPDCABCB|AEAABXMCDCAAPUDKGDDCXDAGDBCLDJDACXEAALBFEBGDAAHBAFFEDCDCCFADCABLRMCIGHIAEBE|ACAABXEBDFAAFUGBDIBEXCALCEBEDEFAPXBAACRCBCHNAADBACBCFCCFCDAEPABDCLBDJEEABCB|AKAAGFKNRGAADJCIKLEGXPAKGLRRREEAJXNAAXREMEXGAAIEAERJPFRHBSAHRAGRMRCMMCGARRR|AJAAHPDDPCAAFPEDEHBDXPAPKGGPPLIALXJAAXFOPHJHAALEAHEDGBHFFXAFKAGJHJLPOFDADCE|AXAAXXFCXCAAXPFXLUUUOIAUUWUWWWRAXRXAAXXJXXXHAAXSAXXXXXXXXXAHXARXRIXRRHXAXRX|UPAABFMCGCPXGXXPIJDFXCAJPGCKEEAKGAHLHMALXEHHAAGCAPCPCHNOCPLAGAAIFHJARADAHEB|HLAAHREFPDDDGDGMBGDCMJAPHDCFJHAIPAMRGEAHDCPFAAHFAKDDLCPEDFEAGAAPGPOARAJADDD|GHAAGPPEPEJUIPJGIFCBPPADGPCJFLAJFADOHHAJPDKHAAHEAKCFJGLLDCFAKAACHKMAEAGADDG|XEAAGEBOLDPXEFIRRFGDDGAFFPDEGDAUPADKREAFRBPEAAJCAPFIPBGFBJHACAAFGRPAPAHADCG|XDAAGMJCICRPJMHEUODEXPANGPHPDLAPCAKGMKAGEEJEAAHDAEDJMCKRDJCADAAPIPMAGAIADCH|XPAABFIBGFVVEPPERJFEPOAPIOOOOOAXPAJPPIAHVDPLAAQQAIBFEDGRCKEAIAADMRMAGAIABKD|DLAAAPDCFBFGEDXEGEBBXJACOBCFHDACEACDCCACXBMBAAKEAECFEBHDBECAEAADCHCAGAFACCC|MNAAEPIDFFRKKKXENJIJPLAIFBGPHHAORALPPGAERMIGAAHBAMDHECHEDFFAHAAGEMEAFAEAECC|XCAAILFHPOPXPLENPCICPKAPGPCJEKARPAPWWHANFCGGAAFFAGGIPDKIDMLAFAADFKPAHALADBF|PFAAGIEDPIPMKMMNRGDFJGAPFGJLNDAOPADFGPAPXCJFAAKFAFEEPDGFDHFAFAAECPDARAHAHFM|EEAADGOCHCRRCLCEGEBEPJADDIEPIJADDAEHDHAFBCFHAAEDAECFGCGBCJFADAAGERJADADABBF|XDAADXDDMEHXCPDXILDCKPAGKCEPFPAMCALIDHALRDPBAAPEACCGEGMGGRHAPAAMMEEAHAGAHBG|XKAABPFDPDRRFPOUJFEEPIAFEFFIEDAGDANKHJANPFLHAAFDADDMDFRJHROAKAAGEGIAPAEADBC|KDAADGHBCBBEDWWGGDBBXDAECCBJCDADHAEFBCAEEBDCAAEBAGBLNDGCBBCADAAKHCGAFAIABBB|FEAADRIFDBGKMKOHELBBXFAEOCEHLDABRAGILXAFEDFCAAHEADCIGCDGCLMADAAHFJGADAFADDB|XFAAOIGBPEXXJIXFHHFEPMAINJFFFFAPPALPXPAJIEPLAAGEADGEFCFLCEEADAADPXEALABADFG|XFAAFKDEEDEXGCEDRMBAIEAPECCKLFAEXAFRXGAGHCRFAAKCAKDCFAEFBXXAFAAEIXGAFAFADID|XXAAXXRRXXXXRPRXXUUUPRAUUUUXXUAXXARXPXARXJXNAAXRAUXRUUXUXRRAUAAXXPRAXARARRR|PFAACFFIICIXEPRPOGDDJNADIDEPHNAGPAHRUMAPXBGHAAOCAKIEPBPPFFXADAAELXKAPADAFDB|EEAACKGEPBDXNHEDIHBBEHAKKFFPLDAPJAGRFFAECBHDAACCAKBLHHEIBECAFAACEPFARAEACCB|FPAACRICPBHPFPLREOFDPIAIPEFHGBAGRAKLFCAFRFHFAACEAEDERECCDDIACAANFOJAFAFABGC|GCAAFGDDCBEKKGXGFEDBGLAEHEEFDCANMAGGJGAJXDGEAADCAJBCDCDOERRACAADEREAEADAIGC|XRAACXEHXEXXORHPKHDGIGAPUUFJJDAXXAORXKAPHBGPAAFRAIRONEREDVVAPAAJJXFAJADARFB|PJAABPNBOGPMDDPLPIDDHHAGPHDPPIAPPAPHJJAIPDPIAAJJAEDEFCELHLFAFAACKNKAFAHAEDP");d("cr","ARDANIDALAREHAAGARGEQEFHGIAEIHQFDALDBEFKDILEFQAKIJAAEHXQGPKFMAFIBCLEDAEAIED|AMFADCDAFACFEAAXAKOPJGGIDGAECMHXCAGEEFEEXKGXFBAEFEAAUEXEJECKDAEDEFJEJAEADCD|ADHACQKAHAHFDAAEAGIODIQHLKAMDGGCFACFFEDEXEHFHJAEFGAABBIGQLFGDAEHHGREFAEAGMJ|AMDANXGAHAPFCAALAGXOOQKGULAHFQOKDAEGCOHIEGXDIMAMXXAAQPXCFOJHXAHDJEFGQAEAGQH|AKQAIIDAQAJKFAALAHQXNPMQDCAQQOQEOADXGJBHKGLXELAFKQAADUHGFFCJKADEIHQQXADAQJH|ACJAEECAKAFFDAAFAHHCGNDFBLAIGFIFGAGNCHEDCJEFIEAHMKAAHJGIDJLGQAGEFDFFEAPAMHH|AXGAXIDAFAXXMAAKAQGDQQFFQFAFQKXXKACGDFOHHGLLCHAKEXAAQHEDGGEEXADDNCEEGADADCC|ACGAHEDADAKDPAAIACFEHKHEDJAHCJJGQACCMGIFEGXXDFAHNQAAHXFEHDGFDAEPJFEEKAJAHJH|APEAGOJAIADBEAAEAKXXQIIQDCALLNXFIAHHFLQDPNQFQNAHLLAAHPGKKHDFRALDGHHHNAFAUDG|AEHARRRAXAFKLAAIADJGHQOFCEACNHOQKAXFEHNGEDFJKMAIPIAAXEEKHXHFKAQQOFJOXANAUHC|AGCADQJAQADBLAAFAQQIJODQFGAOXQRDIAJDHLLHQODJHGAHKGAAFFMDJLKKQAJEIGEBXAHAGJG|AGDADFBAGAEGFAAFACDKFQGFIFADHJKKLADIFJKFDEXXLGAEGJAAXXXDLPEKCAFCCDRGGAHAFEJ|ALFAEFEAQADEIAAKAFFGEQQFEBAIHHMFFABCDDDEEFJGGDAFLFAAMEMGQJFFGAEELDGOEAEAIJE|AXXAQXLAXAXMXAARAXOQMQXXJEAXXQQPQAXXXXRKQXXXXXALPXAAQXXXXXXXQAXXXXQXXARAXXX|AQGADGKAGACEEAAHAKLXGQIEDGAQGQHFXAKFECGFHEFGINAJHFAALQFFEJFLGAEIGEHHDAHACCE|AXRAQDHAXAXNRAARAXOQJNUUDIAEUUXJNAXFQXQGRIMXIFANCXAAIUEFIXXIJASSSSJFXARAXRR|ACGADHEACAEGNAANAQJREFDFDEAKIIJCCAGCEHQHFLIGMEAHNCAAGIFGLJDNDAJEPQQHLAHAHGF|ARFAGFIAEACFNAARAHDFIKIEGCADXEHBLABCNDNDXJIJEFADCHAAXRFBMEENGAFHHIFGDABAHGF|AQDACDEAXAFFDAAGACQGEQQCEIADXQECDAJFDFHCCFOHGEACGDAAKHEGGFDKDAEGFQCHFACADIH|AEDADBCAIAFGHAAEAHFHPGNQCCAEXKGJQADEEOEDHHXHXKAHFGAAIXBQQQFJQAIHHGDIDAJACGI|AQGACFEAXAGMIAAFAGFLHNDOKEAHGLXDFAECDGKDHGJHRKAQDCAAGIJDEXDEMAHDMCIIEAHAEFD|AQFADHFAKAFNIAARAFLFILQQIEAOGFXGQAHHJLCGKGQGRQAIHJAAHQLDQXELQACEILEHDADADEC|APLAXOXALANFFAAEACQXPPMQFFAFNLXDCACCKIGGGDFKMPACKFAAIIIFJIFKJAGEFHHHGAKAJGD|AGEACFCADADRRAAIAFOFDOFHXJAEMCXEEACGLCDLXRQCFHAKCFAAXFXEEFGFQADCEJIMXADAHCG|AXHAXFKAFAXRRAAXARQDQQPNIKAQJKQXKAXQXXLQKOXXMQAJQQAAVVXVVXVVXAVXXVVRIAIAVVV|AXEAXFDALAKPGAAXALQQQGQGMCAFQUQXJAQHXXLDKJXXFEAKCFAAHXXFRRRDDAOEGFXLXAEAKMD|AFEAHGJABAHCBAADADKQCGECCEANFCJEFADNLKGDFFHEDLAJFGAAIDCDPDCQCADDDIGFCAFAJFE|AEDAIEXAXAGFCAAHAKQQIEQLXIAIGDXFCAIFGCGJKKHQILAEDIAANEDCERHMCACKOBCIHAIAHFM|ACKARECADAHXBAACAGIKCLQGDEAGDCXMGADHCDEGXDXFEFAMCKAAXMXCKDFGCAEDQFXOXABALQD|AQIACGEAIAEQEAAKAEDFDIFEFDABDOJDGAEMEGDDDEFGGHAGQHAAPICEGDDEQAQJNICMDAFAPQI|AJQAECDARAEFMAARAQEFHJPCFFAGKHGFFAEHDFCEXDFGEKAJNLAAXKJFHJDCCACCECIEIACAHQF|AIFAFDCARADEFAARAFQFEQKQBLAIJBFIQAQILDIDDNFFJEAIJNAASGGFERIDEAEEDCDCOABALDG|ACEAFIFARAHMIAARADHKPGIECDALFHLFFAHEJCDEKDRRFEAELGAASKGQIRLJGAQGJDFKGAMAQEE|ADIALEJARABQFAARAKKHJDJGNIAGQEQKLAIEDIDIEIJEDEAEQGAAEJGDEGCHEAEHECDEIAIAJHF|AFEAQCDAGAMCPAAIAGJJLKDEKOAMHQFEEADGCCIHXGFFDFAFDEAAXEDKQHLEGAFHBFEECAHAKIK|AFEACDFACAHKHAANAEJKMHQPEEAEHQQGFAGEJFGEQMIEILAHQGAAQGFEHRGCJAIGGHECFAQAQDD|ACDAFCEAGAFCGAANAGHFGHFIPDAFDLGHCAECIJFGDJFIHIAHHJAAIHQHEIDDEANHBEDEGAGAOFK|AXXAXGXADAXXXAAXAIQFFGOGSGAXNXXXQAXXXXSSJXXXSQASSIAARQHXXXXXXAXXXXXRRAUAIXX|AREARREARAMDKAAQAJJPQHEQFJAKGHDEEAFGCHPHOFGOFEAGPJAADKXEGNFEQAIHOGMHFAHAGCC|ARHARREARADDEAAGAQJDHIDBHEAGMQXXGAEEEDEDUDXXCMAFFNAAUUJCIXFDNADDPDKCEAGARHL|AKJAHMKAEADDQAANAHFIKGFQJKAFLQQDDAJGIDLEQHBIEFAQPPAAUUFQPFNHEAFHQDRGEAIARME|AJEADDDAEAFEQAAKAFHIIOHQQBAIEBDGMAIFMJMGFDQXECADJHAACQJEIQGFHAIIKDLMLAGAJCG|AEDADDEAXADIFAACAFEKJQGQIFAEBKIMHADCFBCHBCEEEJAHEEAAHIBCQCECEAECJOBCCAKAMFD|AFDACFDAXAHKEAAQAIEFLIOIQFAFFDQCIAJEQNIIPIQUGKAQHGAAJGQFERFBJAGFFGDFMAFAKFH|AKDAXDEAFAFXDAAIAIXXRRRRDCAFCGXHPAEQQDIDXDXQGMADDGAAFQHCGJGFXAIDCGDDFACAPCE|AMIACGDAEAGLFAAXAXNJQOFMLIADHLHFKADFGLFDXEMFUJADGNAARJEGEFKEQAENEGHKQADAGKH|AGNAQMJAFAEEEAAKAXGKEOFGGCAQGFQQHAXEMLEDFHJQDIAMKCAARMLFLIKKEAEFKGGEQADAOQO|AIBADFCAXARCHAAFAGEEMPEJEHAJDCJGCADFDFDDXJHEDGAFFEAAXJEDECFEEALEHMEIFAEADDD|ANHAEGHAEADILAAMAQHFIEDLCCALRQJXHAKHDEIEEBMHFEAGDFAAHQHMNREFPAFBGQJQHAGAIFF|ARGAHDCADADIEAARAIFPHQIFBHAGRLEXDAICXGGDDGLEJNAMNKAAJQRMERHQIACEIHKGGACALGM|ARKACCDAIAGIKAARAEJMQGQGGEAMGQHIEAIIEFCCIOXXHIAQHNAAIEQHLRIGQAEEDDRLQANAHJO|ADDACDFAJAHFFAAFAFKJDFGPFGAJEQHLIAKDCGFEGCGFGGAJMEAANCGFICFBEABMEBCEHACAHMK|AQFACCDAGAEEHAAHALGJLNHFDOAECIQGFAFFIGJLXFKCFGAEQFAAXGJHQIKQPADMQJQHNAHAIEJ|AIHAFEIACABEEAAFAXEXEPEDXDAICLEFHACHDCJKCEGBDMANQEAACPXCEFIJEADGFQXERAIAQDI|ARMARRHANAJRPAAOAIJOLQQOQKAKXQXGQAQQKMPGEQILQNAOGFAARRRRJLNEUARRRRRRRARARRE|AGLAEGEAHAQDDAAEAIDFFCKHGDAIGFXDKADCGKFMXLDXFHAECJAAXFLENFCCHAGJHLEDHANADLD|AGHALHQAIADEEAAQAXQIFMGFKEAQLNJENAGEJJCEIQFLPQAPLHAAHEPIQECHKADCFQEFNAFANFQ|AKCAFEIAEAOIGAAXAGQQHGHNHEALJKGCGAIPLGKFNHGKIQAHQHAACERNQLEEMAFNQEKDKAIAHQQ|AJEAMRRAQAPHQAAMAQQQQLQQNHAKQQDXQAODMGKGXIEMQQAJLIAAJEQEFEKJJAGQEJQEPAGAQQH|AJHANRRAOAFFDAAHAIXQDQKLEHAGJJCFKAFDQJGEQIXXDLAXXQAAXXKBFGKQFAHGQERDXAQAQDC|AXJAEXQAXAXRGAAQAXRRRRRQRQARQQXDJAXJXXRRIRRRJRAXXGAAVVRRRRRRXARXRRRXRARARRR|AJEAGCDAMAHQEAAQAFXQPQQMGQAFGJGHGACPDDKGUQGEEGAXXFAAUUEQGFDJQAHENECDGAQAELG|AFDAMENAGAJHQAAKAFQCFQJPGCAIDQECFAEEECFIDHCHDKADFEAAGGQIHIBDQAJGFQFMEAGANGC|ACMAIFHAEABGEAAQAOQECHJJEQAQCJHLQADFFGFEHFQFKKAOCGAAGKCGERNOKADQOIQGHAKAGQG|ALCAFGQAKAFDEAALAEXPEGIQECAFGGXQQAHQDIGCFGJHHKAQJPAAFXQBIQGFRAFDKHRPQAGAJLP|AREACGPADAERRAADACHXIIHHXQAEGCEXHAJXCLEQRGFXFFANXHAAEJXOEHFHOAKHDCXQXAHAECJ|ARFAELFACAJRRAAIAEQQQJDNEJAFCJXJNAGJMCHMMEOJQFAHMCAAHGHIKLHGXACGFDHGRAJAUCE|AGEAHFHAEAEBEAAUADFEDMGDXIALDQKXOAHPKCGEXFXQEPAGDKAAIRXDLRJKMAHDMCELCADAEHG|AQEAFFFALACJHAAGAIEXJHBQFIAFNIHIGAKGFKNHIRRMFGAQQDAAJQJQFQEGNALODEODDAFAPJE|AJEADDEADAEFEAADAGQHFPHEGFADEIXCDABIIQCJFGEMIDAIFFAAHFMHHJFGFAEMKHJHDADAHFH|AHDADFDAIADFLAAGAFFLGIDFEJAEDIXLQAKHJIEEXDIUGHAGEDAAXJQHKFIFQADGINDLNAIAJGD|AFIAHLFADALKQAAIAHFIQGQQOIAONDXHOAHDCLECGGQEIIAEQFAAQKFJIECFFACGHIDFHADAFEF|AXRAXIFAPAUQRAAXARPXRRRRRGARKQQRFAQXXHRREXXXRQAQDHAAQMGRRURRIARRRRRRRARARRR|AECAGHGAFADOEAAFAFEKFINEDCAFJFFDMAIECEGHKKLQCJAKHDAAHOKBQDQJEAEHCEBFEADAEFE|AFMAFKOAXAHHCAAPALMHJHQJFMAFHLKIKAGQKPGEIIGBFQAQHFAAEFFECREMHAILQLNQEAQAQDQ|AFCAGXJADAQBFAAXAGECCIGXXCAEIRRFIACEDGCLFKIFDFAPDEAAXQXELGDQRACCEIRDRAEAGDC|AGFAHLEAKADBEAAHAXCDHQGCCIAJFFCIPACEECCFMDCIKEAEFKAAXFQGEFEPEAGCHCEEHAEAEFC|AFBAGDEADACHDAAHAGHKLFPFLEAFDFLDEACDKMDEJKXXDMADQDAAXEEGFNHEBAEQDEOEJAFAFDG|ALPADEDAEAOICAAQANOXMQFQQEAFJFQFIAFQHIKDKFLEQNAIDIAAGQHEQIQQGAKHDGGORADAHNF|AXRAXIQAIAUFRAARAEQQRRRRIKAXXQQMJADHXXFHIQXXQQAQDKAARRGLKXRRQAXXXFRRIARAXXX|AJOACUUAFACGDAAEAPXJIHHKEBAXXLDHDAGCLJEEXBXXFJADJGAADXICDDGDGAEGGCDGQAFAEMK|AIBAIRRABAGBMAAEAHEGDPILCEAEFEEFFACGLGGDFDXXXNAJFCAAHUDDCLQHBAEHILLGEAFAMII|AEMAFRRAFAFCQAAXAQQXFLFLLCAFNJXXQAMDFINHDHDNHHAECEAAJUXIICBNQAGIJJECGABAQLF|AXRAXRLAGAVVVAAXAXQXRRRRNIAHQQEGQAXGXXIQEXXHEKAQIEAAFXORRXECMARRRRRORARAUUU|AFDADFGAFAFMCAAMAMQXMNEEHBAEXGQXDACHICCFEXXFGDADEGAADXDBPJCFXAIHDCFCEAGACCH|AEIAFDLAIAFIHAAXAGEXFMHQGJANKHXILAGEEDLIXFHXMJAHFNAARKXCFFHDGACQGNRQXAQADKL|AECAHELAXAGLLAAEALOXNQEICFAIFEJBDAEGDCEDCIIFQDAIGDAAKFECEEDQEAQHBEECCAGADLF|AHCALGEACAGHHAAIAXIHKKJFGFADQDFIHAHIFEFDDHQNHLAMNCAAECOFJQDHIAFEJDGDHADAEQF|AQFADDPAGADGIAAFAXQHFEGXXDAEQKHXIAGFFLFGXLDEFFAEECAAEQOBIRBIRANGJCXJXAGAHJQ|ADKAEGEAIARQGAAXAFFQDMMHCHAHLFDXHAHGGEFKEMGKELAGIOAADHDGFHDGHAHIDIEDFAEAJDE");})();</script>
</body></html>
